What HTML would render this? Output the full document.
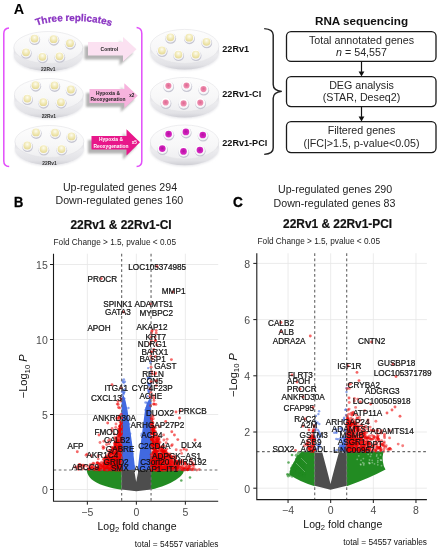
<!DOCTYPE html>
<html><head><meta charset="utf-8"><title>Figure</title>
<style>html,body{margin:0;padding:0;background:#fff;} body{width:440px;height:550px;overflow:hidden;} svg{display:block;}</style>
</head><body>
<svg width="440" height="550" viewBox="0 0 440 550">

<defs>
 <linearGradient id="ptop" x1="0" y1="0" x2="0" y2="1">
  <stop offset="0" stop-color="#fdfdfd"/><stop offset="0.6" stop-color="#f7f7f8"/><stop offset="1" stop-color="#efeff1"/>
 </linearGradient>
 <linearGradient id="pside" x1="0" y1="0" x2="0" y2="1">
  <stop offset="0" stop-color="#d9d9de"/><stop offset="0.35" stop-color="#ececef"/><stop offset="0.8" stop-color="#e2e2e6"/><stop offset="1" stop-color="#cfcfd5"/>
 </linearGradient>
 <radialGradient id="wring" cx="0.5" cy="0.42" r="0.6">
  <stop offset="0.6" stop-color="#ffffff"/><stop offset="0.9" stop-color="#f0f0f4"/><stop offset="1" stop-color="#dcdce4"/>
 </radialGradient>
 <radialGradient id="wy" cx="0.5" cy="0.35" r="0.65">
  <stop offset="0" stop-color="#fdfcf0"/><stop offset="0.55" stop-color="#f1e9b6"/><stop offset="1" stop-color="#e4d894"/>
 </radialGradient>
 <radialGradient id="wp" cx="0.5" cy="0.45" r="0.6">
  <stop offset="0" stop-color="#dc6890"/><stop offset="0.6" stop-color="#ec86aa"/><stop offset="1" stop-color="#f09ab8"/>
 </radialGradient>
 <radialGradient id="wm" cx="0.5" cy="0.45" r="0.6">
  <stop offset="0" stop-color="#b0149a"/><stop offset="0.6" stop-color="#d21ebe"/><stop offset="1" stop-color="#d43cc0"/>
 </radialGradient>
 <filter id="blur1" x="-20%" y="-20%" width="140%" height="140%"><feGaussianBlur stdDeviation="1.2"/></filter>
 <filter id="blur05" x="-20%" y="-20%" width="140%" height="140%"><feGaussianBlur stdDeviation="0.6"/></filter>
 <path id="arcT" d="M 34 27.5 C 45 18.6, 100 18.6, 113.5 28"/>
</defs>

<rect width="440" height="550" fill="#fff"/>
<text x="13.7" y="13.7" font-size="14.4" font-weight="bold" fill="#000" font-family='"Liberation Sans", Arial, sans-serif'>A</text>
<text font-size="9.9" font-weight="bold" fill="#8a34c2" stroke="#8a34c2" stroke-width="0.25" font-family='"Liberation Sans", Arial, sans-serif' letter-spacing="-0.05"><textPath href="#arcT" startOffset="50%" text-anchor="middle">Three replicates</textPath></text>
<path d="M 9 28 Q 3.8 28.5 3.8 33.5 L 3.8 161 Q 3.8 166.3 9.2 166.6" fill="none" stroke="#e24ffa" stroke-width="1.5"/>
<path d="M 136.6 27.6 Q 141.8 28.2 141.8 33.5 L 141.8 161 Q 141.8 166.3 136.6 166.6" fill="none" stroke="#e24ffa" stroke-width="1.5"/>
<ellipse cx="48.3" cy="56.0" rx="34.5" ry="16" fill="#e6e6ea" filter="url(#blur1)"/>
<path d="M 13.799999999999997 47.5 L 13.799999999999997 55.0 A 34.5 16 0 0 0 82.8 55.0 L 82.8 47.5 Z" fill="url(#pside)"/>
<ellipse cx="48.3" cy="47.5" rx="34.5" ry="16" fill="url(#ptop)" stroke="#e2e2e6" stroke-width="0.6"/>
<circle cx="34.8" cy="39.7" r="5.4" fill="#c6c6d2" filter="url(#blur05)"/>
<circle cx="34.5" cy="38.9" r="5.1" fill="url(#wring)"/>
<circle cx="34.5" cy="38.6" r="3.9" fill="url(#wy)"/>
<circle cx="53.9" cy="40.300000000000004" r="5.4" fill="#c6c6d2" filter="url(#blur05)"/>
<circle cx="53.6" cy="39.5" r="5.1" fill="url(#wring)"/>
<circle cx="53.6" cy="39.2" r="3.9" fill="url(#wy)"/>
<circle cx="70.3" cy="44.300000000000004" r="5.4" fill="#c6c6d2" filter="url(#blur05)"/>
<circle cx="70" cy="43.5" r="5.1" fill="url(#wring)"/>
<circle cx="70" cy="43.2" r="3.9" fill="url(#wy)"/>
<circle cx="26.3" cy="53.4" r="5.4" fill="#c6c6d2" filter="url(#blur05)"/>
<circle cx="26" cy="52.599999999999994" r="5.1" fill="url(#wring)"/>
<circle cx="26" cy="52.3" r="3.9" fill="url(#wy)"/>
<circle cx="42.699999999999996" cy="57.9" r="5.4" fill="#c6c6d2" filter="url(#blur05)"/>
<circle cx="42.4" cy="57.099999999999994" r="5.1" fill="url(#wring)"/>
<circle cx="42.4" cy="56.8" r="3.9" fill="url(#wy)"/>
<circle cx="59.8" cy="57.4" r="5.4" fill="#c6c6d2" filter="url(#blur05)"/>
<circle cx="59.5" cy="56.599999999999994" r="5.1" fill="url(#wring)"/>
<circle cx="59.5" cy="56.3" r="3.9" fill="url(#wy)"/>
<text x="48.3" y="70.5" font-size="4.9" font-weight="bold" text-anchor="middle" fill="#333" font-family='"Liberation Sans", Arial, sans-serif'>22Rv1</text>
<ellipse cx="48.849999999999994" cy="103.0" rx="34.5" ry="16" fill="#e6e6ea" filter="url(#blur1)"/>
<path d="M 14.349999999999994 94.5 L 14.349999999999994 102.0 A 34.5 16 0 0 0 83.35 102.0 L 83.35 94.5 Z" fill="url(#pside)"/>
<ellipse cx="48.849999999999994" cy="94.5" rx="34.5" ry="16" fill="url(#ptop)" stroke="#e2e2e6" stroke-width="0.6"/>
<circle cx="35.8" cy="86.3" r="5.4" fill="#c6c6d2" filter="url(#blur05)"/>
<circle cx="35.5" cy="85.5" r="5.1" fill="url(#wring)"/>
<circle cx="35.5" cy="85.2" r="3.9" fill="url(#wy)"/>
<circle cx="54.8" cy="86.5" r="5.4" fill="#c6c6d2" filter="url(#blur05)"/>
<circle cx="54.5" cy="85.7" r="5.1" fill="url(#wring)"/>
<circle cx="54.5" cy="85.4" r="3.9" fill="url(#wy)"/>
<circle cx="71.2" cy="90.6" r="5.4" fill="#c6c6d2" filter="url(#blur05)"/>
<circle cx="70.9" cy="89.8" r="5.1" fill="url(#wring)"/>
<circle cx="70.9" cy="89.5" r="3.9" fill="url(#wy)"/>
<circle cx="27.6" cy="99.69999999999999" r="5.4" fill="#c6c6d2" filter="url(#blur05)"/>
<circle cx="27.3" cy="98.89999999999999" r="5.1" fill="url(#wring)"/>
<circle cx="27.3" cy="98.6" r="3.9" fill="url(#wy)"/>
<circle cx="43.599999999999994" cy="103.3" r="5.4" fill="#c6c6d2" filter="url(#blur05)"/>
<circle cx="43.3" cy="102.5" r="5.1" fill="url(#wring)"/>
<circle cx="43.3" cy="102.2" r="3.9" fill="url(#wy)"/>
<circle cx="61.199999999999996" cy="103.3" r="5.4" fill="#c6c6d2" filter="url(#blur05)"/>
<circle cx="60.9" cy="102.5" r="5.1" fill="url(#wring)"/>
<circle cx="60.9" cy="102.2" r="3.9" fill="url(#wy)"/>
<text x="48.849999999999994" y="117.5" font-size="4.9" font-weight="bold" text-anchor="middle" fill="#333" font-family='"Liberation Sans", Arial, sans-serif'>22Rv1</text>
<ellipse cx="49.4" cy="150.0" rx="34.5" ry="16" fill="#e6e6ea" filter="url(#blur1)"/>
<path d="M 14.899999999999999 141.5 L 14.899999999999999 149.0 A 34.5 16 0 0 0 83.9 149.0 L 83.9 141.5 Z" fill="url(#pside)"/>
<ellipse cx="49.4" cy="141.5" rx="34.5" ry="16" fill="url(#ptop)" stroke="#e2e2e6" stroke-width="0.6"/>
<circle cx="36.3" cy="133.5" r="5.4" fill="#c6c6d2" filter="url(#blur05)"/>
<circle cx="36" cy="132.70000000000002" r="5.1" fill="url(#wring)"/>
<circle cx="36" cy="132.4" r="3.9" fill="url(#wy)"/>
<circle cx="55.3" cy="133.79999999999998" r="5.4" fill="#c6c6d2" filter="url(#blur05)"/>
<circle cx="55" cy="133.0" r="5.1" fill="url(#wring)"/>
<circle cx="55" cy="132.7" r="3.9" fill="url(#wy)"/>
<circle cx="71.8" cy="137.5" r="5.4" fill="#c6c6d2" filter="url(#blur05)"/>
<circle cx="71.5" cy="136.70000000000002" r="5.1" fill="url(#wring)"/>
<circle cx="71.5" cy="136.4" r="3.9" fill="url(#wy)"/>
<circle cx="27.6" cy="146.6" r="5.4" fill="#c6c6d2" filter="url(#blur05)"/>
<circle cx="27.3" cy="145.8" r="5.1" fill="url(#wring)"/>
<circle cx="27.3" cy="145.5" r="3.9" fill="url(#wy)"/>
<circle cx="43.9" cy="150.2" r="5.4" fill="#c6c6d2" filter="url(#blur05)"/>
<circle cx="43.6" cy="149.4" r="5.1" fill="url(#wring)"/>
<circle cx="43.6" cy="149.1" r="3.9" fill="url(#wy)"/>
<circle cx="61.8" cy="150.2" r="5.4" fill="#c6c6d2" filter="url(#blur05)"/>
<circle cx="61.5" cy="149.4" r="5.1" fill="url(#wring)"/>
<circle cx="61.5" cy="149.1" r="3.9" fill="url(#wy)"/>
<text x="49.4" y="164.5" font-size="4.9" font-weight="bold" text-anchor="middle" fill="#333" font-family='"Liberation Sans", Arial, sans-serif'>22Rv1</text>
<ellipse cx="184.6" cy="53.6" rx="34.3" ry="17" fill="#e6e6ea" filter="url(#blur1)"/>
<path d="M 150.3 46.4 L 150.3 52.6 A 34.3 17 0 0 0 218.89999999999998 52.6 L 218.89999999999998 46.4 Z" fill="url(#pside)"/>
<ellipse cx="184.6" cy="46.4" rx="34.3" ry="17" fill="url(#ptop)" stroke="#e2e2e6" stroke-width="0.6"/>
<circle cx="170.70000000000002" cy="38.4" r="5.4" fill="#c6c6d2" filter="url(#blur05)"/>
<circle cx="170.4" cy="37.599999999999994" r="5.1" fill="url(#wring)"/>
<circle cx="170.4" cy="37.3" r="3.9" fill="url(#wy)"/>
<circle cx="189.5" cy="38.800000000000004" r="5.4" fill="#c6c6d2" filter="url(#blur05)"/>
<circle cx="189.2" cy="38.0" r="5.1" fill="url(#wring)"/>
<circle cx="189.2" cy="37.7" r="3.9" fill="url(#wy)"/>
<circle cx="206.8" cy="42.9" r="5.4" fill="#c6c6d2" filter="url(#blur05)"/>
<circle cx="206.5" cy="42.099999999999994" r="5.1" fill="url(#wring)"/>
<circle cx="206.5" cy="41.8" r="3.9" fill="url(#wy)"/>
<circle cx="162.20000000000002" cy="51.6" r="5.4" fill="#c6c6d2" filter="url(#blur05)"/>
<circle cx="161.9" cy="50.8" r="5.1" fill="url(#wring)"/>
<circle cx="161.9" cy="50.5" r="3.9" fill="url(#wy)"/>
<circle cx="178.70000000000002" cy="55.7" r="5.4" fill="#c6c6d2" filter="url(#blur05)"/>
<circle cx="178.4" cy="54.9" r="5.1" fill="url(#wring)"/>
<circle cx="178.4" cy="54.6" r="3.9" fill="url(#wy)"/>
<circle cx="196.10000000000002" cy="55.7" r="5.4" fill="#c6c6d2" filter="url(#blur05)"/>
<circle cx="195.8" cy="54.9" r="5.1" fill="url(#wring)"/>
<circle cx="195.8" cy="54.6" r="3.9" fill="url(#wy)"/>
<ellipse cx="184.6" cy="101.60000000000001" rx="34.3" ry="17" fill="#e6e6ea" filter="url(#blur1)"/>
<path d="M 150.3 94.4 L 150.3 100.60000000000001 A 34.3 17 0 0 0 218.89999999999998 100.60000000000001 L 218.89999999999998 94.4 Z" fill="url(#pside)"/>
<ellipse cx="184.6" cy="94.4" rx="34.3" ry="17" fill="url(#ptop)" stroke="#e2e2e6" stroke-width="0.6"/>
<circle cx="168.70000000000002" cy="86.89999999999999" r="5.4" fill="#c6c6d2" filter="url(#blur05)"/>
<circle cx="168.4" cy="86.1" r="5.1" fill="url(#wring)"/>
<circle cx="168.4" cy="85.8" r="3.1" fill="url(#wp)"/>
<circle cx="186.8" cy="86.6" r="5.4" fill="#c6c6d2" filter="url(#blur05)"/>
<circle cx="186.5" cy="85.8" r="5.1" fill="url(#wring)"/>
<circle cx="186.5" cy="85.5" r="3.1" fill="url(#wp)"/>
<circle cx="203.8" cy="90.19999999999999" r="5.4" fill="#c6c6d2" filter="url(#blur05)"/>
<circle cx="203.5" cy="89.39999999999999" r="5.1" fill="url(#wring)"/>
<circle cx="203.5" cy="89.1" r="3.1" fill="url(#wp)"/>
<circle cx="166.0" cy="103.6" r="5.4" fill="#c6c6d2" filter="url(#blur05)"/>
<circle cx="165.7" cy="102.8" r="5.1" fill="url(#wring)"/>
<circle cx="165.7" cy="102.5" r="3.1" fill="url(#wp)"/>
<circle cx="183.9" cy="104.5" r="5.4" fill="#c6c6d2" filter="url(#blur05)"/>
<circle cx="183.6" cy="103.7" r="5.1" fill="url(#wring)"/>
<circle cx="183.6" cy="103.4" r="3.1" fill="url(#wp)"/>
<circle cx="200.60000000000002" cy="103.8" r="5.4" fill="#c6c6d2" filter="url(#blur05)"/>
<circle cx="200.3" cy="103.0" r="5.1" fill="url(#wring)"/>
<circle cx="200.3" cy="102.7" r="3.1" fill="url(#wp)"/>
<ellipse cx="184.6" cy="149.2" rx="34.3" ry="17" fill="#e6e6ea" filter="url(#blur1)"/>
<path d="M 150.3 142.0 L 150.3 148.2 A 34.3 17 0 0 0 218.89999999999998 148.2 L 218.89999999999998 142.0 Z" fill="url(#pside)"/>
<ellipse cx="184.6" cy="142.0" rx="34.3" ry="17" fill="url(#ptop)" stroke="#e2e2e6" stroke-width="0.6"/>
<circle cx="168.9" cy="135.2" r="5.4" fill="#c6c6d2" filter="url(#blur05)"/>
<circle cx="168.6" cy="134.4" r="5.1" fill="url(#wring)"/>
<circle cx="168.6" cy="134.1" r="3.35" fill="url(#wm)"/>
<circle cx="186.20000000000002" cy="133.0" r="5.4" fill="#c6c6d2" filter="url(#blur05)"/>
<circle cx="185.9" cy="132.20000000000002" r="5.1" fill="url(#wring)"/>
<circle cx="185.9" cy="131.9" r="3.35" fill="url(#wm)"/>
<circle cx="203.10000000000002" cy="136.1" r="5.4" fill="#c6c6d2" filter="url(#blur05)"/>
<circle cx="202.8" cy="135.3" r="5.1" fill="url(#wring)"/>
<circle cx="202.8" cy="135" r="3.35" fill="url(#wm)"/>
<circle cx="162.60000000000002" cy="149.7" r="5.4" fill="#c6c6d2" filter="url(#blur05)"/>
<circle cx="162.3" cy="148.9" r="5.1" fill="url(#wring)"/>
<circle cx="162.3" cy="148.6" r="3.35" fill="url(#wm)"/>
<circle cx="183.8" cy="152.5" r="5.4" fill="#c6c6d2" filter="url(#blur05)"/>
<circle cx="183.5" cy="151.70000000000002" r="5.1" fill="url(#wring)"/>
<circle cx="183.5" cy="151.4" r="3.35" fill="url(#wm)"/>
<circle cx="200.20000000000002" cy="151.2" r="5.4" fill="#c6c6d2" filter="url(#blur05)"/>
<circle cx="199.9" cy="150.4" r="5.1" fill="url(#wring)"/>
<circle cx="199.9" cy="150.1" r="3.35" fill="url(#wm)"/>
<path d="M 88 42 L 123 42 L 123 37 L 136.5 49.2 L 123 61.5 L 123 55.5 L 88 55.5 Z" fill="#9a9a9a" opacity="0.75" transform="translate(-3.5,4)" filter="url(#blur1)"/><path d="M 88 42 L 123 42 L 123 37 L 136.5 49.2 L 123 61.5 L 123 55.5 L 88 55.5 Z" fill="#fbe1f1"/>
<path d="M 89.5 89 L 124.3 89 L 124.3 83.2 L 137.8 95.7 L 124.3 108 L 124.3 103 L 89.5 103 Z" fill="#9a9a9a" opacity="0.75" transform="translate(-3.5,4)" filter="url(#blur1)"/><path d="M 89.5 89 L 124.3 89 L 124.3 83.2 L 137.8 95.7 L 124.3 108 L 124.3 103 L 89.5 103 Z" fill="#f7b3dd"/>
<path d="M 91.5 136 L 126.5 136 L 126.5 129.2 L 140 142.3 L 126.5 155.5 L 126.5 149.5 L 91.5 149.5 Z" fill="#9a9a9a" opacity="0.75" transform="translate(-3.5,4)" filter="url(#blur1)"/><path d="M 91.5 136 L 126.5 136 L 126.5 129.2 L 140 142.3 L 126.5 155.5 L 126.5 149.5 L 91.5 149.5 Z" fill="#e8178a"/>
<text x="109.4" y="50.8" font-size="4.95" font-weight="bold" text-anchor="middle" fill="#222" font-family='"Liberation Sans", Arial, sans-serif'>Control</text>
<text x="108" y="94.9" font-size="4.9" font-weight="bold" text-anchor="middle" fill="#222" font-family='"Liberation Sans", Arial, sans-serif'>Hypoxia &amp;</text>
<text x="108" y="100.8" font-size="4.9" font-weight="bold" text-anchor="middle" fill="#222" font-family='"Liberation Sans", Arial, sans-serif'>Reoxygenation</text>
<text x="131.8" y="97.3" font-size="4.6" font-weight="bold" text-anchor="middle" fill="#222" font-family='"Liberation Sans", Arial, sans-serif'>x2</text>
<text x="111" y="141.4" font-size="4.9" font-weight="bold" text-anchor="middle" fill="#fff" font-family='"Liberation Sans", Arial, sans-serif'>Hypoxia &amp;</text>
<text x="111" y="147.6" font-size="4.9" font-weight="bold" text-anchor="middle" fill="#fff" font-family='"Liberation Sans", Arial, sans-serif'>Reoxygenation</text>
<text x="134.3" y="144.1" font-size="4.6" font-weight="bold" text-anchor="middle" fill="#fff" font-family='"Liberation Sans", Arial, sans-serif'>x5</text>
<text x="222.3" y="52.4" font-size="9.1" font-weight="bold" fill="#111" font-family='"Liberation Sans", Arial, sans-serif'>22Rv1</text>
<text x="222.3" y="96.7" font-size="9.1" font-weight="bold" fill="#111" font-family='"Liberation Sans", Arial, sans-serif'>22Rv1-CI</text>
<text x="222.3" y="146.3" font-size="9.1" font-weight="bold" fill="#111" font-family='"Liberation Sans", Arial, sans-serif'>22Rv1-PCI</text>
<path d="M 264.2 28.6 Q 273.2 29.2 273.2 35 L 273.2 84.5 Q 273.2 90.6 281.8 91.4 Q 273.2 92.2 273.2 98.3 L 273.2 148 Q 273.2 153.8 264.2 154.4" fill="none" stroke="#222" stroke-width="1.45"/>
<text x="361.5" y="24.6" font-size="11.7" font-weight="bold" text-anchor="middle" fill="#111" font-family='"Liberation Sans", Arial, sans-serif'>RNA sequencing</text>
<rect x="286.5" y="31.6" width="149.5" height="29.799999999999997" rx="4.5" fill="#fff" stroke="#1a1a1a" stroke-width="1.3"/>
<rect x="286.5" y="76.6" width="149.5" height="30.0" rx="4.5" fill="#fff" stroke="#1a1a1a" stroke-width="1.3"/>
<rect x="286.5" y="121.6" width="149.5" height="31.0" rx="4.5" fill="#fff" stroke="#1a1a1a" stroke-width="1.3"/>
<text x="361.5" y="44.2" font-size="10.7" text-anchor="middle" fill="#262626" font-family='"Liberation Sans", Arial, sans-serif' >Total annotated genes</text>
<text x="361.5" y="56" font-size="10.7" text-anchor="middle" fill="#262626" font-family='"Liberation Sans", Arial, sans-serif' ><tspan font-style="italic">n</tspan> = 54,557</text>
<text x="361.5" y="89.3" font-size="10.7" text-anchor="middle" fill="#262626" font-family='"Liberation Sans", Arial, sans-serif' >DEG analysis</text>
<text x="361.5" y="101.4" font-size="10.7" text-anchor="middle" fill="#262626" font-family='"Liberation Sans", Arial, sans-serif' >(STAR, Deseq2)</text>
<text x="361.5" y="133.7" font-size="10.7" text-anchor="middle" fill="#262626" font-family='"Liberation Sans", Arial, sans-serif' >Filtered genes</text>
<text x="361.5" y="147" font-size="10.7" text-anchor="middle" fill="#262626" font-family='"Liberation Sans", Arial, sans-serif' >(|FC|&gt;1.5, p-value&lt;0.05)</text>
<line x1="361.5" y1="61.4" x2="361.5" y2="71.9" stroke="#111" stroke-width="1.2"/>
<path d="M 358.6 71.4 L 364.4 71.4 L 361.5 76.4 Z" fill="#111"/>
<line x1="361.5" y1="106.6" x2="361.5" y2="116.9" stroke="#111" stroke-width="1.2"/>
<path d="M 358.6 116.4 L 364.4 116.4 L 361.5 121.4 Z" fill="#111"/>
<clipPath id="clipB"><rect x="53.5" y="253.7" width="164.7" height="247.60000000000002"/></clipPath>
<line x1="87.35" y1="253.7" x2="87.35" y2="501.3" stroke="#e6e6e6" stroke-width="0.8"/>
<line x1="136.35" y1="253.7" x2="136.35" y2="501.3" stroke="#e6e6e6" stroke-width="0.8"/>
<line x1="185.35" y1="253.7" x2="185.35" y2="501.3" stroke="#e6e6e6" stroke-width="0.8"/>
<line x1="53.5" y1="489.50" x2="218.2" y2="489.50" stroke="#e6e6e6" stroke-width="0.8"/>
<line x1="53.5" y1="414.50" x2="218.2" y2="414.50" stroke="#e6e6e6" stroke-width="0.8"/>
<line x1="53.5" y1="339.50" x2="218.2" y2="339.50" stroke="#e6e6e6" stroke-width="0.8"/>
<line x1="53.5" y1="264.50" x2="218.2" y2="264.50" stroke="#e6e6e6" stroke-width="0.8"/>
<g clip-path="url(#clipB)">
<path d="M 121.6 470.0 L 134.2 470.0 L 136.2 482 L 138.5 470.0 L 151.0 470.0 L 151.0 489.6 L 136.3 491.3 L 121.6 489.6 Z" fill="#4d4d4d"/>
<path d="M 121.6 470 L 121.6 399 L 123.5 395 L 125.6 401 L 127.5 410 L 130.2 430 L 133 450 L 135.2 470 Z" fill="#4169e1"/>
<path d="M 151.0 470 L 151.0 398 L 148.6 400 L 146.6 404 L 145 410 L 142.5 430 L 140 450 L 137.6 470 Z" fill="#4169e1"/>
<path d="M 121.6 470 L 86.8 470 C 87.2 479, 97 486, 121.6 489.8 Z" fill="#228b22"/>
<path d="M 151.0 470 L 183.6 470.3 C 185 475, 172 485, 151.0 489.6 Z" fill="#228b22"/>
<g fill="#4169e1" fill-opacity="0.6">
<circle cx="142.8" cy="465.1" r="1.2"/>
<circle cx="123.7" cy="382.8" r="1.2"/>
<circle cx="150.2" cy="430.8" r="1.2"/>
<circle cx="123.9" cy="379.5" r="1.2"/>
<circle cx="124.4" cy="398.6" r="1.2"/>
<circle cx="132.5" cy="453.7" r="1.2"/>
<circle cx="125.9" cy="435.3" r="1.2"/>
<circle cx="127.5" cy="430.2" r="1.2"/>
<circle cx="122.2" cy="380.4" r="1.2"/>
<circle cx="147.4" cy="415.4" r="1.2"/>
<circle cx="148.0" cy="428.7" r="1.2"/>
<circle cx="125.2" cy="430.7" r="1.2"/>
<circle cx="149.7" cy="385.2" r="1.2"/>
<circle cx="126.8" cy="434.2" r="1.2"/>
<circle cx="144.7" cy="449.1" r="1.2"/>
<circle cx="145.5" cy="410.0" r="1.2"/>
<circle cx="130.0" cy="441.7" r="1.2"/>
<circle cx="149.9" cy="425.4" r="1.2"/>
<circle cx="150.9" cy="403.1" r="1.2"/>
<circle cx="129.2" cy="424.1" r="1.2"/>
<circle cx="148.4" cy="390.3" r="1.2"/>
<circle cx="134.4" cy="466.4" r="1.2"/>
<circle cx="146.4" cy="408.0" r="1.2"/>
<circle cx="145.8" cy="430.5" r="1.2"/>
<circle cx="128.8" cy="464.8" r="1.2"/>
<circle cx="122.9" cy="381.7" r="1.2"/>
<circle cx="147.0" cy="402.8" r="1.2"/>
<circle cx="149.0" cy="378.1" r="1.2"/>
<circle cx="126.7" cy="433.4" r="1.2"/>
<circle cx="131.9" cy="448.2" r="1.2"/>
<circle cx="122.3" cy="413.4" r="1.2"/>
<circle cx="148.6" cy="383.6" r="1.2"/>
<circle cx="148.7" cy="459.0" r="1.2"/>
<circle cx="150.9" cy="442.4" r="1.2"/>
<circle cx="139.4" cy="466.0" r="1.2"/>
<circle cx="123.4" cy="390.2" r="1.2"/>
<circle cx="125.2" cy="421.6" r="1.2"/>
<circle cx="145.5" cy="402.5" r="1.2"/>
<circle cx="144.2" cy="433.3" r="1.2"/>
<circle cx="126.9" cy="440.9" r="1.2"/>
<circle cx="122.7" cy="418.9" r="1.2"/>
<circle cx="146.3" cy="413.4" r="1.2"/>
<circle cx="141.4" cy="435.6" r="1.2"/>
<circle cx="129.5" cy="468.6" r="1.2"/>
<circle cx="128.4" cy="408.0" r="1.2"/>
<circle cx="126.1" cy="429.3" r="1.2"/>
<circle cx="141.7" cy="433.7" r="1.2"/>
<circle cx="130.2" cy="433.7" r="1.2"/>
<circle cx="145.6" cy="465.8" r="1.2"/>
<circle cx="150.3" cy="387.5" r="1.2"/>
<circle cx="145.1" cy="421.2" r="1.2"/>
<circle cx="124.7" cy="385.6" r="1.2"/>
<circle cx="148.4" cy="421.0" r="1.2"/>
<circle cx="121.9" cy="395.3" r="1.2"/>
<circle cx="148.7" cy="389.8" r="1.2"/>
<circle cx="129.8" cy="447.3" r="1.2"/>
<circle cx="129.8" cy="441.4" r="1.2"/>
<circle cx="142.5" cy="461.4" r="1.2"/>
<circle cx="123.7" cy="426.1" r="1.2"/>
<circle cx="147.1" cy="435.8" r="1.2"/>
<circle cx="150.3" cy="389.8" r="1.2"/>
<circle cx="148.2" cy="368.1" r="1.2"/>
<circle cx="148.9" cy="391.7" r="1.2"/>
<circle cx="148.2" cy="378.7" r="1.2"/>
<circle cx="150.1" cy="399.6" r="1.2"/>
<circle cx="150.3" cy="377.8" r="1.2"/>
<circle cx="148.2" cy="383.4" r="1.2"/>
<circle cx="148.7" cy="392.0" r="1.2"/>
<circle cx="150.0" cy="372.7" r="1.2"/>
<circle cx="150.9" cy="361.4" r="1.2"/>
<circle cx="147.9" cy="377.7" r="1.2"/>
<circle cx="148.7" cy="378.3" r="1.2"/>
<circle cx="150.9" cy="383.6" r="1.2"/>
<circle cx="147.5" cy="396.2" r="1.2"/>
<circle cx="148.7" cy="385.0" r="1.2"/>
<circle cx="150.4" cy="363.0" r="1.2"/>
<circle cx="123.4" cy="394.2" r="1.2"/>
<circle cx="122.6" cy="397.8" r="1.2"/>
<circle cx="123.6" cy="392.7" r="1.2"/>
<circle cx="122.2" cy="398.9" r="1.2"/>
<circle cx="124.8" cy="389.3" r="1.2"/>
<circle cx="124.9" cy="381.7" r="1.2"/>
<circle cx="122.5" cy="399.9" r="1.2"/>
<circle cx="121.9" cy="391.8" r="1.2"/>
<circle cx="123.8" cy="393.1" r="1.2"/>
<circle cx="124.4" cy="391.9" r="1.2"/>
<circle cx="123.8" cy="398.7" r="1.2"/>
<circle cx="122.5" cy="391.0" r="1.2"/>
</g>
<g fill="#ee0000" fill-opacity="0.55">
<circle cx="150.6" cy="397.5" r="1.45"/>
<circle cx="155.2" cy="336.9" r="1.45"/>
<circle cx="155.4" cy="340.1" r="1.45"/>
<circle cx="156.9" cy="344.9" r="1.45"/>
<circle cx="156.2" cy="330.4" r="1.45"/>
<circle cx="151.9" cy="371.6" r="1.45"/>
<circle cx="155.5" cy="356.4" r="1.45"/>
<circle cx="154.0" cy="400.6" r="1.45"/>
<circle cx="150.9" cy="392.4" r="1.45"/>
<circle cx="156.3" cy="385.6" r="1.45"/>
<circle cx="155.8" cy="373.0" r="1.45"/>
<circle cx="155.9" cy="404.4" r="1.45"/>
<circle cx="151.3" cy="341.2" r="1.45"/>
<circle cx="153.8" cy="403.9" r="1.45"/>
<circle cx="155.5" cy="380.9" r="1.45"/>
<circle cx="155.5" cy="341.0" r="1.45"/>
<circle cx="151.4" cy="381.9" r="1.45"/>
<circle cx="151.3" cy="333.4" r="1.45"/>
<circle cx="154.9" cy="374.2" r="1.45"/>
<circle cx="153.6" cy="395.6" r="1.45"/>
<circle cx="156.2" cy="332.9" r="1.45"/>
<circle cx="151.7" cy="331.7" r="1.45"/>
<circle cx="151.1" cy="367.3" r="1.45"/>
<circle cx="150.7" cy="405.8" r="1.45"/>
<circle cx="150.9" cy="356.3" r="1.45"/>
<circle cx="156.8" cy="380.7" r="1.45"/>
<circle cx="151.8" cy="352.1" r="1.45"/>
<circle cx="153.8" cy="398.2" r="1.45"/>
<circle cx="153.8" cy="349.5" r="1.45"/>
<circle cx="153.9" cy="404.2" r="1.45"/>
<circle cx="121.1" cy="422.7" r="1.45"/>
<circle cx="120.9" cy="401.1" r="1.45"/>
<circle cx="118.5" cy="407.5" r="1.45"/>
<circle cx="118.2" cy="404.5" r="1.45"/>
<circle cx="119.7" cy="407.9" r="1.45"/>
<circle cx="117.2" cy="404.1" r="1.45"/>
<circle cx="116.7" cy="418.3" r="1.45"/>
<circle cx="121.2" cy="414.3" r="1.45"/>
</g>
<g fill="#ee0000" fill-opacity="0.5">
<circle cx="117.4" cy="466.1" r="1.45"/>
<circle cx="120.3" cy="456.3" r="1.45"/>
<circle cx="108.9" cy="469.6" r="1.45"/>
<circle cx="101.5" cy="469.4" r="1.45"/>
<circle cx="111.4" cy="468.1" r="1.45"/>
<circle cx="110.2" cy="451.7" r="1.45"/>
<circle cx="116.8" cy="461.7" r="1.45"/>
<circle cx="117.5" cy="469.2" r="1.45"/>
<circle cx="117.4" cy="463.8" r="1.45"/>
<circle cx="115.9" cy="452.7" r="1.45"/>
<circle cx="117.1" cy="458.1" r="1.45"/>
<circle cx="118.4" cy="434.0" r="1.45"/>
<circle cx="120.5" cy="428.5" r="1.45"/>
<circle cx="119.2" cy="436.2" r="1.45"/>
<circle cx="120.8" cy="463.9" r="1.45"/>
<circle cx="99.6" cy="469.4" r="1.45"/>
<circle cx="108.5" cy="458.3" r="1.45"/>
<circle cx="104.0" cy="463.7" r="1.45"/>
<circle cx="94.5" cy="468.2" r="1.45"/>
<circle cx="114.5" cy="460.8" r="1.45"/>
<circle cx="115.3" cy="465.2" r="1.45"/>
<circle cx="118.6" cy="442.6" r="1.45"/>
<circle cx="119.8" cy="433.1" r="1.45"/>
<circle cx="118.7" cy="469.9" r="1.45"/>
<circle cx="120.8" cy="464.3" r="1.45"/>
<circle cx="112.9" cy="467.9" r="1.45"/>
<circle cx="118.8" cy="468.6" r="1.45"/>
<circle cx="121.5" cy="417.8" r="1.45"/>
<circle cx="116.6" cy="441.9" r="1.45"/>
<circle cx="112.6" cy="469.8" r="1.45"/>
<circle cx="110.1" cy="453.5" r="1.45"/>
<circle cx="89.2" cy="469.2" r="1.45"/>
<circle cx="119.8" cy="430.5" r="1.45"/>
<circle cx="112.4" cy="461.9" r="1.45"/>
<circle cx="119.5" cy="458.2" r="1.45"/>
<circle cx="111.3" cy="467.5" r="1.45"/>
<circle cx="106.5" cy="456.2" r="1.45"/>
<circle cx="121.3" cy="469.9" r="1.45"/>
<circle cx="115.1" cy="442.9" r="1.45"/>
<circle cx="114.9" cy="467.1" r="1.45"/>
<circle cx="116.1" cy="454.1" r="1.45"/>
<circle cx="111.9" cy="459.2" r="1.45"/>
<circle cx="114.3" cy="448.4" r="1.45"/>
<circle cx="88.9" cy="469.0" r="1.45"/>
<circle cx="119.4" cy="466.0" r="1.45"/>
<circle cx="119.6" cy="434.6" r="1.45"/>
<circle cx="109.5" cy="469.2" r="1.45"/>
<circle cx="79.3" cy="464.5" r="1.45"/>
<circle cx="104.8" cy="470.0" r="1.45"/>
<circle cx="112.5" cy="451.8" r="1.45"/>
<circle cx="116.4" cy="469.7" r="1.45"/>
<circle cx="111.5" cy="465.6" r="1.45"/>
<circle cx="115.1" cy="443.2" r="1.45"/>
<circle cx="113.1" cy="456.9" r="1.45"/>
<circle cx="121.2" cy="466.5" r="1.45"/>
<circle cx="118.7" cy="470.0" r="1.45"/>
<circle cx="117.4" cy="464.1" r="1.45"/>
<circle cx="82.6" cy="469.0" r="1.45"/>
<circle cx="121.3" cy="427.8" r="1.45"/>
<circle cx="119.4" cy="467.2" r="1.45"/>
<circle cx="117.8" cy="469.3" r="1.45"/>
<circle cx="118.6" cy="450.0" r="1.45"/>
<circle cx="119.0" cy="442.8" r="1.45"/>
<circle cx="120.8" cy="434.8" r="1.45"/>
<circle cx="120.2" cy="450.4" r="1.45"/>
<circle cx="117.0" cy="465.1" r="1.45"/>
<circle cx="112.4" cy="469.6" r="1.45"/>
<circle cx="92.2" cy="464.6" r="1.45"/>
<circle cx="120.1" cy="432.1" r="1.45"/>
<circle cx="107.4" cy="463.5" r="1.45"/>
<circle cx="108.2" cy="460.7" r="1.45"/>
<circle cx="115.3" cy="466.2" r="1.45"/>
<circle cx="112.7" cy="469.0" r="1.45"/>
<circle cx="105.4" cy="462.5" r="1.45"/>
<circle cx="115.0" cy="462.8" r="1.45"/>
<circle cx="110.4" cy="463.7" r="1.45"/>
<circle cx="99.2" cy="464.2" r="1.45"/>
<circle cx="113.8" cy="452.0" r="1.45"/>
<circle cx="121.5" cy="441.3" r="1.45"/>
<circle cx="106.8" cy="461.8" r="1.45"/>
<circle cx="92.6" cy="466.5" r="1.45"/>
<circle cx="120.8" cy="469.7" r="1.45"/>
<circle cx="112.2" cy="449.7" r="1.45"/>
<circle cx="117.3" cy="460.4" r="1.45"/>
<circle cx="121.2" cy="469.9" r="1.45"/>
<circle cx="114.6" cy="467.2" r="1.45"/>
<circle cx="118.8" cy="458.6" r="1.45"/>
<circle cx="121.0" cy="425.5" r="1.45"/>
<circle cx="100.4" cy="469.8" r="1.45"/>
<circle cx="114.7" cy="453.1" r="1.45"/>
<circle cx="115.7" cy="448.9" r="1.45"/>
<circle cx="104.2" cy="468.8" r="1.45"/>
<circle cx="108.5" cy="468.4" r="1.45"/>
<circle cx="111.9" cy="463.9" r="1.45"/>
<circle cx="104.3" cy="469.8" r="1.45"/>
<circle cx="99.2" cy="468.8" r="1.45"/>
<circle cx="121.2" cy="445.5" r="1.45"/>
<circle cx="119.6" cy="450.9" r="1.45"/>
<circle cx="117.9" cy="451.5" r="1.45"/>
<circle cx="110.7" cy="461.1" r="1.45"/>
<circle cx="120.3" cy="455.5" r="1.45"/>
<circle cx="115.5" cy="442.2" r="1.45"/>
<circle cx="120.7" cy="465.8" r="1.45"/>
<circle cx="115.4" cy="453.3" r="1.45"/>
<circle cx="118.5" cy="458.5" r="1.45"/>
<circle cx="108.1" cy="454.6" r="1.45"/>
<circle cx="114.2" cy="466.0" r="1.45"/>
<circle cx="120.8" cy="455.2" r="1.45"/>
<circle cx="118.5" cy="469.4" r="1.45"/>
<circle cx="115.1" cy="442.2" r="1.45"/>
<circle cx="117.1" cy="440.5" r="1.45"/>
<circle cx="96.8" cy="469.9" r="1.45"/>
<circle cx="120.8" cy="439.4" r="1.45"/>
<circle cx="118.8" cy="462.2" r="1.45"/>
<circle cx="113.0" cy="458.8" r="1.45"/>
<circle cx="118.6" cy="468.8" r="1.45"/>
<circle cx="117.4" cy="458.5" r="1.45"/>
<circle cx="102.2" cy="467.6" r="1.45"/>
<circle cx="120.0" cy="428.3" r="1.45"/>
<circle cx="111.0" cy="465.4" r="1.45"/>
<circle cx="109.6" cy="465.7" r="1.45"/>
<circle cx="117.3" cy="468.8" r="1.45"/>
<circle cx="117.9" cy="463.9" r="1.45"/>
<circle cx="117.8" cy="461.7" r="1.45"/>
<circle cx="95.5" cy="469.4" r="1.45"/>
<circle cx="121.5" cy="437.5" r="1.45"/>
<circle cx="118.9" cy="469.5" r="1.45"/>
<circle cx="117.0" cy="443.0" r="1.45"/>
<circle cx="120.9" cy="426.4" r="1.45"/>
<circle cx="108.5" cy="457.5" r="1.45"/>
<circle cx="118.6" cy="469.6" r="1.45"/>
<circle cx="111.6" cy="460.1" r="1.45"/>
<circle cx="120.1" cy="426.3" r="1.45"/>
<circle cx="116.3" cy="465.0" r="1.45"/>
<circle cx="107.8" cy="459.6" r="1.45"/>
<circle cx="116.5" cy="469.9" r="1.45"/>
<circle cx="108.3" cy="466.3" r="1.45"/>
<circle cx="102.2" cy="465.9" r="1.45"/>
<circle cx="119.5" cy="469.2" r="1.45"/>
<circle cx="96.4" cy="468.1" r="1.45"/>
<circle cx="112.8" cy="469.0" r="1.45"/>
<circle cx="102.7" cy="466.6" r="1.45"/>
<circle cx="99.0" cy="466.5" r="1.45"/>
<circle cx="119.9" cy="459.1" r="1.45"/>
<circle cx="118.6" cy="465.6" r="1.45"/>
<circle cx="109.2" cy="461.4" r="1.45"/>
<circle cx="116.8" cy="466.7" r="1.45"/>
<circle cx="115.5" cy="454.7" r="1.45"/>
<circle cx="120.5" cy="446.7" r="1.45"/>
<circle cx="120.9" cy="453.6" r="1.45"/>
<circle cx="106.1" cy="464.8" r="1.45"/>
<circle cx="116.0" cy="464.7" r="1.45"/>
<circle cx="108.4" cy="465.9" r="1.45"/>
<circle cx="114.3" cy="467.3" r="1.45"/>
<circle cx="119.9" cy="452.6" r="1.45"/>
<circle cx="118.1" cy="462.5" r="1.45"/>
<circle cx="106.2" cy="468.9" r="1.45"/>
<circle cx="121.5" cy="428.1" r="1.45"/>
<circle cx="117.2" cy="448.7" r="1.45"/>
<circle cx="119.5" cy="464.7" r="1.45"/>
<circle cx="108.7" cy="464.7" r="1.45"/>
<circle cx="113.7" cy="465.2" r="1.45"/>
<circle cx="110.8" cy="463.0" r="1.45"/>
<circle cx="107.1" cy="458.9" r="1.45"/>
<circle cx="120.7" cy="429.2" r="1.45"/>
<circle cx="117.1" cy="453.1" r="1.45"/>
<circle cx="116.4" cy="465.1" r="1.45"/>
<circle cx="106.0" cy="457.3" r="1.45"/>
<circle cx="120.4" cy="458.1" r="1.45"/>
<circle cx="108.2" cy="458.9" r="1.45"/>
<circle cx="89.5" cy="467.9" r="1.45"/>
<circle cx="120.9" cy="425.8" r="1.45"/>
<circle cx="97.1" cy="467.0" r="1.45"/>
<circle cx="115.8" cy="461.7" r="1.45"/>
<circle cx="107.4" cy="468.6" r="1.45"/>
<circle cx="120.1" cy="426.4" r="1.45"/>
<circle cx="120.6" cy="434.9" r="1.45"/>
<circle cx="110.4" cy="455.7" r="1.45"/>
<circle cx="100.7" cy="469.8" r="1.45"/>
<circle cx="107.7" cy="470.0" r="1.45"/>
<circle cx="120.4" cy="450.9" r="1.45"/>
<circle cx="121.3" cy="440.0" r="1.45"/>
<circle cx="91.1" cy="466.8" r="1.45"/>
<circle cx="114.7" cy="462.8" r="1.45"/>
<circle cx="108.2" cy="469.6" r="1.45"/>
<circle cx="118.3" cy="435.2" r="1.45"/>
<circle cx="119.7" cy="464.9" r="1.45"/>
<circle cx="107.1" cy="470.0" r="1.45"/>
<circle cx="114.5" cy="443.6" r="1.45"/>
<circle cx="118.6" cy="463.8" r="1.45"/>
<circle cx="104.6" cy="468.7" r="1.45"/>
<circle cx="114.7" cy="459.7" r="1.45"/>
<circle cx="121.4" cy="457.5" r="1.45"/>
<circle cx="111.9" cy="469.8" r="1.45"/>
<circle cx="119.6" cy="434.2" r="1.45"/>
<circle cx="112.0" cy="469.6" r="1.45"/>
<circle cx="119.2" cy="459.4" r="1.45"/>
<circle cx="117.3" cy="458.8" r="1.45"/>
<circle cx="110.6" cy="458.8" r="1.45"/>
<circle cx="117.5" cy="462.0" r="1.45"/>
<circle cx="121.6" cy="462.6" r="1.45"/>
<circle cx="104.3" cy="469.8" r="1.45"/>
<circle cx="115.3" cy="467.8" r="1.45"/>
<circle cx="108.1" cy="468.9" r="1.45"/>
<circle cx="115.8" cy="466.4" r="1.45"/>
<circle cx="101.2" cy="469.7" r="1.45"/>
<circle cx="112.6" cy="459.8" r="1.45"/>
<circle cx="100.5" cy="467.0" r="1.45"/>
<circle cx="99.2" cy="469.9" r="1.45"/>
<circle cx="113.2" cy="449.1" r="1.45"/>
<circle cx="121.1" cy="469.9" r="1.45"/>
<circle cx="113.2" cy="464.2" r="1.45"/>
<circle cx="110.1" cy="468.8" r="1.45"/>
<circle cx="116.1" cy="452.1" r="1.45"/>
<circle cx="118.1" cy="468.8" r="1.45"/>
<circle cx="120.9" cy="467.2" r="1.45"/>
<circle cx="119.7" cy="447.9" r="1.45"/>
<circle cx="114.7" cy="461.9" r="1.45"/>
<circle cx="118.2" cy="447.5" r="1.45"/>
<circle cx="104.6" cy="458.1" r="1.45"/>
<circle cx="116.2" cy="469.1" r="1.45"/>
<circle cx="120.9" cy="469.1" r="1.45"/>
<circle cx="116.6" cy="443.5" r="1.45"/>
<circle cx="114.0" cy="453.7" r="1.45"/>
<circle cx="117.2" cy="447.5" r="1.45"/>
<circle cx="118.2" cy="443.4" r="1.45"/>
<circle cx="120.8" cy="442.1" r="1.45"/>
<circle cx="119.6" cy="453.7" r="1.45"/>
<circle cx="116.1" cy="464.9" r="1.45"/>
<circle cx="109.2" cy="464.8" r="1.45"/>
<circle cx="112.4" cy="467.6" r="1.45"/>
<circle cx="112.5" cy="464.7" r="1.45"/>
<circle cx="117.3" cy="459.9" r="1.45"/>
<circle cx="106.5" cy="469.8" r="1.45"/>
<circle cx="119.6" cy="469.5" r="1.45"/>
<circle cx="113.0" cy="465.4" r="1.45"/>
<circle cx="117.9" cy="436.2" r="1.45"/>
<circle cx="121.2" cy="438.0" r="1.45"/>
<circle cx="110.8" cy="453.0" r="1.45"/>
<circle cx="118.4" cy="447.3" r="1.45"/>
<circle cx="113.2" cy="453.2" r="1.45"/>
<circle cx="94.4" cy="469.9" r="1.45"/>
<circle cx="105.4" cy="469.6" r="1.45"/>
<circle cx="109.9" cy="464.7" r="1.45"/>
<circle cx="107.7" cy="459.6" r="1.45"/>
<circle cx="98.9" cy="463.6" r="1.45"/>
<circle cx="120.3" cy="454.8" r="1.45"/>
<circle cx="121.6" cy="422.9" r="1.45"/>
<circle cx="118.3" cy="448.9" r="1.45"/>
<circle cx="120.1" cy="465.5" r="1.45"/>
<circle cx="103.3" cy="466.7" r="1.45"/>
<circle cx="107.4" cy="463.5" r="1.45"/>
<circle cx="115.0" cy="463.8" r="1.45"/>
<circle cx="120.0" cy="459.2" r="1.45"/>
<circle cx="111.9" cy="463.4" r="1.45"/>
<circle cx="114.3" cy="468.6" r="1.45"/>
<circle cx="116.5" cy="469.1" r="1.45"/>
<circle cx="121.0" cy="446.6" r="1.45"/>
<circle cx="119.5" cy="459.3" r="1.45"/>
<circle cx="80.1" cy="464.6" r="1.45"/>
<circle cx="119.9" cy="468.2" r="1.45"/>
<circle cx="115.9" cy="444.8" r="1.45"/>
<circle cx="119.2" cy="454.6" r="1.45"/>
<circle cx="107.8" cy="460.2" r="1.45"/>
<circle cx="107.6" cy="467.9" r="1.45"/>
<circle cx="118.6" cy="465.2" r="1.45"/>
<circle cx="118.9" cy="465.3" r="1.45"/>
<circle cx="116.3" cy="467.9" r="1.45"/>
<circle cx="119.1" cy="464.5" r="1.45"/>
<circle cx="99.5" cy="469.4" r="1.45"/>
<circle cx="121.0" cy="464.5" r="1.45"/>
<circle cx="119.0" cy="455.3" r="1.45"/>
<circle cx="111.9" cy="469.4" r="1.45"/>
<circle cx="115.8" cy="469.8" r="1.45"/>
<circle cx="121.6" cy="426.5" r="1.45"/>
<circle cx="119.2" cy="458.5" r="1.45"/>
<circle cx="117.3" cy="442.0" r="1.45"/>
<circle cx="119.2" cy="469.6" r="1.45"/>
<circle cx="113.1" cy="452.6" r="1.45"/>
<circle cx="119.6" cy="469.3" r="1.45"/>
<circle cx="115.0" cy="468.2" r="1.45"/>
<circle cx="113.0" cy="454.5" r="1.45"/>
<circle cx="111.5" cy="470.0" r="1.45"/>
<circle cx="112.2" cy="457.4" r="1.45"/>
<circle cx="117.6" cy="469.8" r="1.45"/>
<circle cx="117.8" cy="469.7" r="1.45"/>
<circle cx="121.3" cy="438.8" r="1.45"/>
<circle cx="98.8" cy="463.6" r="1.45"/>
<circle cx="105.7" cy="466.8" r="1.45"/>
<circle cx="117.3" cy="453.8" r="1.45"/>
<circle cx="120.9" cy="469.8" r="1.45"/>
<circle cx="115.3" cy="461.1" r="1.45"/>
<circle cx="116.8" cy="447.2" r="1.45"/>
<circle cx="111.5" cy="469.0" r="1.45"/>
<circle cx="114.5" cy="456.5" r="1.45"/>
<circle cx="116.9" cy="465.9" r="1.45"/>
<circle cx="80.3" cy="467.0" r="1.45"/>
<circle cx="116.6" cy="469.7" r="1.45"/>
<circle cx="108.9" cy="456.4" r="1.45"/>
<circle cx="116.7" cy="469.9" r="1.45"/>
<circle cx="108.1" cy="459.0" r="1.45"/>
<circle cx="112.0" cy="465.2" r="1.45"/>
<circle cx="116.8" cy="440.0" r="1.45"/>
<circle cx="116.3" cy="468.4" r="1.45"/>
<circle cx="120.5" cy="469.0" r="1.45"/>
<circle cx="113.6" cy="465.1" r="1.45"/>
<circle cx="107.8" cy="469.4" r="1.45"/>
<circle cx="121.2" cy="467.7" r="1.45"/>
<circle cx="106.4" cy="466.9" r="1.45"/>
<circle cx="113.7" cy="448.0" r="1.45"/>
<circle cx="109.2" cy="469.0" r="1.45"/>
<circle cx="117.7" cy="468.0" r="1.45"/>
<circle cx="119.9" cy="469.4" r="1.45"/>
<circle cx="117.1" cy="448.3" r="1.45"/>
<circle cx="107.0" cy="459.8" r="1.45"/>
<circle cx="118.3" cy="441.3" r="1.45"/>
<circle cx="121.2" cy="425.9" r="1.45"/>
<circle cx="118.1" cy="453.1" r="1.45"/>
<circle cx="112.2" cy="469.6" r="1.45"/>
<circle cx="110.1" cy="460.0" r="1.45"/>
<circle cx="101.0" cy="465.1" r="1.45"/>
<circle cx="103.6" cy="464.7" r="1.45"/>
<circle cx="112.8" cy="468.3" r="1.45"/>
<circle cx="115.7" cy="458.1" r="1.45"/>
<circle cx="121.3" cy="423.8" r="1.45"/>
<circle cx="120.1" cy="461.2" r="1.45"/>
<circle cx="120.1" cy="426.4" r="1.45"/>
<circle cx="105.9" cy="469.0" r="1.45"/>
<circle cx="101.6" cy="462.2" r="1.45"/>
<circle cx="111.3" cy="459.5" r="1.45"/>
<circle cx="118.0" cy="461.8" r="1.45"/>
<circle cx="116.0" cy="446.5" r="1.45"/>
<circle cx="107.6" cy="462.4" r="1.45"/>
<circle cx="118.2" cy="465.9" r="1.45"/>
<circle cx="117.1" cy="463.2" r="1.45"/>
<circle cx="115.1" cy="468.2" r="1.45"/>
<circle cx="121.6" cy="418.1" r="1.45"/>
<circle cx="115.8" cy="461.7" r="1.45"/>
<circle cx="112.7" cy="453.6" r="1.45"/>
<circle cx="104.8" cy="461.2" r="1.45"/>
<circle cx="116.9" cy="469.5" r="1.45"/>
<circle cx="117.5" cy="462.9" r="1.45"/>
<circle cx="106.6" cy="465.3" r="1.45"/>
<circle cx="111.7" cy="469.9" r="1.45"/>
<circle cx="120.4" cy="429.0" r="1.45"/>
<circle cx="118.1" cy="447.8" r="1.45"/>
<circle cx="120.9" cy="438.8" r="1.45"/>
<circle cx="100.7" cy="465.1" r="1.45"/>
<circle cx="107.4" cy="469.9" r="1.45"/>
<circle cx="121.0" cy="447.1" r="1.45"/>
<circle cx="110.7" cy="469.4" r="1.45"/>
<circle cx="120.3" cy="431.6" r="1.45"/>
<circle cx="118.5" cy="442.2" r="1.45"/>
<circle cx="106.9" cy="462.2" r="1.45"/>
<circle cx="109.8" cy="468.4" r="1.45"/>
<circle cx="105.0" cy="464.3" r="1.45"/>
<circle cx="118.9" cy="463.3" r="1.45"/>
<circle cx="112.8" cy="450.5" r="1.45"/>
<circle cx="116.0" cy="466.6" r="1.45"/>
<circle cx="90.6" cy="467.9" r="1.45"/>
<circle cx="113.3" cy="459.0" r="1.45"/>
<circle cx="119.1" cy="461.5" r="1.45"/>
<circle cx="119.6" cy="459.9" r="1.45"/>
<circle cx="112.2" cy="467.2" r="1.45"/>
<circle cx="118.0" cy="462.3" r="1.45"/>
<circle cx="107.0" cy="468.3" r="1.45"/>
<circle cx="108.0" cy="469.9" r="1.45"/>
<circle cx="103.5" cy="459.2" r="1.45"/>
<circle cx="116.0" cy="459.2" r="1.45"/>
<circle cx="110.8" cy="453.8" r="1.45"/>
<circle cx="118.9" cy="455.0" r="1.45"/>
<circle cx="103.6" cy="463.0" r="1.45"/>
<circle cx="117.3" cy="462.7" r="1.45"/>
<circle cx="117.4" cy="468.4" r="1.45"/>
<circle cx="117.9" cy="469.3" r="1.45"/>
<circle cx="119.2" cy="450.8" r="1.45"/>
<circle cx="92.1" cy="469.0" r="1.45"/>
<circle cx="114.9" cy="465.8" r="1.45"/>
<circle cx="90.2" cy="464.7" r="1.45"/>
<circle cx="97.1" cy="463.1" r="1.45"/>
<circle cx="109.4" cy="459.2" r="1.45"/>
<circle cx="119.3" cy="464.1" r="1.45"/>
<circle cx="112.5" cy="464.5" r="1.45"/>
<circle cx="117.4" cy="469.7" r="1.45"/>
<circle cx="115.4" cy="456.8" r="1.45"/>
<circle cx="121.2" cy="469.5" r="1.45"/>
<circle cx="113.9" cy="466.3" r="1.45"/>
<circle cx="114.8" cy="460.0" r="1.45"/>
<circle cx="116.7" cy="465.2" r="1.45"/>
<circle cx="120.3" cy="460.7" r="1.45"/>
<circle cx="105.2" cy="469.3" r="1.45"/>
<circle cx="121.5" cy="433.1" r="1.45"/>
<circle cx="110.2" cy="464.9" r="1.45"/>
<circle cx="121.0" cy="467.7" r="1.45"/>
<circle cx="111.5" cy="467.5" r="1.45"/>
<circle cx="106.1" cy="457.2" r="1.45"/>
<circle cx="121.1" cy="433.2" r="1.45"/>
<circle cx="100.9" cy="465.7" r="1.45"/>
<circle cx="113.6" cy="459.1" r="1.45"/>
<circle cx="114.9" cy="461.1" r="1.45"/>
<circle cx="120.0" cy="470.0" r="1.45"/>
<circle cx="121.1" cy="469.8" r="1.45"/>
<circle cx="119.7" cy="467.7" r="1.45"/>
<circle cx="99.1" cy="469.7" r="1.45"/>
<circle cx="112.8" cy="458.3" r="1.45"/>
<circle cx="119.6" cy="459.5" r="1.45"/>
<circle cx="114.9" cy="456.5" r="1.45"/>
<circle cx="111.9" cy="464.8" r="1.45"/>
<circle cx="112.8" cy="462.2" r="1.45"/>
<circle cx="121.0" cy="446.3" r="1.45"/>
<circle cx="109.7" cy="464.6" r="1.45"/>
<circle cx="114.5" cy="464.5" r="1.45"/>
<circle cx="116.3" cy="442.8" r="1.45"/>
<circle cx="120.9" cy="445.0" r="1.45"/>
<circle cx="119.9" cy="425.8" r="1.45"/>
<circle cx="118.8" cy="450.1" r="1.45"/>
<circle cx="120.4" cy="430.9" r="1.45"/>
<circle cx="97.5" cy="462.4" r="1.45"/>
<circle cx="118.8" cy="469.6" r="1.45"/>
<circle cx="112.2" cy="458.3" r="1.45"/>
<circle cx="110.9" cy="453.1" r="1.45"/>
<circle cx="88.4" cy="469.1" r="1.45"/>
<circle cx="97.1" cy="463.1" r="1.45"/>
<circle cx="120.8" cy="453.5" r="1.45"/>
<circle cx="119.9" cy="431.9" r="1.45"/>
<circle cx="104.5" cy="469.0" r="1.45"/>
<circle cx="120.0" cy="430.8" r="1.45"/>
<circle cx="119.7" cy="460.4" r="1.45"/>
<circle cx="113.1" cy="465.0" r="1.45"/>
<circle cx="103.9" cy="459.8" r="1.45"/>
<circle cx="84.4" cy="465.5" r="1.45"/>
<circle cx="114.5" cy="462.0" r="1.45"/>
<circle cx="114.6" cy="470.0" r="1.45"/>
<circle cx="121.4" cy="421.7" r="1.45"/>
<circle cx="119.2" cy="435.9" r="1.45"/>
<circle cx="107.2" cy="466.7" r="1.45"/>
<circle cx="113.5" cy="460.3" r="1.45"/>
<circle cx="119.9" cy="469.8" r="1.45"/>
<circle cx="120.5" cy="447.7" r="1.45"/>
<circle cx="120.0" cy="426.5" r="1.45"/>
<circle cx="110.4" cy="469.9" r="1.45"/>
<circle cx="120.3" cy="447.1" r="1.45"/>
<circle cx="121.2" cy="469.3" r="1.45"/>
<circle cx="121.2" cy="430.3" r="1.45"/>
<circle cx="108.3" cy="468.8" r="1.45"/>
<circle cx="92.9" cy="467.4" r="1.45"/>
<circle cx="111.5" cy="453.3" r="1.45"/>
<circle cx="108.5" cy="460.7" r="1.45"/>
<circle cx="117.1" cy="466.4" r="1.45"/>
<circle cx="119.5" cy="469.8" r="1.45"/>
<circle cx="93.9" cy="463.7" r="1.45"/>
<circle cx="108.6" cy="469.7" r="1.45"/>
<circle cx="108.7" cy="462.2" r="1.45"/>
<circle cx="115.6" cy="468.8" r="1.45"/>
<circle cx="107.0" cy="462.8" r="1.45"/>
<circle cx="118.4" cy="463.3" r="1.45"/>
<circle cx="118.8" cy="462.5" r="1.45"/>
<circle cx="96.9" cy="469.9" r="1.45"/>
<circle cx="108.4" cy="456.3" r="1.45"/>
<circle cx="108.0" cy="463.1" r="1.45"/>
<circle cx="115.6" cy="466.0" r="1.45"/>
<circle cx="108.9" cy="458.6" r="1.45"/>
<circle cx="121.4" cy="451.9" r="1.45"/>
<circle cx="120.7" cy="455.6" r="1.45"/>
<circle cx="121.2" cy="449.5" r="1.45"/>
<circle cx="110.0" cy="456.7" r="1.45"/>
<circle cx="113.7" cy="466.6" r="1.45"/>
<circle cx="116.3" cy="458.8" r="1.45"/>
<circle cx="118.5" cy="445.5" r="1.45"/>
<circle cx="121.1" cy="460.7" r="1.45"/>
<circle cx="120.7" cy="442.9" r="1.45"/>
<circle cx="105.4" cy="457.8" r="1.45"/>
<circle cx="113.3" cy="447.7" r="1.45"/>
<circle cx="114.9" cy="458.5" r="1.45"/>
<circle cx="120.0" cy="437.4" r="1.45"/>
<circle cx="95.7" cy="469.2" r="1.45"/>
<circle cx="120.0" cy="429.4" r="1.45"/>
<circle cx="108.1" cy="465.0" r="1.45"/>
<circle cx="77.7" cy="467.8" r="1.45"/>
<circle cx="120.6" cy="462.0" r="1.45"/>
<circle cx="120.7" cy="427.0" r="1.45"/>
<circle cx="100.9" cy="463.8" r="1.45"/>
<circle cx="116.5" cy="454.0" r="1.45"/>
<circle cx="117.3" cy="464.9" r="1.45"/>
<circle cx="116.4" cy="457.9" r="1.45"/>
<circle cx="119.9" cy="426.6" r="1.45"/>
<circle cx="112.4" cy="449.9" r="1.45"/>
<circle cx="120.4" cy="449.6" r="1.45"/>
<circle cx="110.8" cy="461.4" r="1.45"/>
<circle cx="121.3" cy="448.3" r="1.45"/>
<circle cx="114.8" cy="448.2" r="1.45"/>
<circle cx="116.1" cy="458.0" r="1.45"/>
<circle cx="118.0" cy="459.2" r="1.45"/>
<circle cx="110.8" cy="467.8" r="1.45"/>
<circle cx="119.2" cy="462.8" r="1.45"/>
<circle cx="112.1" cy="458.0" r="1.45"/>
<circle cx="115.1" cy="466.6" r="1.45"/>
<circle cx="108.6" cy="458.1" r="1.45"/>
<circle cx="112.7" cy="456.5" r="1.45"/>
<circle cx="87.4" cy="466.3" r="1.45"/>
<circle cx="113.1" cy="465.7" r="1.45"/>
<circle cx="119.1" cy="431.5" r="1.45"/>
<circle cx="118.9" cy="432.6" r="1.45"/>
<circle cx="120.0" cy="447.0" r="1.45"/>
<circle cx="119.6" cy="467.9" r="1.45"/>
<circle cx="120.2" cy="463.2" r="1.45"/>
<circle cx="118.4" cy="465.2" r="1.45"/>
<circle cx="120.6" cy="428.8" r="1.45"/>
<circle cx="118.6" cy="437.8" r="1.45"/>
<circle cx="115.8" cy="470.0" r="1.45"/>
<circle cx="103.7" cy="466.9" r="1.45"/>
<circle cx="119.3" cy="429.2" r="1.45"/>
<circle cx="118.4" cy="469.9" r="1.45"/>
<circle cx="118.9" cy="445.2" r="1.45"/>
<circle cx="121.6" cy="464.5" r="1.45"/>
<circle cx="103.8" cy="463.4" r="1.45"/>
<circle cx="113.4" cy="458.0" r="1.45"/>
<circle cx="104.2" cy="463.7" r="1.45"/>
<circle cx="111.8" cy="453.0" r="1.45"/>
<circle cx="112.1" cy="460.9" r="1.45"/>
<circle cx="119.2" cy="467.3" r="1.45"/>
<circle cx="120.4" cy="457.7" r="1.45"/>
<circle cx="118.8" cy="447.2" r="1.45"/>
<circle cx="100.7" cy="469.0" r="1.45"/>
<circle cx="116.9" cy="450.7" r="1.45"/>
<circle cx="120.1" cy="435.0" r="1.45"/>
<circle cx="115.5" cy="469.9" r="1.45"/>
<circle cx="103.4" cy="466.0" r="1.45"/>
<circle cx="111.6" cy="453.4" r="1.45"/>
<circle cx="100.7" cy="468.4" r="1.45"/>
<circle cx="121.6" cy="430.7" r="1.45"/>
<circle cx="99.4" cy="469.7" r="1.45"/>
<circle cx="119.0" cy="466.4" r="1.45"/>
<circle cx="109.9" cy="453.4" r="1.45"/>
<circle cx="119.6" cy="462.0" r="1.45"/>
<circle cx="104.2" cy="466.6" r="1.45"/>
<circle cx="119.5" cy="456.9" r="1.45"/>
<circle cx="121.5" cy="433.8" r="1.45"/>
<circle cx="117.3" cy="463.7" r="1.45"/>
<circle cx="109.0" cy="465.2" r="1.45"/>
<circle cx="78.5" cy="469.6" r="1.45"/>
<circle cx="114.9" cy="445.2" r="1.45"/>
<circle cx="109.5" cy="462.0" r="1.45"/>
<circle cx="112.2" cy="467.6" r="1.45"/>
<circle cx="117.2" cy="469.6" r="1.45"/>
<circle cx="120.9" cy="427.1" r="1.45"/>
<circle cx="112.4" cy="458.2" r="1.45"/>
<circle cx="113.6" cy="469.3" r="1.45"/>
<circle cx="118.3" cy="461.2" r="1.45"/>
<circle cx="93.1" cy="463.2" r="1.45"/>
<circle cx="91.5" cy="468.0" r="1.45"/>
<circle cx="120.0" cy="430.0" r="1.45"/>
<circle cx="121.0" cy="435.3" r="1.45"/>
<circle cx="119.7" cy="448.6" r="1.45"/>
<circle cx="109.8" cy="457.2" r="1.45"/>
<circle cx="120.2" cy="446.0" r="1.45"/>
<circle cx="105.1" cy="461.2" r="1.45"/>
<circle cx="116.7" cy="437.6" r="1.45"/>
<circle cx="108.4" cy="462.0" r="1.45"/>
<circle cx="107.6" cy="465.5" r="1.45"/>
<circle cx="107.4" cy="468.6" r="1.45"/>
<circle cx="110.3" cy="459.8" r="1.45"/>
<circle cx="83.8" cy="466.8" r="1.45"/>
<circle cx="115.5" cy="449.3" r="1.45"/>
<circle cx="106.7" cy="467.3" r="1.45"/>
<circle cx="111.8" cy="466.6" r="1.45"/>
<circle cx="115.5" cy="456.3" r="1.45"/>
<circle cx="120.8" cy="428.9" r="1.45"/>
<circle cx="120.1" cy="463.2" r="1.45"/>
<circle cx="117.1" cy="469.3" r="1.45"/>
<circle cx="113.9" cy="465.8" r="1.45"/>
<circle cx="95.0" cy="467.2" r="1.45"/>
<circle cx="117.7" cy="454.8" r="1.45"/>
<circle cx="111.7" cy="468.3" r="1.45"/>
<circle cx="121.0" cy="463.0" r="1.45"/>
<circle cx="112.9" cy="460.4" r="1.45"/>
<circle cx="103.7" cy="469.2" r="1.45"/>
<circle cx="116.1" cy="449.2" r="1.45"/>
<circle cx="119.5" cy="460.0" r="1.45"/>
<circle cx="114.5" cy="457.9" r="1.45"/>
<circle cx="110.8" cy="451.4" r="1.45"/>
<circle cx="120.8" cy="428.7" r="1.45"/>
<circle cx="114.2" cy="457.4" r="1.45"/>
<circle cx="118.4" cy="457.6" r="1.45"/>
<circle cx="119.4" cy="469.3" r="1.45"/>
<circle cx="104.6" cy="463.5" r="1.45"/>
<circle cx="120.5" cy="468.4" r="1.45"/>
<circle cx="116.6" cy="446.1" r="1.45"/>
<circle cx="115.7" cy="458.4" r="1.45"/>
<circle cx="115.5" cy="445.2" r="1.45"/>
<circle cx="110.4" cy="468.0" r="1.45"/>
<circle cx="120.0" cy="450.2" r="1.45"/>
<circle cx="109.3" cy="469.1" r="1.45"/>
<circle cx="118.1" cy="449.2" r="1.45"/>
<circle cx="115.2" cy="465.9" r="1.45"/>
<circle cx="115.8" cy="462.3" r="1.45"/>
<circle cx="111.2" cy="468.7" r="1.45"/>
<circle cx="117.5" cy="452.5" r="1.45"/>
<circle cx="121.5" cy="469.6" r="1.45"/>
<circle cx="109.2" cy="453.0" r="1.45"/>
<circle cx="106.3" cy="469.7" r="1.45"/>
<circle cx="115.5" cy="451.3" r="1.45"/>
<circle cx="120.2" cy="466.1" r="1.45"/>
<circle cx="116.6" cy="468.8" r="1.45"/>
<circle cx="120.7" cy="445.1" r="1.45"/>
<circle cx="117.8" cy="445.8" r="1.45"/>
<circle cx="114.1" cy="447.8" r="1.45"/>
<circle cx="118.5" cy="463.0" r="1.45"/>
<circle cx="119.0" cy="469.6" r="1.45"/>
<circle cx="118.5" cy="462.6" r="1.45"/>
<circle cx="115.3" cy="465.0" r="1.45"/>
<circle cx="83.0" cy="465.3" r="1.45"/>
<circle cx="117.7" cy="467.2" r="1.45"/>
<circle cx="115.3" cy="469.0" r="1.45"/>
<circle cx="119.7" cy="444.6" r="1.45"/>
<circle cx="120.4" cy="425.2" r="1.45"/>
<circle cx="120.8" cy="421.4" r="1.45"/>
<circle cx="116.9" cy="457.0" r="1.45"/>
<circle cx="116.8" cy="456.4" r="1.45"/>
<circle cx="116.9" cy="469.0" r="1.45"/>
<circle cx="121.2" cy="432.8" r="1.45"/>
<circle cx="115.7" cy="450.7" r="1.45"/>
<circle cx="121.1" cy="453.4" r="1.45"/>
<circle cx="114.3" cy="464.5" r="1.45"/>
<circle cx="120.2" cy="445.6" r="1.45"/>
<circle cx="110.8" cy="454.4" r="1.45"/>
<circle cx="120.8" cy="469.7" r="1.45"/>
<circle cx="112.3" cy="459.7" r="1.45"/>
<circle cx="119.9" cy="446.9" r="1.45"/>
<circle cx="102.7" cy="467.3" r="1.45"/>
<circle cx="120.7" cy="427.1" r="1.45"/>
<circle cx="121.5" cy="427.8" r="1.45"/>
<circle cx="120.3" cy="462.9" r="1.45"/>
<circle cx="110.1" cy="455.6" r="1.45"/>
<circle cx="119.7" cy="469.8" r="1.45"/>
<circle cx="121.5" cy="449.0" r="1.45"/>
<circle cx="113.6" cy="448.7" r="1.45"/>
<circle cx="115.2" cy="459.9" r="1.45"/>
<circle cx="105.4" cy="461.4" r="1.45"/>
<circle cx="116.6" cy="452.0" r="1.45"/>
<circle cx="116.8" cy="469.5" r="1.45"/>
<circle cx="111.0" cy="461.4" r="1.45"/>
<circle cx="75.3" cy="467.2" r="1.45"/>
<circle cx="120.1" cy="440.1" r="1.45"/>
<circle cx="114.2" cy="469.5" r="1.45"/>
<circle cx="115.7" cy="445.1" r="1.45"/>
<circle cx="112.5" cy="464.3" r="1.45"/>
<circle cx="121.6" cy="442.2" r="1.45"/>
<circle cx="81.5" cy="465.5" r="1.45"/>
<circle cx="119.4" cy="468.5" r="1.45"/>
<circle cx="157.9" cy="465.8" r="1.45"/>
<circle cx="160.1" cy="462.1" r="1.45"/>
<circle cx="165.7" cy="453.2" r="1.45"/>
<circle cx="156.0" cy="446.0" r="1.45"/>
<circle cx="163.8" cy="469.0" r="1.45"/>
<circle cx="166.4" cy="467.4" r="1.45"/>
<circle cx="159.8" cy="460.6" r="1.45"/>
<circle cx="163.0" cy="451.0" r="1.45"/>
<circle cx="177.4" cy="469.9" r="1.45"/>
<circle cx="151.4" cy="469.4" r="1.45"/>
<circle cx="174.2" cy="463.5" r="1.45"/>
<circle cx="161.4" cy="464.3" r="1.45"/>
<circle cx="155.1" cy="451.9" r="1.45"/>
<circle cx="185.1" cy="464.2" r="1.45"/>
<circle cx="161.2" cy="465.9" r="1.45"/>
<circle cx="183.1" cy="465.0" r="1.45"/>
<circle cx="157.9" cy="468.1" r="1.45"/>
<circle cx="187.6" cy="469.8" r="1.45"/>
<circle cx="184.2" cy="469.5" r="1.45"/>
<circle cx="168.5" cy="465.1" r="1.45"/>
<circle cx="167.3" cy="465.1" r="1.45"/>
<circle cx="154.5" cy="442.6" r="1.45"/>
<circle cx="155.4" cy="464.8" r="1.45"/>
<circle cx="161.5" cy="457.2" r="1.45"/>
<circle cx="168.5" cy="462.9" r="1.45"/>
<circle cx="173.0" cy="462.5" r="1.45"/>
<circle cx="151.2" cy="467.3" r="1.45"/>
<circle cx="170.3" cy="463.9" r="1.45"/>
<circle cx="191.4" cy="469.3" r="1.45"/>
<circle cx="156.3" cy="462.2" r="1.45"/>
<circle cx="167.0" cy="468.2" r="1.45"/>
<circle cx="157.5" cy="451.3" r="1.45"/>
<circle cx="155.2" cy="465.1" r="1.45"/>
<circle cx="152.9" cy="427.5" r="1.45"/>
<circle cx="166.6" cy="457.7" r="1.45"/>
<circle cx="154.7" cy="468.2" r="1.45"/>
<circle cx="174.9" cy="458.7" r="1.45"/>
<circle cx="152.8" cy="422.8" r="1.45"/>
<circle cx="168.3" cy="463.7" r="1.45"/>
<circle cx="167.2" cy="464.2" r="1.45"/>
<circle cx="159.3" cy="458.9" r="1.45"/>
<circle cx="158.2" cy="463.1" r="1.45"/>
<circle cx="167.8" cy="460.0" r="1.45"/>
<circle cx="194.5" cy="469.0" r="1.45"/>
<circle cx="151.7" cy="457.9" r="1.45"/>
<circle cx="164.3" cy="451.5" r="1.45"/>
<circle cx="160.6" cy="470.0" r="1.45"/>
<circle cx="156.3" cy="456.0" r="1.45"/>
<circle cx="159.3" cy="464.3" r="1.45"/>
<circle cx="151.7" cy="457.8" r="1.45"/>
<circle cx="159.0" cy="466.5" r="1.45"/>
<circle cx="170.4" cy="467.6" r="1.45"/>
<circle cx="158.7" cy="467.6" r="1.45"/>
<circle cx="153.6" cy="469.0" r="1.45"/>
<circle cx="168.7" cy="467.8" r="1.45"/>
<circle cx="160.3" cy="464.6" r="1.45"/>
<circle cx="167.4" cy="456.5" r="1.45"/>
<circle cx="154.1" cy="431.2" r="1.45"/>
<circle cx="158.4" cy="444.7" r="1.45"/>
<circle cx="156.1" cy="458.9" r="1.45"/>
<circle cx="152.0" cy="461.7" r="1.45"/>
<circle cx="151.4" cy="462.8" r="1.45"/>
<circle cx="161.1" cy="469.4" r="1.45"/>
<circle cx="153.5" cy="432.9" r="1.45"/>
<circle cx="160.0" cy="458.0" r="1.45"/>
<circle cx="153.6" cy="429.5" r="1.45"/>
<circle cx="154.6" cy="469.0" r="1.45"/>
<circle cx="157.4" cy="455.2" r="1.45"/>
<circle cx="161.2" cy="469.0" r="1.45"/>
<circle cx="171.1" cy="467.5" r="1.45"/>
<circle cx="156.2" cy="469.9" r="1.45"/>
<circle cx="151.4" cy="458.9" r="1.45"/>
<circle cx="164.2" cy="463.3" r="1.45"/>
<circle cx="171.2" cy="458.4" r="1.45"/>
<circle cx="172.5" cy="463.7" r="1.45"/>
<circle cx="178.6" cy="464.4" r="1.45"/>
<circle cx="152.1" cy="461.7" r="1.45"/>
<circle cx="153.9" cy="469.0" r="1.45"/>
<circle cx="178.4" cy="466.7" r="1.45"/>
<circle cx="153.2" cy="433.5" r="1.45"/>
<circle cx="156.0" cy="466.2" r="1.45"/>
<circle cx="164.8" cy="468.8" r="1.45"/>
<circle cx="181.7" cy="462.2" r="1.45"/>
<circle cx="151.7" cy="449.3" r="1.45"/>
<circle cx="151.4" cy="422.0" r="1.45"/>
<circle cx="154.3" cy="455.0" r="1.45"/>
<circle cx="165.6" cy="457.5" r="1.45"/>
<circle cx="158.2" cy="469.2" r="1.45"/>
<circle cx="155.2" cy="470.0" r="1.45"/>
<circle cx="153.4" cy="440.7" r="1.45"/>
<circle cx="160.7" cy="462.7" r="1.45"/>
<circle cx="162.4" cy="462.9" r="1.45"/>
<circle cx="156.1" cy="461.6" r="1.45"/>
<circle cx="156.1" cy="462.0" r="1.45"/>
<circle cx="157.3" cy="445.5" r="1.45"/>
<circle cx="177.5" cy="461.6" r="1.45"/>
<circle cx="157.9" cy="441.4" r="1.45"/>
<circle cx="168.3" cy="469.1" r="1.45"/>
<circle cx="170.3" cy="469.7" r="1.45"/>
<circle cx="161.4" cy="464.7" r="1.45"/>
<circle cx="166.0" cy="457.4" r="1.45"/>
<circle cx="185.2" cy="463.2" r="1.45"/>
<circle cx="156.3" cy="469.9" r="1.45"/>
<circle cx="151.9" cy="419.7" r="1.45"/>
<circle cx="155.2" cy="466.0" r="1.45"/>
<circle cx="152.4" cy="459.9" r="1.45"/>
<circle cx="155.4" cy="445.5" r="1.45"/>
<circle cx="153.2" cy="456.7" r="1.45"/>
<circle cx="174.8" cy="466.9" r="1.45"/>
<circle cx="152.8" cy="457.9" r="1.45"/>
<circle cx="154.1" cy="469.9" r="1.45"/>
<circle cx="160.2" cy="466.0" r="1.45"/>
<circle cx="168.6" cy="468.1" r="1.45"/>
<circle cx="152.3" cy="455.5" r="1.45"/>
<circle cx="158.1" cy="468.4" r="1.45"/>
<circle cx="158.8" cy="455.2" r="1.45"/>
<circle cx="167.8" cy="455.1" r="1.45"/>
<circle cx="159.9" cy="448.6" r="1.45"/>
<circle cx="152.4" cy="437.8" r="1.45"/>
<circle cx="189.1" cy="468.2" r="1.45"/>
<circle cx="154.3" cy="465.6" r="1.45"/>
<circle cx="154.0" cy="460.1" r="1.45"/>
<circle cx="156.8" cy="468.0" r="1.45"/>
<circle cx="170.3" cy="456.0" r="1.45"/>
<circle cx="152.7" cy="445.9" r="1.45"/>
<circle cx="157.3" cy="458.3" r="1.45"/>
<circle cx="158.8" cy="461.6" r="1.45"/>
<circle cx="167.9" cy="454.7" r="1.45"/>
<circle cx="154.7" cy="461.8" r="1.45"/>
<circle cx="151.5" cy="457.0" r="1.45"/>
<circle cx="154.5" cy="467.2" r="1.45"/>
<circle cx="171.0" cy="465.1" r="1.45"/>
<circle cx="153.9" cy="467.2" r="1.45"/>
<circle cx="160.9" cy="450.4" r="1.45"/>
<circle cx="174.8" cy="463.0" r="1.45"/>
<circle cx="166.5" cy="468.9" r="1.45"/>
<circle cx="152.6" cy="443.9" r="1.45"/>
<circle cx="161.7" cy="468.2" r="1.45"/>
<circle cx="155.0" cy="470.0" r="1.45"/>
<circle cx="163.8" cy="462.3" r="1.45"/>
<circle cx="170.9" cy="457.8" r="1.45"/>
<circle cx="158.9" cy="464.3" r="1.45"/>
<circle cx="154.6" cy="449.3" r="1.45"/>
<circle cx="182.4" cy="469.8" r="1.45"/>
<circle cx="156.7" cy="446.6" r="1.45"/>
<circle cx="152.6" cy="444.1" r="1.45"/>
<circle cx="154.1" cy="452.4" r="1.45"/>
<circle cx="196.8" cy="470.0" r="1.45"/>
<circle cx="164.1" cy="461.2" r="1.45"/>
<circle cx="172.1" cy="467.5" r="1.45"/>
<circle cx="180.0" cy="461.3" r="1.45"/>
<circle cx="151.8" cy="459.8" r="1.45"/>
<circle cx="154.1" cy="437.1" r="1.45"/>
<circle cx="177.3" cy="463.1" r="1.45"/>
<circle cx="172.9" cy="464.8" r="1.45"/>
<circle cx="175.7" cy="468.5" r="1.45"/>
<circle cx="152.3" cy="439.1" r="1.45"/>
<circle cx="157.4" cy="469.9" r="1.45"/>
<circle cx="168.6" cy="469.3" r="1.45"/>
<circle cx="154.1" cy="469.1" r="1.45"/>
<circle cx="161.5" cy="468.5" r="1.45"/>
<circle cx="155.1" cy="454.0" r="1.45"/>
<circle cx="184.6" cy="470.0" r="1.45"/>
<circle cx="179.2" cy="464.2" r="1.45"/>
<circle cx="154.3" cy="437.3" r="1.45"/>
<circle cx="162.0" cy="462.8" r="1.45"/>
<circle cx="154.0" cy="457.8" r="1.45"/>
<circle cx="155.7" cy="469.1" r="1.45"/>
<circle cx="153.2" cy="464.0" r="1.45"/>
<circle cx="157.8" cy="455.8" r="1.45"/>
<circle cx="166.5" cy="469.5" r="1.45"/>
<circle cx="152.4" cy="428.7" r="1.45"/>
<circle cx="159.5" cy="467.2" r="1.45"/>
<circle cx="153.8" cy="446.3" r="1.45"/>
<circle cx="157.7" cy="462.4" r="1.45"/>
<circle cx="183.0" cy="470.0" r="1.45"/>
<circle cx="161.9" cy="456.2" r="1.45"/>
<circle cx="160.8" cy="458.1" r="1.45"/>
<circle cx="151.4" cy="418.1" r="1.45"/>
<circle cx="151.6" cy="459.4" r="1.45"/>
<circle cx="156.6" cy="442.4" r="1.45"/>
<circle cx="164.6" cy="454.3" r="1.45"/>
<circle cx="160.0" cy="442.3" r="1.45"/>
<circle cx="155.2" cy="460.6" r="1.45"/>
<circle cx="159.9" cy="465.3" r="1.45"/>
<circle cx="152.8" cy="443.5" r="1.45"/>
<circle cx="155.8" cy="438.9" r="1.45"/>
<circle cx="162.8" cy="470.0" r="1.45"/>
<circle cx="152.3" cy="466.5" r="1.45"/>
<circle cx="155.3" cy="466.9" r="1.45"/>
<circle cx="163.0" cy="467.9" r="1.45"/>
<circle cx="156.9" cy="461.9" r="1.45"/>
<circle cx="157.6" cy="469.7" r="1.45"/>
<circle cx="193.3" cy="463.8" r="1.45"/>
<circle cx="151.5" cy="426.9" r="1.45"/>
<circle cx="161.5" cy="447.8" r="1.45"/>
<circle cx="161.6" cy="458.0" r="1.45"/>
<circle cx="168.7" cy="469.9" r="1.45"/>
<circle cx="152.2" cy="468.2" r="1.45"/>
<circle cx="151.2" cy="464.4" r="1.45"/>
<circle cx="151.5" cy="468.3" r="1.45"/>
<circle cx="155.7" cy="467.8" r="1.45"/>
<circle cx="151.7" cy="420.1" r="1.45"/>
<circle cx="178.4" cy="461.7" r="1.45"/>
<circle cx="152.0" cy="447.6" r="1.45"/>
<circle cx="180.0" cy="467.5" r="1.45"/>
<circle cx="158.8" cy="444.5" r="1.45"/>
<circle cx="177.7" cy="465.8" r="1.45"/>
<circle cx="154.5" cy="443.8" r="1.45"/>
<circle cx="165.6" cy="467.4" r="1.45"/>
<circle cx="157.6" cy="451.1" r="1.45"/>
<circle cx="153.8" cy="460.1" r="1.45"/>
<circle cx="159.6" cy="464.1" r="1.45"/>
<circle cx="175.0" cy="468.3" r="1.45"/>
<circle cx="158.1" cy="446.3" r="1.45"/>
<circle cx="151.4" cy="460.5" r="1.45"/>
<circle cx="153.3" cy="452.1" r="1.45"/>
<circle cx="188.7" cy="468.4" r="1.45"/>
<circle cx="178.9" cy="469.5" r="1.45"/>
<circle cx="183.8" cy="468.7" r="1.45"/>
<circle cx="155.3" cy="465.0" r="1.45"/>
<circle cx="173.8" cy="468.9" r="1.45"/>
<circle cx="151.7" cy="469.9" r="1.45"/>
<circle cx="159.7" cy="457.0" r="1.45"/>
<circle cx="155.7" cy="450.0" r="1.45"/>
<circle cx="158.9" cy="447.0" r="1.45"/>
<circle cx="155.8" cy="444.8" r="1.45"/>
<circle cx="159.0" cy="440.0" r="1.45"/>
<circle cx="163.3" cy="449.8" r="1.45"/>
<circle cx="156.9" cy="451.3" r="1.45"/>
<circle cx="152.7" cy="466.1" r="1.45"/>
<circle cx="161.2" cy="466.7" r="1.45"/>
<circle cx="170.7" cy="469.7" r="1.45"/>
<circle cx="172.0" cy="458.4" r="1.45"/>
<circle cx="154.4" cy="449.4" r="1.45"/>
<circle cx="161.8" cy="455.8" r="1.45"/>
<circle cx="156.8" cy="469.0" r="1.45"/>
<circle cx="156.7" cy="456.1" r="1.45"/>
<circle cx="152.4" cy="458.4" r="1.45"/>
<circle cx="152.8" cy="432.3" r="1.45"/>
<circle cx="154.6" cy="450.1" r="1.45"/>
<circle cx="152.3" cy="430.7" r="1.45"/>
<circle cx="163.8" cy="467.0" r="1.45"/>
<circle cx="155.7" cy="462.6" r="1.45"/>
<circle cx="159.1" cy="456.8" r="1.45"/>
<circle cx="162.3" cy="470.0" r="1.45"/>
<circle cx="165.8" cy="451.3" r="1.45"/>
<circle cx="156.2" cy="464.5" r="1.45"/>
<circle cx="159.3" cy="449.1" r="1.45"/>
<circle cx="157.2" cy="462.7" r="1.45"/>
<circle cx="153.9" cy="437.2" r="1.45"/>
<circle cx="155.4" cy="431.9" r="1.45"/>
<circle cx="161.1" cy="467.3" r="1.45"/>
<circle cx="155.3" cy="431.5" r="1.45"/>
<circle cx="175.0" cy="459.4" r="1.45"/>
<circle cx="151.3" cy="463.7" r="1.45"/>
<circle cx="175.4" cy="468.4" r="1.45"/>
<circle cx="159.3" cy="465.4" r="1.45"/>
<circle cx="161.5" cy="463.2" r="1.45"/>
<circle cx="169.9" cy="461.1" r="1.45"/>
<circle cx="157.1" cy="459.7" r="1.45"/>
<circle cx="151.5" cy="441.0" r="1.45"/>
<circle cx="157.6" cy="470.0" r="1.45"/>
<circle cx="151.8" cy="465.0" r="1.45"/>
<circle cx="156.7" cy="458.1" r="1.45"/>
<circle cx="162.3" cy="448.7" r="1.45"/>
<circle cx="152.9" cy="466.6" r="1.45"/>
<circle cx="156.9" cy="461.7" r="1.45"/>
<circle cx="166.8" cy="454.9" r="1.45"/>
<circle cx="160.6" cy="455.0" r="1.45"/>
<circle cx="165.8" cy="469.6" r="1.45"/>
<circle cx="155.9" cy="462.3" r="1.45"/>
<circle cx="151.9" cy="461.9" r="1.45"/>
<circle cx="153.1" cy="445.7" r="1.45"/>
<circle cx="154.8" cy="462.4" r="1.45"/>
<circle cx="180.6" cy="466.9" r="1.45"/>
<circle cx="189.3" cy="466.7" r="1.45"/>
<circle cx="159.1" cy="448.1" r="1.45"/>
<circle cx="153.6" cy="431.5" r="1.45"/>
<circle cx="156.8" cy="469.6" r="1.45"/>
<circle cx="160.0" cy="469.2" r="1.45"/>
<circle cx="160.1" cy="456.6" r="1.45"/>
<circle cx="164.9" cy="458.8" r="1.45"/>
<circle cx="151.2" cy="470.0" r="1.45"/>
<circle cx="164.4" cy="461.9" r="1.45"/>
<circle cx="177.9" cy="467.7" r="1.45"/>
<circle cx="152.2" cy="469.9" r="1.45"/>
<circle cx="151.4" cy="466.6" r="1.45"/>
<circle cx="166.8" cy="462.8" r="1.45"/>
<circle cx="173.1" cy="459.6" r="1.45"/>
<circle cx="158.8" cy="468.6" r="1.45"/>
<circle cx="153.4" cy="449.3" r="1.45"/>
<circle cx="152.7" cy="452.8" r="1.45"/>
<circle cx="158.7" cy="469.9" r="1.45"/>
<circle cx="151.9" cy="421.8" r="1.45"/>
<circle cx="158.3" cy="460.5" r="1.45"/>
<circle cx="157.1" cy="445.5" r="1.45"/>
<circle cx="162.4" cy="456.9" r="1.45"/>
<circle cx="160.4" cy="468.7" r="1.45"/>
<circle cx="154.0" cy="464.3" r="1.45"/>
<circle cx="151.4" cy="444.0" r="1.45"/>
<circle cx="172.2" cy="458.0" r="1.45"/>
<circle cx="151.8" cy="466.2" r="1.45"/>
<circle cx="161.6" cy="469.9" r="1.45"/>
<circle cx="153.7" cy="459.7" r="1.45"/>
<circle cx="166.6" cy="469.9" r="1.45"/>
<circle cx="151.7" cy="464.6" r="1.45"/>
<circle cx="153.8" cy="467.6" r="1.45"/>
<circle cx="160.6" cy="468.3" r="1.45"/>
<circle cx="151.1" cy="425.5" r="1.45"/>
<circle cx="157.6" cy="461.6" r="1.45"/>
<circle cx="154.2" cy="433.8" r="1.45"/>
<circle cx="193.0" cy="469.9" r="1.45"/>
<circle cx="163.2" cy="458.0" r="1.45"/>
<circle cx="160.5" cy="463.4" r="1.45"/>
<circle cx="156.5" cy="448.7" r="1.45"/>
<circle cx="151.3" cy="426.0" r="1.45"/>
<circle cx="152.0" cy="466.9" r="1.45"/>
<circle cx="156.2" cy="470.0" r="1.45"/>
<circle cx="174.1" cy="467.3" r="1.45"/>
<circle cx="155.9" cy="463.3" r="1.45"/>
<circle cx="173.2" cy="467.8" r="1.45"/>
<circle cx="162.4" cy="447.6" r="1.45"/>
<circle cx="157.0" cy="439.4" r="1.45"/>
<circle cx="159.8" cy="463.7" r="1.45"/>
<circle cx="157.8" cy="464.0" r="1.45"/>
<circle cx="157.2" cy="465.5" r="1.45"/>
<circle cx="151.3" cy="431.1" r="1.45"/>
<circle cx="154.0" cy="468.3" r="1.45"/>
<circle cx="153.4" cy="452.3" r="1.45"/>
<circle cx="167.7" cy="463.4" r="1.45"/>
<circle cx="157.8" cy="447.0" r="1.45"/>
<circle cx="154.0" cy="461.0" r="1.45"/>
<circle cx="153.7" cy="459.2" r="1.45"/>
<circle cx="161.7" cy="459.5" r="1.45"/>
<circle cx="154.9" cy="457.3" r="1.45"/>
<circle cx="153.5" cy="433.8" r="1.45"/>
<circle cx="163.2" cy="449.4" r="1.45"/>
<circle cx="160.8" cy="462.8" r="1.45"/>
<circle cx="159.3" cy="463.0" r="1.45"/>
<circle cx="158.7" cy="468.9" r="1.45"/>
<circle cx="166.0" cy="459.9" r="1.45"/>
<circle cx="152.1" cy="429.9" r="1.45"/>
<circle cx="165.4" cy="457.3" r="1.45"/>
<circle cx="151.4" cy="437.7" r="1.45"/>
<circle cx="152.7" cy="469.9" r="1.45"/>
<circle cx="164.4" cy="458.4" r="1.45"/>
<circle cx="167.2" cy="468.3" r="1.45"/>
<circle cx="153.3" cy="430.9" r="1.45"/>
<circle cx="151.8" cy="424.2" r="1.45"/>
<circle cx="168.7" cy="459.8" r="1.45"/>
<circle cx="153.4" cy="442.4" r="1.45"/>
<circle cx="152.0" cy="462.9" r="1.45"/>
<circle cx="169.3" cy="466.5" r="1.45"/>
<circle cx="155.8" cy="440.4" r="1.45"/>
<circle cx="157.8" cy="454.2" r="1.45"/>
<circle cx="161.7" cy="450.2" r="1.45"/>
<circle cx="180.8" cy="469.4" r="1.45"/>
<circle cx="156.0" cy="443.3" r="1.45"/>
<circle cx="163.7" cy="451.6" r="1.45"/>
<circle cx="151.3" cy="438.6" r="1.45"/>
<circle cx="157.7" cy="436.6" r="1.45"/>
<circle cx="156.6" cy="438.8" r="1.45"/>
<circle cx="152.2" cy="462.8" r="1.45"/>
<circle cx="154.5" cy="450.6" r="1.45"/>
<circle cx="153.7" cy="445.6" r="1.45"/>
<circle cx="156.6" cy="453.6" r="1.45"/>
<circle cx="157.1" cy="447.6" r="1.45"/>
<circle cx="152.9" cy="440.1" r="1.45"/>
<circle cx="159.7" cy="456.2" r="1.45"/>
<circle cx="181.7" cy="466.5" r="1.45"/>
<circle cx="153.8" cy="455.2" r="1.45"/>
<circle cx="159.0" cy="443.0" r="1.45"/>
<circle cx="163.0" cy="460.5" r="1.45"/>
<circle cx="180.6" cy="469.7" r="1.45"/>
<circle cx="166.6" cy="460.8" r="1.45"/>
<circle cx="176.0" cy="461.2" r="1.45"/>
<circle cx="160.5" cy="454.7" r="1.45"/>
<circle cx="190.4" cy="466.3" r="1.45"/>
<circle cx="151.5" cy="461.3" r="1.45"/>
<circle cx="167.2" cy="466.8" r="1.45"/>
<circle cx="177.5" cy="467.5" r="1.45"/>
<circle cx="165.7" cy="450.9" r="1.45"/>
<circle cx="161.3" cy="467.7" r="1.45"/>
<circle cx="159.1" cy="464.4" r="1.45"/>
<circle cx="183.3" cy="467.8" r="1.45"/>
<circle cx="155.5" cy="456.8" r="1.45"/>
<circle cx="163.6" cy="453.4" r="1.45"/>
<circle cx="161.7" cy="461.5" r="1.45"/>
<circle cx="163.2" cy="468.2" r="1.45"/>
<circle cx="163.1" cy="452.6" r="1.45"/>
<circle cx="167.3" cy="464.5" r="1.45"/>
<circle cx="153.3" cy="426.5" r="1.45"/>
<circle cx="169.9" cy="464.1" r="1.45"/>
<circle cx="153.1" cy="467.3" r="1.45"/>
<circle cx="167.4" cy="468.3" r="1.45"/>
<circle cx="154.3" cy="429.0" r="1.45"/>
<circle cx="153.0" cy="461.1" r="1.45"/>
<circle cx="152.1" cy="444.9" r="1.45"/>
<circle cx="152.6" cy="442.9" r="1.45"/>
<circle cx="158.2" cy="459.9" r="1.45"/>
<circle cx="164.2" cy="470.0" r="1.45"/>
<circle cx="163.7" cy="469.1" r="1.45"/>
<circle cx="162.1" cy="456.3" r="1.45"/>
<circle cx="152.6" cy="441.4" r="1.45"/>
<circle cx="160.6" cy="467.2" r="1.45"/>
<circle cx="161.8" cy="469.2" r="1.45"/>
<circle cx="157.0" cy="437.9" r="1.45"/>
<circle cx="163.2" cy="468.8" r="1.45"/>
<circle cx="192.9" cy="465.1" r="1.45"/>
<circle cx="156.7" cy="467.1" r="1.45"/>
<circle cx="163.7" cy="470.0" r="1.45"/>
<circle cx="158.2" cy="469.8" r="1.45"/>
<circle cx="175.4" cy="468.3" r="1.45"/>
<circle cx="152.3" cy="462.2" r="1.45"/>
<circle cx="186.6" cy="469.6" r="1.45"/>
<circle cx="157.4" cy="456.1" r="1.45"/>
<circle cx="154.7" cy="453.5" r="1.45"/>
<circle cx="151.6" cy="453.9" r="1.45"/>
<circle cx="193.1" cy="467.9" r="1.45"/>
<circle cx="165.9" cy="466.7" r="1.45"/>
<circle cx="165.5" cy="467.7" r="1.45"/>
<circle cx="162.2" cy="447.5" r="1.45"/>
<circle cx="158.3" cy="448.2" r="1.45"/>
<circle cx="155.2" cy="462.1" r="1.45"/>
<circle cx="152.1" cy="463.0" r="1.45"/>
<circle cx="161.3" cy="454.4" r="1.45"/>
<circle cx="164.0" cy="459.2" r="1.45"/>
<circle cx="151.9" cy="437.1" r="1.45"/>
<circle cx="151.3" cy="457.5" r="1.45"/>
<circle cx="152.7" cy="460.1" r="1.45"/>
<circle cx="186.3" cy="467.3" r="1.45"/>
<circle cx="175.4" cy="464.0" r="1.45"/>
<circle cx="152.2" cy="439.8" r="1.45"/>
<circle cx="155.1" cy="451.1" r="1.45"/>
<circle cx="156.2" cy="451.3" r="1.45"/>
<circle cx="155.8" cy="466.3" r="1.45"/>
<circle cx="152.6" cy="426.6" r="1.45"/>
<circle cx="170.7" cy="468.4" r="1.45"/>
<circle cx="151.7" cy="468.5" r="1.45"/>
<circle cx="168.6" cy="455.9" r="1.45"/>
<circle cx="156.6" cy="469.7" r="1.45"/>
<circle cx="153.7" cy="458.5" r="1.45"/>
<circle cx="165.2" cy="450.3" r="1.45"/>
<circle cx="161.0" cy="457.5" r="1.45"/>
<circle cx="152.7" cy="465.4" r="1.45"/>
<circle cx="152.7" cy="446.0" r="1.45"/>
<circle cx="156.6" cy="434.7" r="1.45"/>
<circle cx="171.5" cy="465.8" r="1.45"/>
<circle cx="153.7" cy="460.6" r="1.45"/>
<circle cx="151.4" cy="445.1" r="1.45"/>
<circle cx="170.4" cy="465.1" r="1.45"/>
<circle cx="152.7" cy="469.3" r="1.45"/>
<circle cx="151.7" cy="439.0" r="1.45"/>
<circle cx="174.9" cy="469.8" r="1.45"/>
<circle cx="151.1" cy="418.0" r="1.45"/>
<circle cx="153.1" cy="441.5" r="1.45"/>
<circle cx="156.2" cy="470.0" r="1.45"/>
<circle cx="168.6" cy="461.5" r="1.45"/>
<circle cx="160.1" cy="461.6" r="1.45"/>
<circle cx="159.5" cy="459.8" r="1.45"/>
<circle cx="157.1" cy="457.1" r="1.45"/>
<circle cx="161.6" cy="468.7" r="1.45"/>
<circle cx="156.6" cy="453.5" r="1.45"/>
<circle cx="152.0" cy="432.7" r="1.45"/>
<circle cx="164.9" cy="466.5" r="1.45"/>
<circle cx="162.6" cy="460.6" r="1.45"/>
<circle cx="156.9" cy="462.8" r="1.45"/>
<circle cx="162.6" cy="469.0" r="1.45"/>
<circle cx="172.7" cy="465.4" r="1.45"/>
<circle cx="161.9" cy="451.0" r="1.45"/>
<circle cx="153.8" cy="442.0" r="1.45"/>
<circle cx="163.7" cy="469.0" r="1.45"/>
<circle cx="160.4" cy="459.3" r="1.45"/>
<circle cx="182.0" cy="468.3" r="1.45"/>
<circle cx="154.0" cy="458.0" r="1.45"/>
<circle cx="154.3" cy="465.9" r="1.45"/>
<circle cx="188.3" cy="469.4" r="1.45"/>
<circle cx="166.0" cy="468.3" r="1.45"/>
<circle cx="170.6" cy="462.8" r="1.45"/>
<circle cx="153.3" cy="445.2" r="1.45"/>
<circle cx="164.4" cy="468.0" r="1.45"/>
<circle cx="157.7" cy="457.4" r="1.45"/>
<circle cx="163.9" cy="456.8" r="1.45"/>
<circle cx="176.9" cy="465.8" r="1.45"/>
<circle cx="171.6" cy="462.7" r="1.45"/>
<circle cx="168.4" cy="469.3" r="1.45"/>
<circle cx="158.6" cy="459.4" r="1.45"/>
<circle cx="170.7" cy="457.0" r="1.45"/>
<circle cx="161.7" cy="446.4" r="1.45"/>
<circle cx="158.9" cy="461.1" r="1.45"/>
<circle cx="163.5" cy="461.6" r="1.45"/>
<circle cx="188.1" cy="469.5" r="1.45"/>
<circle cx="158.0" cy="469.2" r="1.45"/>
<circle cx="156.1" cy="452.4" r="1.45"/>
<circle cx="156.6" cy="469.7" r="1.45"/>
<circle cx="151.5" cy="439.2" r="1.45"/>
<circle cx="184.6" cy="467.7" r="1.45"/>
<circle cx="152.4" cy="467.9" r="1.45"/>
<circle cx="176.8" cy="469.8" r="1.45"/>
<circle cx="199.3" cy="469.5" r="1.45"/>
<circle cx="152.4" cy="439.5" r="1.45"/>
<circle cx="155.8" cy="462.2" r="1.45"/>
<circle cx="170.9" cy="460.1" r="1.45"/>
<circle cx="165.4" cy="470.0" r="1.45"/>
<circle cx="154.2" cy="465.6" r="1.45"/>
<circle cx="158.8" cy="459.0" r="1.45"/>
<circle cx="155.8" cy="457.7" r="1.45"/>
<circle cx="169.3" cy="467.1" r="1.45"/>
<circle cx="155.8" cy="463.5" r="1.45"/>
<circle cx="161.0" cy="469.9" r="1.45"/>
<circle cx="177.0" cy="468.9" r="1.45"/>
<circle cx="155.8" cy="448.4" r="1.45"/>
<circle cx="151.3" cy="415.8" r="1.45"/>
<circle cx="157.3" cy="446.2" r="1.45"/>
<circle cx="158.3" cy="469.5" r="1.45"/>
<circle cx="154.3" cy="467.9" r="1.45"/>
<circle cx="179.9" cy="462.6" r="1.45"/>
<circle cx="163.0" cy="452.8" r="1.45"/>
<circle cx="160.6" cy="467.0" r="1.45"/>
<circle cx="166.5" cy="467.8" r="1.45"/>
<circle cx="157.4" cy="469.9" r="1.45"/>
<circle cx="158.2" cy="459.9" r="1.45"/>
<circle cx="151.4" cy="428.8" r="1.45"/>
<circle cx="151.9" cy="445.5" r="1.45"/>
<circle cx="162.2" cy="459.3" r="1.45"/>
<circle cx="171.0" cy="456.8" r="1.45"/>
<circle cx="163.8" cy="464.0" r="1.45"/>
<circle cx="153.9" cy="428.0" r="1.45"/>
<circle cx="158.9" cy="464.0" r="1.45"/>
<circle cx="159.1" cy="465.3" r="1.45"/>
<circle cx="152.6" cy="446.5" r="1.45"/>
<circle cx="153.6" cy="436.6" r="1.45"/>
<circle cx="165.1" cy="466.6" r="1.45"/>
<circle cx="157.9" cy="440.1" r="1.45"/>
<circle cx="155.1" cy="462.9" r="1.45"/>
<circle cx="158.2" cy="467.0" r="1.45"/>
<circle cx="154.1" cy="434.3" r="1.45"/>
<circle cx="161.2" cy="457.5" r="1.45"/>
<circle cx="165.0" cy="469.1" r="1.45"/>
<circle cx="156.3" cy="469.5" r="1.45"/>
<circle cx="155.8" cy="454.1" r="1.45"/>
<circle cx="160.5" cy="468.8" r="1.45"/>
<circle cx="164.0" cy="451.4" r="1.45"/>
<circle cx="176.2" cy="469.7" r="1.45"/>
<circle cx="153.4" cy="458.1" r="1.45"/>
<circle cx="160.2" cy="469.3" r="1.45"/>
<circle cx="168.0" cy="458.5" r="1.45"/>
<circle cx="154.0" cy="439.0" r="1.45"/>
<circle cx="152.7" cy="469.3" r="1.45"/>
<circle cx="186.6" cy="468.7" r="1.45"/>
<circle cx="155.9" cy="440.2" r="1.45"/>
<circle cx="154.1" cy="434.4" r="1.45"/>
<circle cx="164.6" cy="466.4" r="1.45"/>
<circle cx="164.2" cy="458.8" r="1.45"/>
<circle cx="174.2" cy="462.0" r="1.45"/>
<circle cx="158.6" cy="443.8" r="1.45"/>
<circle cx="168.9" cy="454.4" r="1.45"/>
<circle cx="152.8" cy="466.1" r="1.45"/>
<circle cx="174.7" cy="463.9" r="1.45"/>
<circle cx="156.6" cy="461.7" r="1.45"/>
<circle cx="167.0" cy="454.3" r="1.45"/>
<circle cx="160.6" cy="468.8" r="1.45"/>
<circle cx="164.8" cy="467.7" r="1.45"/>
<circle cx="160.2" cy="455.7" r="1.45"/>
<circle cx="187.4" cy="469.9" r="1.45"/>
<circle cx="153.3" cy="428.6" r="1.45"/>
<circle cx="160.5" cy="465.9" r="1.45"/>
<circle cx="155.8" cy="458.5" r="1.45"/>
<circle cx="189.1" cy="466.1" r="1.45"/>
<circle cx="164.8" cy="452.2" r="1.45"/>
<circle cx="170.7" cy="467.7" r="1.45"/>
<circle cx="153.1" cy="429.9" r="1.45"/>
<circle cx="159.6" cy="451.2" r="1.45"/>
<circle cx="161.7" cy="467.5" r="1.45"/>
<circle cx="151.3" cy="469.6" r="1.45"/>
<circle cx="157.5" cy="441.5" r="1.45"/>
<circle cx="154.6" cy="455.9" r="1.45"/>
<circle cx="152.2" cy="464.7" r="1.45"/>
<circle cx="151.7" cy="468.0" r="1.45"/>
<circle cx="151.6" cy="469.2" r="1.45"/>
<circle cx="169.3" cy="463.7" r="1.45"/>
<circle cx="164.7" cy="470.0" r="1.45"/>
<circle cx="154.5" cy="448.8" r="1.45"/>
<circle cx="151.2" cy="460.9" r="1.45"/>
<circle cx="151.4" cy="461.0" r="1.45"/>
<circle cx="172.9" cy="469.9" r="1.45"/>
<circle cx="158.2" cy="455.4" r="1.45"/>
<circle cx="168.4" cy="469.0" r="1.45"/>
<circle cx="172.5" cy="461.1" r="1.45"/>
<circle cx="152.0" cy="446.2" r="1.45"/>
<circle cx="167.2" cy="452.9" r="1.45"/>
<circle cx="156.5" cy="436.9" r="1.45"/>
<circle cx="173.3" cy="469.9" r="1.45"/>
<circle cx="155.2" cy="449.4" r="1.45"/>
<circle cx="155.1" cy="460.0" r="1.45"/>
<circle cx="164.4" cy="454.4" r="1.45"/>
<circle cx="152.9" cy="469.9" r="1.45"/>
<circle cx="153.6" cy="453.4" r="1.45"/>
<circle cx="170.8" cy="467.3" r="1.45"/>
<circle cx="155.9" cy="463.0" r="1.45"/>
<circle cx="163.3" cy="452.2" r="1.45"/>
<circle cx="152.8" cy="422.7" r="1.45"/>
<circle cx="160.3" cy="467.3" r="1.45"/>
<circle cx="161.4" cy="451.6" r="1.45"/>
<circle cx="158.0" cy="469.9" r="1.45"/>
<circle cx="162.3" cy="457.9" r="1.45"/>
<circle cx="159.6" cy="453.3" r="1.45"/>
<circle cx="159.9" cy="464.4" r="1.45"/>
<circle cx="159.2" cy="466.2" r="1.45"/>
<circle cx="154.2" cy="452.7" r="1.45"/>
<circle cx="152.2" cy="433.4" r="1.45"/>
<circle cx="191.6" cy="469.7" r="1.45"/>
<circle cx="161.7" cy="464.2" r="1.45"/>
<circle cx="192.7" cy="464.1" r="1.45"/>
<circle cx="161.6" cy="469.1" r="1.45"/>
<circle cx="159.5" cy="467.7" r="1.45"/>
<circle cx="167.2" cy="468.0" r="1.45"/>
<circle cx="161.1" cy="453.9" r="1.45"/>
<circle cx="176.2" cy="461.4" r="1.45"/>
<circle cx="171.9" cy="461.1" r="1.45"/>
<circle cx="159.2" cy="464.4" r="1.45"/>
<circle cx="164.4" cy="464.3" r="1.45"/>
<circle cx="172.2" cy="468.9" r="1.45"/>
<circle cx="177.3" cy="461.3" r="1.45"/>
<circle cx="156.4" cy="466.9" r="1.45"/>
<circle cx="167.9" cy="469.9" r="1.45"/>
<circle cx="162.7" cy="470.0" r="1.45"/>
<circle cx="168.8" cy="456.3" r="1.45"/>
<circle cx="163.1" cy="465.7" r="1.45"/>
<circle cx="153.8" cy="460.6" r="1.45"/>
<circle cx="176.7" cy="467.8" r="1.45"/>
<circle cx="162.6" cy="451.5" r="1.45"/>
<circle cx="151.4" cy="469.9" r="1.45"/>
<circle cx="164.4" cy="467.8" r="1.45"/>
<circle cx="155.8" cy="463.5" r="1.45"/>
<circle cx="157.0" cy="465.4" r="1.45"/>
<circle cx="173.9" cy="466.0" r="1.45"/>
<circle cx="194.0" cy="465.6" r="1.45"/>
<circle cx="158.0" cy="440.7" r="1.45"/>
<circle cx="166.9" cy="453.5" r="1.45"/>
<circle cx="152.6" cy="462.8" r="1.45"/>
<circle cx="152.0" cy="470.0" r="1.45"/>
<circle cx="173.2" cy="468.6" r="1.45"/>
<circle cx="155.2" cy="451.6" r="1.45"/>
<circle cx="184.9" cy="469.3" r="1.45"/>
<circle cx="151.6" cy="433.7" r="1.45"/>
<circle cx="171.6" cy="461.7" r="1.45"/>
<circle cx="151.6" cy="434.2" r="1.45"/>
<circle cx="157.3" cy="460.9" r="1.45"/>
<circle cx="152.7" cy="425.5" r="1.45"/>
<circle cx="163.5" cy="454.3" r="1.45"/>
<circle cx="152.8" cy="427.8" r="1.45"/>
<circle cx="152.6" cy="462.6" r="1.45"/>
<circle cx="158.6" cy="464.1" r="1.45"/>
<circle cx="166.1" cy="464.5" r="1.45"/>
<circle cx="156.5" cy="461.0" r="1.45"/>
<circle cx="162.1" cy="457.3" r="1.45"/>
<circle cx="156.5" cy="463.6" r="1.45"/>
<circle cx="175.3" cy="465.2" r="1.45"/>
<circle cx="153.5" cy="448.0" r="1.45"/>
<circle cx="151.2" cy="467.7" r="1.45"/>
<circle cx="160.8" cy="459.0" r="1.45"/>
<circle cx="164.0" cy="457.1" r="1.45"/>
<circle cx="151.6" cy="424.9" r="1.45"/>
<circle cx="151.8" cy="468.4" r="1.45"/>
<circle cx="185.0" cy="462.6" r="1.45"/>
<circle cx="159.1" cy="470.0" r="1.45"/>
<circle cx="153.8" cy="453.1" r="1.45"/>
<circle cx="161.9" cy="460.6" r="1.45"/>
<circle cx="159.2" cy="447.3" r="1.45"/>
<circle cx="185.0" cy="469.9" r="1.45"/>
<circle cx="189.0" cy="464.6" r="1.45"/>
<circle cx="189.6" cy="469.4" r="1.45"/>
<circle cx="151.9" cy="439.9" r="1.45"/>
<circle cx="151.2" cy="463.2" r="1.45"/>
<circle cx="187.6" cy="469.4" r="1.45"/>
<circle cx="151.6" cy="433.0" r="1.45"/>
<circle cx="183.8" cy="469.0" r="1.45"/>
<circle cx="155.3" cy="469.7" r="1.45"/>
<circle cx="157.6" cy="465.5" r="1.45"/>
<circle cx="155.4" cy="460.4" r="1.45"/>
<circle cx="165.8" cy="467.7" r="1.45"/>
<circle cx="157.0" cy="456.8" r="1.45"/>
<circle cx="156.3" cy="468.2" r="1.45"/>
<circle cx="166.5" cy="455.1" r="1.45"/>
<circle cx="168.6" cy="456.5" r="1.45"/>
<circle cx="161.9" cy="467.5" r="1.45"/>
<circle cx="158.5" cy="439.1" r="1.45"/>
<circle cx="163.8" cy="456.9" r="1.45"/>
<circle cx="169.9" cy="462.3" r="1.45"/>
<circle cx="152.0" cy="445.7" r="1.45"/>
<circle cx="151.4" cy="438.0" r="1.45"/>
<circle cx="156.7" cy="455.7" r="1.45"/>
<circle cx="163.5" cy="464.0" r="1.45"/>
<circle cx="162.9" cy="463.4" r="1.45"/>
<circle cx="160.3" cy="461.6" r="1.45"/>
<circle cx="162.3" cy="462.8" r="1.45"/>
<circle cx="155.6" cy="455.0" r="1.45"/>
<circle cx="156.2" cy="442.4" r="1.45"/>
<circle cx="181.0" cy="462.5" r="1.45"/>
<circle cx="77.8" cy="466.2" r="1.45"/>
<circle cx="176.8" cy="468.3" r="1.45"/>
<circle cx="167.1" cy="439.2" r="1.45"/>
<circle cx="155.5" cy="427.4" r="1.45"/>
<circle cx="157.3" cy="442.1" r="1.45"/>
<circle cx="105.0" cy="458.1" r="1.45"/>
<circle cx="119.5" cy="449.8" r="1.45"/>
<circle cx="153.5" cy="433.8" r="1.45"/>
<circle cx="87.0" cy="454.2" r="1.45"/>
<circle cx="186.5" cy="464.2" r="1.45"/>
<circle cx="98.2" cy="458.9" r="1.45"/>
<circle cx="168.9" cy="458.2" r="1.45"/>
<circle cx="108.9" cy="450.5" r="1.45"/>
<circle cx="108.9" cy="459.7" r="1.45"/>
<circle cx="114.7" cy="464.8" r="1.45"/>
<circle cx="170.3" cy="464.8" r="1.45"/>
<circle cx="151.1" cy="462.2" r="1.45"/>
<circle cx="166.9" cy="449.1" r="1.45"/>
<circle cx="174.8" cy="463.5" r="1.45"/>
<circle cx="151.1" cy="454.4" r="1.45"/>
<circle cx="156.4" cy="443.3" r="1.45"/>
<circle cx="155.4" cy="456.5" r="1.45"/>
<circle cx="162.0" cy="450.3" r="1.45"/>
<circle cx="120.0" cy="415.9" r="1.45"/>
<circle cx="103.8" cy="441.2" r="1.45"/>
<circle cx="158.0" cy="468.1" r="1.45"/>
<circle cx="164.8" cy="460.7" r="1.45"/>
<circle cx="99.4" cy="466.5" r="1.45"/>
<circle cx="163.8" cy="467.6" r="1.45"/>
<circle cx="98.5" cy="467.9" r="1.45"/>
<circle cx="158.4" cy="451.1" r="1.45"/>
<circle cx="166.2" cy="442.8" r="1.45"/>
<circle cx="111.9" cy="431.0" r="1.45"/>
<circle cx="159.5" cy="426.5" r="1.45"/>
<circle cx="120.9" cy="446.8" r="1.45"/>
<circle cx="105.2" cy="469.7" r="1.45"/>
<circle cx="119.0" cy="440.6" r="1.45"/>
<circle cx="156.2" cy="453.7" r="1.45"/>
<circle cx="114.4" cy="465.9" r="1.45"/>
<circle cx="163.5" cy="469.4" r="1.45"/>
<circle cx="178.8" cy="465.1" r="1.45"/>
<circle cx="176.6" cy="465.1" r="1.45"/>
<circle cx="98.3" cy="455.7" r="1.45"/>
<circle cx="178.3" cy="466.8" r="1.45"/>
<circle cx="151.8" cy="433.5" r="1.45"/>
<circle cx="119.2" cy="416.4" r="1.45"/>
<circle cx="112.5" cy="447.8" r="1.45"/>
<circle cx="116.0" cy="437.9" r="1.45"/>
<circle cx="115.7" cy="427.5" r="1.45"/>
<circle cx="156.4" cy="457.8" r="1.45"/>
<circle cx="114.9" cy="444.9" r="1.45"/>
<circle cx="120.0" cy="458.3" r="1.45"/>
<circle cx="190.7" cy="459.5" r="1.45"/>
<circle cx="153.3" cy="418.7" r="1.45"/>
<circle cx="114.5" cy="437.6" r="1.45"/>
<circle cx="170.3" cy="469.7" r="1.45"/>
<circle cx="86.1" cy="455.2" r="1.45"/>
<circle cx="118.7" cy="446.4" r="1.45"/>
<circle cx="118.9" cy="417.4" r="1.45"/>
<circle cx="158.7" cy="437.2" r="1.45"/>
<circle cx="119.0" cy="460.2" r="1.45"/>
<circle cx="153.0" cy="462.4" r="1.45"/>
<circle cx="175.8" cy="457.6" r="1.45"/>
<circle cx="106.6" cy="444.5" r="1.45"/>
<circle cx="118.7" cy="431.3" r="1.45"/>
<circle cx="174.9" cy="456.3" r="1.45"/>
<circle cx="104.0" cy="447.5" r="1.45"/>
<circle cx="160.3" cy="461.4" r="1.45"/>
<circle cx="121.0" cy="456.9" r="1.45"/>
<circle cx="169.1" cy="456.2" r="1.45"/>
<circle cx="180.8" cy="450.4" r="1.45"/>
<circle cx="119.6" cy="445.2" r="1.45"/>
<circle cx="181.6" cy="453.4" r="1.45"/>
<circle cx="169.7" cy="460.6" r="1.45"/>
<circle cx="112.3" cy="460.9" r="1.45"/>
<circle cx="167.1" cy="462.3" r="1.45"/>
<circle cx="156.9" cy="462.5" r="1.45"/>
<circle cx="109.1" cy="443.8" r="1.45"/>
<circle cx="119.8" cy="459.7" r="1.45"/>
<circle cx="115.6" cy="468.1" r="1.45"/>
<circle cx="109.0" cy="462.1" r="1.45"/>
<circle cx="162.0" cy="467.1" r="1.45"/>
<circle cx="151.3" cy="423.6" r="1.45"/>
<circle cx="186.9" cy="466.4" r="1.45"/>
<circle cx="117.4" cy="440.2" r="1.45"/>
<circle cx="154.4" cy="445.1" r="1.45"/>
<circle cx="172.3" cy="444.8" r="1.45"/>
<circle cx="156.3" cy="441.4" r="1.45"/>
<circle cx="121.6" cy="458.3" r="1.45"/>
<circle cx="117.5" cy="461.2" r="1.45"/>
<circle cx="113.9" cy="455.2" r="1.45"/>
<circle cx="120.3" cy="422.6" r="1.45"/>
<circle cx="170.0" cy="456.3" r="1.45"/>
<circle cx="152.8" cy="460.9" r="1.45"/>
<circle cx="121.2" cy="467.6" r="1.45"/>
<circle cx="158.9" cy="438.8" r="1.45"/>
<circle cx="177.7" cy="468.2" r="1.45"/>
<circle cx="170.5" cy="459.3" r="1.45"/>
<circle cx="152.4" cy="469.7" r="1.45"/>
<circle cx="177.7" cy="462.9" r="1.45"/>
<circle cx="120.3" cy="456.4" r="1.45"/>
<circle cx="117.9" cy="441.8" r="1.45"/>
<circle cx="118.3" cy="439.9" r="1.45"/>
<circle cx="118.2" cy="420.1" r="1.45"/>
<circle cx="112.1" cy="428.5" r="1.45"/>
<circle cx="170.1" cy="453.9" r="1.45"/>
<circle cx="120.5" cy="463.9" r="1.45"/>
<circle cx="103.2" cy="448.5" r="1.45"/>
<circle cx="105.6" cy="467.1" r="1.45"/>
<circle cx="100.0" cy="442.5" r="1.45"/>
<circle cx="165.4" cy="466.1" r="1.45"/>
<circle cx="152.9" cy="432.9" r="1.45"/>
<circle cx="118.4" cy="428.9" r="1.45"/>
<circle cx="176.2" cy="449.8" r="1.45"/>
<circle cx="116.8" cy="465.1" r="1.45"/>
<circle cx="104.2" cy="464.4" r="1.45"/>
<circle cx="120.6" cy="426.2" r="1.45"/>
<circle cx="154.0" cy="453.0" r="1.45"/>
<circle cx="173.8" cy="469.1" r="1.45"/>
<circle cx="153.4" cy="441.9" r="1.45"/>
<circle cx="102.9" cy="446.7" r="1.45"/>
<circle cx="91.2" cy="455.7" r="1.45"/>
<circle cx="152.1" cy="469.8" r="1.45"/>
<circle cx="151.6" cy="439.1" r="1.45"/>
<circle cx="120.8" cy="434.9" r="1.45"/>
<circle cx="98.0" cy="468.7" r="1.45"/>
<circle cx="115.4" cy="439.1" r="1.45"/>
<circle cx="163.9" cy="440.0" r="1.45"/>
<circle cx="172.8" cy="456.4" r="1.45"/>
<circle cx="107.7" cy="459.1" r="1.45"/>
<circle cx="114.3" cy="434.1" r="1.45"/>
<circle cx="153.7" cy="449.1" r="1.45"/>
<circle cx="191.8" cy="462.0" r="1.45"/>
<circle cx="164.3" cy="445.9" r="1.45"/>
<circle cx="152.1" cy="424.8" r="1.45"/>
<circle cx="171.5" cy="445.7" r="1.45"/>
<circle cx="111.2" cy="447.1" r="1.45"/>
<circle cx="163.6" cy="434.9" r="1.45"/>
<circle cx="151.8" cy="431.3" r="1.45"/>
<circle cx="110.1" cy="439.8" r="1.45"/>
<circle cx="116.0" cy="424.0" r="1.45"/>
<circle cx="108.5" cy="440.7" r="1.45"/>
<circle cx="185.5" cy="462.1" r="1.45"/>
<circle cx="117.4" cy="439.1" r="1.45"/>
<circle cx="182.0" cy="460.2" r="1.45"/>
<circle cx="156.3" cy="462.8" r="1.45"/>
</g>
<g fill="#ee0000" fill-opacity="0.6">
<circle cx="101.3" cy="278.6" r="1.45"/>
<circle cx="157.0" cy="266.5" r="1.45"/>
<circle cx="173.0" cy="292.0" r="1.45"/>
<circle cx="150.5" cy="304.0" r="1.45"/>
<circle cx="123.5" cy="312.0" r="1.45"/>
<circle cx="152.2" cy="330.5" r="1.45"/>
<circle cx="151.0" cy="337.0" r="1.45"/>
<circle cx="150.0" cy="344.0" r="1.45"/>
<circle cx="151.0" cy="352.0" r="1.45"/>
<circle cx="152.0" cy="359.0" r="1.45"/>
<circle cx="171.4" cy="359.6" r="1.45"/>
<circle cx="152.0" cy="374.0" r="1.45"/>
<circle cx="151.0" cy="381.0" r="1.45"/>
<circle cx="121.0" cy="388.0" r="1.45"/>
<circle cx="150.0" cy="389.0" r="1.45"/>
<circle cx="150.0" cy="396.0" r="1.45"/>
<circle cx="121.0" cy="399.0" r="1.45"/>
<circle cx="180.0" cy="411.0" r="1.45"/>
<circle cx="176.0" cy="412.0" r="1.45"/>
<circle cx="153.0" cy="416.0" r="1.45"/>
<circle cx="119.0" cy="418.0" r="1.45"/>
<circle cx="99.0" cy="435.0" r="1.45"/>
<circle cx="107.7" cy="423.0" r="1.45"/>
<circle cx="77.3" cy="451.8" r="1.45"/>
<circle cx="195.0" cy="440.0" r="1.45"/>
<circle cx="179.5" cy="418.0" r="1.45"/>
<circle cx="165.7" cy="421.5" r="1.45"/>
<circle cx="171.8" cy="431.8" r="1.45"/>
<circle cx="174.4" cy="435.0" r="1.45"/>
<circle cx="177.8" cy="439.6" r="1.45"/>
<circle cx="183.9" cy="449.0" r="1.45"/>
<circle cx="186.5" cy="450.0" r="1.45"/>
<circle cx="118.0" cy="401.6" r="1.45"/>
<circle cx="112.0" cy="384.8" r="1.45"/>
</g>
<g fill="#228b22" fill-opacity="0.7">
<circle cx="181.3" cy="480.5" r="1.3"/>
<circle cx="190.0" cy="477.5" r="1.3"/>
</g>
</g>
<line x1="121.65" y1="253.7" x2="121.65" y2="501.3" stroke="#6a6a6a" stroke-width="1.15" stroke-dasharray="2.7 2.5"/>
<line x1="151.05" y1="253.7" x2="151.05" y2="501.3" stroke="#6a6a6a" stroke-width="1.15" stroke-dasharray="2.7 2.5"/>
<line x1="53.5" y1="469.98" x2="218.2" y2="469.98" stroke="#6a6a6a" stroke-width="1.15" stroke-dasharray="2.7 2.5"/>
<text x="128.3" y="269.8" font-size="8.2" fill="#111" stroke="#111" stroke-width="0.22" font-family='"Liberation Sans", Arial, sans-serif'>LOC105374985</text>
<text x="87.6" y="281.5" font-size="8.2" fill="#111" stroke="#111" stroke-width="0.22" font-family='"Liberation Sans", Arial, sans-serif'>PROCR</text>
<text x="161.8" y="294.4" font-size="8.2" fill="#111" stroke="#111" stroke-width="0.22" font-family='"Liberation Sans", Arial, sans-serif'>MMP1</text>
<text x="103.2" y="306.6" font-size="8.2" fill="#111" stroke="#111" stroke-width="0.22" font-family='"Liberation Sans", Arial, sans-serif'>SPINK1</text>
<text x="134.5" y="306.6" font-size="8.2" fill="#111" stroke="#111" stroke-width="0.22" font-family='"Liberation Sans", Arial, sans-serif'>ADAMTS1</text>
<text x="105.1" y="314.8" font-size="8.2" fill="#111" stroke="#111" stroke-width="0.22" font-family='"Liberation Sans", Arial, sans-serif'>GATA3</text>
<text x="139.4" y="315.9" font-size="8.2" fill="#111" stroke="#111" stroke-width="0.22" font-family='"Liberation Sans", Arial, sans-serif'>MYBPC2</text>
<text x="87.4" y="330.6" font-size="8.2" fill="#111" stroke="#111" stroke-width="0.22" font-family='"Liberation Sans", Arial, sans-serif'>APOH</text>
<text x="136.5" y="329.8" font-size="8.2" fill="#111" stroke="#111" stroke-width="0.22" font-family='"Liberation Sans", Arial, sans-serif'>AKAP12</text>
<text x="145.4" y="340.2" font-size="8.2" fill="#111" stroke="#111" stroke-width="0.22" font-family='"Liberation Sans", Arial, sans-serif'>KRT7</text>
<text x="137.8" y="347.3" font-size="8.2" fill="#111" stroke="#111" stroke-width="0.22" font-family='"Liberation Sans", Arial, sans-serif'>NDRG1</text>
<text x="141.4" y="354.9" font-size="8.2" fill="#111" stroke="#111" stroke-width="0.22" font-family='"Liberation Sans", Arial, sans-serif'>BARX1</text>
<text x="139.4" y="362.0" font-size="8.2" fill="#111" stroke="#111" stroke-width="0.22" font-family='"Liberation Sans", Arial, sans-serif'>BASP1</text>
<text x="154.2" y="369.4" font-size="8.2" fill="#111" stroke="#111" stroke-width="0.22" font-family='"Liberation Sans", Arial, sans-serif'>GAST</text>
<text x="142.2" y="377.0" font-size="8.2" fill="#111" stroke="#111" stroke-width="0.22" font-family='"Liberation Sans", Arial, sans-serif'>RELN</text>
<text x="140.5" y="384.4" font-size="8.2" fill="#111" stroke="#111" stroke-width="0.22" font-family='"Liberation Sans", Arial, sans-serif'>CCN5</text>
<text x="104.5" y="391.4" font-size="8.2" fill="#111" stroke="#111" stroke-width="0.22" font-family='"Liberation Sans", Arial, sans-serif'>ITGA1</text>
<text x="131.8" y="391.4" font-size="8.2" fill="#111" stroke="#111" stroke-width="0.22" font-family='"Liberation Sans", Arial, sans-serif'>CYP4F23P</text>
<text x="139.4" y="398.9" font-size="8.2" fill="#111" stroke="#111" stroke-width="0.22" font-family='"Liberation Sans", Arial, sans-serif'>ACHE</text>
<text x="90.9" y="401.2" font-size="8.2" fill="#111" stroke="#111" stroke-width="0.22" font-family='"Liberation Sans", Arial, sans-serif'>CXCL13</text>
<text x="145.9" y="415.6" font-size="8.2" fill="#111" stroke="#111" stroke-width="0.22" font-family='"Liberation Sans", Arial, sans-serif'>DUOX2</text>
<text x="178.4" y="413.9" font-size="8.2" fill="#111" stroke="#111" stroke-width="0.22" font-family='"Liberation Sans", Arial, sans-serif'>PRKCB</text>
<text x="92.8" y="420.7" font-size="8.2" fill="#111" stroke="#111" stroke-width="0.22" font-family='"Liberation Sans", Arial, sans-serif'>ANKRD30A</text>
<text x="130.6" y="428.3" font-size="8.2" fill="#111" stroke="#111" stroke-width="0.22" font-family='"Liberation Sans", Arial, sans-serif'>ARHGAP27P2</text>
<text x="94.5" y="435.1" font-size="8.2" fill="#111" stroke="#111" stroke-width="0.22" font-family='"Liberation Sans", Arial, sans-serif'>FMOD</text>
<text x="141.2" y="437.7" font-size="8.2" fill="#111" stroke="#111" stroke-width="0.22" font-family='"Liberation Sans", Arial, sans-serif'>ACP4</text>
<text x="104" y="442.9" font-size="8.2" fill="#111" stroke="#111" stroke-width="0.22" font-family='"Liberation Sans", Arial, sans-serif'>CALB2</text>
<text x="181.1" y="447.7" font-size="8.2" fill="#111" stroke="#111" stroke-width="0.22" font-family='"Liberation Sans", Arial, sans-serif'>DLX4</text>
<text x="67.6" y="449.2" font-size="8.2" fill="#111" stroke="#111" stroke-width="0.22" font-family='"Liberation Sans", Arial, sans-serif'>AFP</text>
<text x="138.2" y="448.9" font-size="8.2" fill="#111" stroke="#111" stroke-width="0.22" font-family='"Liberation Sans", Arial, sans-serif'>C2CD4A</text>
<text x="105.8" y="451.6" font-size="8.2" fill="#111" stroke="#111" stroke-width="0.22" font-family='"Liberation Sans", Arial, sans-serif'>GABRE</text>
<text x="86.4" y="458.4" font-size="8.2" fill="#111" stroke="#111" stroke-width="0.22" font-family='"Liberation Sans", Arial, sans-serif'>AKR1C4</text>
<text x="152.1" y="459.1" font-size="8.2" fill="#111" stroke="#111" stroke-width="0.22" font-family='"Liberation Sans", Arial, sans-serif'>ADPGK−AS1</text>
<text x="103.6" y="464.7" font-size="8.2" fill="#111" stroke="#111" stroke-width="0.22" font-family='"Liberation Sans", Arial, sans-serif'>GRID2</text>
<text x="140.2" y="465.2" font-size="8.2" fill="#111" stroke="#111" stroke-width="0.22" font-family='"Liberation Sans", Arial, sans-serif'>C3orf20</text>
<text x="173.4" y="465.2" font-size="8.2" fill="#111" stroke="#111" stroke-width="0.22" font-family='"Liberation Sans", Arial, sans-serif'>MIR5192</text>
<text x="71.8" y="470.2" font-size="8.2" fill="#111" stroke="#111" stroke-width="0.22" font-family='"Liberation Sans", Arial, sans-serif'>ABCC9</text>
<text x="110.9" y="471.1" font-size="8.2" fill="#111" stroke="#111" stroke-width="0.22" font-family='"Liberation Sans", Arial, sans-serif'>SMX</text>
<text x="134.1" y="471.9" font-size="8.2" fill="#111" stroke="#111" stroke-width="0.22" font-family='"Liberation Sans", Arial, sans-serif'>AGAP1−IT1</text>
<path d="M 53.5 253.7 L 53.5 501.3 L 218.2 501.3" fill="none" stroke="#1a1a1a" stroke-width="1.1"/>
<line x1="87.35" y1="501.3" x2="87.35" y2="504.7" stroke="#1a1a1a" stroke-width="1"/>
<text x="87.35" y="515.7" font-size="10.5" text-anchor="middle" fill="#4d4d4d" font-family='"Liberation Sans", Arial, sans-serif'>−5</text>
<line x1="136.35" y1="501.3" x2="136.35" y2="504.7" stroke="#1a1a1a" stroke-width="1"/>
<text x="136.35" y="515.7" font-size="10.5" text-anchor="middle" fill="#4d4d4d" font-family='"Liberation Sans", Arial, sans-serif'>0</text>
<line x1="185.35" y1="501.3" x2="185.35" y2="504.7" stroke="#1a1a1a" stroke-width="1"/>
<text x="185.35" y="515.7" font-size="10.5" text-anchor="middle" fill="#4d4d4d" font-family='"Liberation Sans", Arial, sans-serif'>5</text>
<line x1="50.0" y1="489.50" x2="53.5" y2="489.50" stroke="#1a1a1a" stroke-width="1"/>
<text x="47.8" y="493.80" font-size="10.5" text-anchor="end" fill="#4d4d4d" font-family='"Liberation Sans", Arial, sans-serif'>0</text>
<line x1="50.0" y1="414.50" x2="53.5" y2="414.50" stroke="#1a1a1a" stroke-width="1"/>
<text x="47.8" y="418.80" font-size="10.5" text-anchor="end" fill="#4d4d4d" font-family='"Liberation Sans", Arial, sans-serif'>5</text>
<line x1="50.0" y1="339.50" x2="53.5" y2="339.50" stroke="#1a1a1a" stroke-width="1"/>
<text x="47.8" y="343.80" font-size="10.5" text-anchor="end" fill="#4d4d4d" font-family='"Liberation Sans", Arial, sans-serif'>10</text>
<line x1="50.0" y1="264.50" x2="53.5" y2="264.50" stroke="#1a1a1a" stroke-width="1"/>
<text x="47.8" y="268.80" font-size="10.5" text-anchor="end" fill="#4d4d4d" font-family='"Liberation Sans", Arial, sans-serif'>15</text>
<clipPath id="clipC"><rect x="256.8" y="253.3" width="170.09999999999997" height="246.3"/></clipPath>
<line x1="288.06" y1="253.3" x2="288.06" y2="499.6" stroke="#e6e6e6" stroke-width="0.8"/>
<line x1="330.70" y1="253.3" x2="330.70" y2="499.6" stroke="#e6e6e6" stroke-width="0.8"/>
<line x1="373.34" y1="253.3" x2="373.34" y2="499.6" stroke="#e6e6e6" stroke-width="0.8"/>
<line x1="415.98" y1="253.3" x2="415.98" y2="499.6" stroke="#e6e6e6" stroke-width="0.8"/>
<line x1="256.8" y1="488.20" x2="426.9" y2="488.20" stroke="#e6e6e6" stroke-width="0.8"/>
<line x1="256.8" y1="432.00" x2="426.9" y2="432.00" stroke="#e6e6e6" stroke-width="0.8"/>
<line x1="256.8" y1="375.80" x2="426.9" y2="375.80" stroke="#e6e6e6" stroke-width="0.8"/>
<line x1="256.8" y1="319.60" x2="426.9" y2="319.60" stroke="#e6e6e6" stroke-width="0.8"/>
<line x1="256.8" y1="263.40" x2="426.9" y2="263.40" stroke="#e6e6e6" stroke-width="0.8"/>
<g clip-path="url(#clipC)">
<path d="M 314.7 452.6 L 322.3 452.6 Q 327 470 330.5 484 Q 334 470 338.9 452.6 L 346.7 452.6 L 346.7 485.8 L 330.5 489.8 L 314.7 485.8 Z" fill="#4d4d4d"/>
<path d="M 314.7 451.6 L 302 451.6 L 297.5 456 L 293.5 462.5 L 290.5 469 L 289.5 474.5 Q 299 481.5 314.7 486.2 Z" fill="#228b22"/>
<g fill="#228b22" fill-opacity="0.6">
<circle cx="294.4" cy="465.4" r="1.7"/>
<circle cx="302.7" cy="463.2" r="1.7"/>
<circle cx="295.4" cy="466.1" r="1.7"/>
<circle cx="297.5" cy="471.0" r="1.7"/>
<circle cx="298.6" cy="453.0" r="1.7"/>
<circle cx="303.7" cy="475.2" r="1.7"/>
<circle cx="297.9" cy="466.8" r="1.7"/>
<circle cx="294.2" cy="472.2" r="1.7"/>
<circle cx="295.6" cy="467.4" r="1.7"/>
<circle cx="295.2" cy="467.9" r="1.7"/>
<circle cx="304.0" cy="475.9" r="1.7"/>
<circle cx="301.2" cy="469.0" r="1.7"/>
<circle cx="299.9" cy="461.6" r="1.7"/>
<circle cx="301.3" cy="461.3" r="1.7"/>
<circle cx="303.3" cy="472.3" r="1.7"/>
<circle cx="302.4" cy="463.3" r="1.7"/>
<circle cx="303.7" cy="461.5" r="1.7"/>
<circle cx="300.1" cy="458.5" r="1.7"/>
<circle cx="303.4" cy="470.2" r="1.7"/>
<circle cx="300.4" cy="456.3" r="1.7"/>
<circle cx="296.3" cy="462.7" r="1.7"/>
<circle cx="303.5" cy="471.3" r="1.7"/>
<circle cx="291.8" cy="473.2" r="1.7"/>
<circle cx="301.5" cy="467.4" r="1.7"/>
<circle cx="288.3" cy="475.7" r="1.7"/>
<circle cx="300.0" cy="459.9" r="1.7"/>
<circle cx="303.3" cy="463.6" r="1.7"/>
<circle cx="296.6" cy="472.8" r="1.7"/>
<circle cx="302.4" cy="471.6" r="1.7"/>
<circle cx="299.4" cy="474.6" r="1.7"/>
<circle cx="289.9" cy="474.8" r="1.7"/>
<circle cx="301.9" cy="466.5" r="1.7"/>
<circle cx="291.0" cy="471.8" r="1.7"/>
<circle cx="296.9" cy="459.0" r="1.7"/>
<circle cx="296.3" cy="472.5" r="1.7"/>
<circle cx="297.3" cy="458.7" r="1.7"/>
<circle cx="302.6" cy="456.9" r="1.7"/>
<circle cx="296.5" cy="455.2" r="1.7"/>
<circle cx="292.8" cy="473.4" r="1.7"/>
<circle cx="303.7" cy="467.8" r="1.7"/>
<circle cx="298.6" cy="466.0" r="1.7"/>
<circle cx="298.8" cy="475.1" r="1.7"/>
<circle cx="294.9" cy="469.5" r="1.7"/>
<circle cx="292.1" cy="476.0" r="1.7"/>
<circle cx="299.4" cy="473.6" r="1.7"/>
<circle cx="299.4" cy="468.9" r="1.7"/>
<circle cx="300.4" cy="474.0" r="1.7"/>
<circle cx="292.7" cy="468.4" r="1.7"/>
<circle cx="302.3" cy="472.9" r="1.7"/>
<circle cx="293.8" cy="471.0" r="1.7"/>
<circle cx="301.6" cy="465.7" r="1.7"/>
<circle cx="297.4" cy="461.2" r="1.7"/>
<circle cx="296.7" cy="466.6" r="1.7"/>
<circle cx="303.9" cy="473.1" r="1.7"/>
<circle cx="299.2" cy="461.3" r="1.7"/>
<circle cx="299.4" cy="465.9" r="1.7"/>
<circle cx="294.2" cy="472.1" r="1.7"/>
<circle cx="298.7" cy="463.9" r="1.7"/>
<circle cx="297.3" cy="474.1" r="1.7"/>
<circle cx="291.8" cy="468.3" r="1.7"/>
<circle cx="302.4" cy="467.8" r="1.7"/>
<circle cx="294.2" cy="473.4" r="1.7"/>
<circle cx="292.2" cy="468.0" r="1.7"/>
<circle cx="300.6" cy="473.9" r="1.7"/>
<circle cx="301.9" cy="461.2" r="1.7"/>
<circle cx="296.7" cy="459.6" r="1.7"/>
<circle cx="301.1" cy="472.4" r="1.7"/>
<circle cx="298.9" cy="474.8" r="1.7"/>
<circle cx="297.5" cy="463.9" r="1.7"/>
<circle cx="292.0" cy="472.1" r="1.7"/>
<circle cx="303.7" cy="462.9" r="1.7"/>
<circle cx="301.8" cy="453.0" r="1.7"/>
<circle cx="298.9" cy="465.7" r="1.7"/>
<circle cx="291.9" cy="471.0" r="1.7"/>
<circle cx="301.0" cy="457.7" r="1.7"/>
<circle cx="297.5" cy="462.7" r="1.7"/>
<circle cx="297.5" cy="467.7" r="1.7"/>
<circle cx="300.6" cy="475.0" r="1.7"/>
<circle cx="298.5" cy="456.8" r="1.7"/>
<circle cx="299.0" cy="456.3" r="1.7"/>
<circle cx="298.7" cy="464.5" r="1.7"/>
<circle cx="297.3" cy="470.1" r="1.7"/>
<circle cx="293.4" cy="471.0" r="1.7"/>
<circle cx="302.4" cy="454.1" r="1.7"/>
<circle cx="302.8" cy="469.3" r="1.7"/>
<circle cx="297.4" cy="473.8" r="1.7"/>
<circle cx="293.1" cy="465.7" r="1.7"/>
<circle cx="301.9" cy="471.1" r="1.7"/>
<circle cx="303.0" cy="463.1" r="1.7"/>
<circle cx="297.9" cy="456.9" r="1.7"/>
</g>
<path d="M 296 463 L 305 472 M 301 458 L 307 464" stroke="#ffffff" stroke-opacity="0.35" stroke-width="0.8" fill="none"/>
<path d="M 346.7 451.6 L 383.5 451.6 Q 381 462 385.5 469.6 Q 368 479 346.7 486.2 Z" fill="#228b22"/>
<g fill="#ffffff" fill-opacity="0.35">
<circle cx="374.5" cy="463.8" r="0.9"/>
<circle cx="372.3" cy="462.6" r="0.9"/>
<circle cx="360.8" cy="464.8" r="0.9"/>
<circle cx="381.5" cy="465.7" r="0.9"/>
<circle cx="369.5" cy="463.5" r="0.9"/>
<circle cx="363.7" cy="464.9" r="0.9"/>
<circle cx="378.1" cy="458.2" r="0.9"/>
<circle cx="357.2" cy="459.3" r="0.9"/>
<circle cx="369.9" cy="463.2" r="0.9"/>
<circle cx="368.2" cy="454.3" r="0.9"/>
<circle cx="376.8" cy="454.8" r="0.9"/>
<circle cx="376.6" cy="456.1" r="0.9"/>
<circle cx="364.0" cy="463.5" r="0.9"/>
<circle cx="358.8" cy="455.8" r="0.9"/>
<circle cx="368.9" cy="462.7" r="0.9"/>
<circle cx="377.7" cy="462.3" r="0.9"/>
<circle cx="380.5" cy="459.9" r="0.9"/>
<circle cx="380.6" cy="455.0" r="0.9"/>
<circle cx="361.0" cy="460.3" r="0.9"/>
<circle cx="362.8" cy="462.7" r="0.9"/>
<circle cx="372.2" cy="460.3" r="0.9"/>
<circle cx="377.8" cy="460.7" r="0.9"/>
<circle cx="363.4" cy="458.6" r="0.9"/>
<circle cx="377.8" cy="464.8" r="0.9"/>
<circle cx="360.6" cy="464.2" r="0.9"/>
<circle cx="381.1" cy="460.3" r="0.9"/>
<circle cx="370.5" cy="456.4" r="0.9"/>
<circle cx="369.5" cy="460.0" r="0.9"/>
<circle cx="371.3" cy="454.3" r="0.9"/>
<circle cx="381.2" cy="460.2" r="0.9"/>
</g>
<g fill="#228b22" fill-opacity="0.7">
<circle cx="287.5" cy="474.2" r="1.3"/>
<circle cx="288.5" cy="462.5" r="1.3"/>
<circle cx="292.0" cy="455.0" r="1.3"/>
</g>
<path d="M 346.7 451.6 L 346.7 432 L 343.5 438 L 339 451.6 Z" fill="#4169e1" fill-opacity="0.9"/>
<g fill="#4169e1" fill-opacity="0.6">
<circle cx="346.6" cy="430.4" r="1.2"/>
<circle cx="316.2" cy="427.9" r="1.2"/>
<circle cx="317.3" cy="448.4" r="1.2"/>
<circle cx="344.2" cy="417.6" r="1.2"/>
<circle cx="315.2" cy="420.8" r="1.2"/>
<circle cx="342.4" cy="429.5" r="1.2"/>
<circle cx="346.3" cy="433.8" r="1.2"/>
<circle cx="314.8" cy="437.7" r="1.2"/>
<circle cx="318.4" cy="414.1" r="1.2"/>
<circle cx="343.6" cy="420.0" r="1.2"/>
<circle cx="345.4" cy="409.9" r="1.2"/>
<circle cx="316.5" cy="444.7" r="1.2"/>
<circle cx="315.3" cy="437.7" r="1.2"/>
<circle cx="317.5" cy="422.5" r="1.2"/>
<circle cx="315.4" cy="430.1" r="1.2"/>
<circle cx="315.4" cy="429.7" r="1.2"/>
<circle cx="316.0" cy="415.9" r="1.2"/>
<circle cx="343.4" cy="447.1" r="1.2"/>
<circle cx="342.8" cy="446.5" r="1.2"/>
<circle cx="318.9" cy="446.4" r="1.2"/>
<circle cx="319.1" cy="411.2" r="1.2"/>
<circle cx="345.9" cy="409.5" r="1.2"/>
<circle cx="345.3" cy="430.3" r="1.2"/>
<circle cx="316.2" cy="423.8" r="1.2"/>
<circle cx="334.2" cy="432.8" r="1.2"/>
<circle cx="342.5" cy="449.9" r="1.2"/>
<circle cx="346.1" cy="430.8" r="1.2"/>
<circle cx="340.3" cy="446.2" r="1.2"/>
<circle cx="340.3" cy="444.5" r="1.2"/>
<circle cx="336.4" cy="429.7" r="1.2"/>
<circle cx="335.3" cy="428.9" r="1.2"/>
<circle cx="340.9" cy="440.4" r="1.2"/>
<circle cx="341.1" cy="431.5" r="1.2"/>
<circle cx="336.3" cy="432.9" r="1.2"/>
<circle cx="344.5" cy="451.8" r="1.2"/>
<circle cx="345.6" cy="430.3" r="1.2"/>
<circle cx="334.8" cy="450.8" r="1.2"/>
<circle cx="339.8" cy="446.4" r="1.2"/>
<circle cx="338.1" cy="439.2" r="1.2"/>
<circle cx="340.4" cy="438.3" r="1.2"/>
<circle cx="341.5" cy="428.3" r="1.2"/>
<circle cx="342.8" cy="448.3" r="1.2"/>
<circle cx="336.3" cy="438.9" r="1.2"/>
<circle cx="343.2" cy="437.7" r="1.2"/>
<circle cx="336.4" cy="432.0" r="1.2"/>
<circle cx="340.4" cy="428.4" r="1.2"/>
<circle cx="345.2" cy="447.2" r="1.2"/>
<circle cx="342.8" cy="448.7" r="1.2"/>
<circle cx="341.9" cy="437.7" r="1.2"/>
<circle cx="341.5" cy="440.1" r="1.2"/>
<circle cx="346.3" cy="447.3" r="1.2"/>
<circle cx="337.2" cy="449.9" r="1.2"/>
<circle cx="319.5" cy="444.6" r="1.2"/>
<circle cx="319.9" cy="433.8" r="1.2"/>
<circle cx="320.4" cy="447.5" r="1.2"/>
<circle cx="319.2" cy="444.3" r="1.2"/>
<circle cx="319.6" cy="433.8" r="1.2"/>
<circle cx="319.3" cy="424.0" r="1.2"/>
<circle cx="317.1" cy="435.6" r="1.2"/>
<circle cx="315.1" cy="432.3" r="1.2"/>
<circle cx="318.8" cy="440.1" r="1.2"/>
<circle cx="316.4" cy="449.4" r="1.2"/>
<circle cx="319.0" cy="431.8" r="1.2"/>
<circle cx="319.0" cy="438.5" r="1.2"/>
<circle cx="316.0" cy="423.0" r="1.2"/>
<circle cx="318.0" cy="430.0" r="1.2"/>
<circle cx="321.0" cy="436.0" r="1.2"/>
<circle cx="344.0" cy="419.0" r="1.2"/>
<circle cx="346.0" cy="415.0" r="1.2"/>
<circle cx="345.0" cy="440.0" r="1.2"/>
<circle cx="343.0" cy="447.0" r="1.2"/>
<circle cx="318.0" cy="446.0" r="1.2"/>
<circle cx="346.5" cy="388.0" r="1.2"/>
<circle cx="346.5" cy="392.0" r="1.2"/>
</g>
<g fill="#ee0000" fill-opacity="0.5">
<circle cx="356.4" cy="445.5" r="1.45"/>
<circle cx="359.8" cy="438.4" r="1.45"/>
<circle cx="365.0" cy="433.0" r="1.45"/>
<circle cx="347.0" cy="434.2" r="1.45"/>
<circle cx="363.9" cy="449.1" r="1.45"/>
<circle cx="353.3" cy="451.3" r="1.45"/>
<circle cx="349.5" cy="444.1" r="1.45"/>
<circle cx="348.0" cy="447.3" r="1.45"/>
<circle cx="376.9" cy="445.8" r="1.45"/>
<circle cx="355.8" cy="427.0" r="1.45"/>
<circle cx="357.4" cy="427.3" r="1.45"/>
<circle cx="359.7" cy="435.1" r="1.45"/>
<circle cx="347.7" cy="435.4" r="1.45"/>
<circle cx="364.9" cy="451.5" r="1.45"/>
<circle cx="380.7" cy="450.8" r="1.45"/>
<circle cx="354.9" cy="449.8" r="1.45"/>
<circle cx="355.4" cy="439.1" r="1.45"/>
<circle cx="347.5" cy="419.1" r="1.45"/>
<circle cx="353.7" cy="441.0" r="1.45"/>
<circle cx="358.3" cy="446.4" r="1.45"/>
<circle cx="351.0" cy="435.3" r="1.45"/>
<circle cx="357.2" cy="447.9" r="1.45"/>
<circle cx="362.8" cy="448.3" r="1.45"/>
<circle cx="346.9" cy="447.2" r="1.45"/>
<circle cx="347.2" cy="449.4" r="1.45"/>
<circle cx="364.7" cy="446.9" r="1.45"/>
<circle cx="375.8" cy="442.2" r="1.45"/>
<circle cx="347.3" cy="416.7" r="1.45"/>
<circle cx="383.7" cy="451.4" r="1.45"/>
<circle cx="376.9" cy="447.6" r="1.45"/>
<circle cx="355.0" cy="426.1" r="1.45"/>
<circle cx="350.3" cy="439.6" r="1.45"/>
<circle cx="382.1" cy="443.7" r="1.45"/>
<circle cx="354.8" cy="425.6" r="1.45"/>
<circle cx="368.4" cy="443.4" r="1.45"/>
<circle cx="348.3" cy="434.7" r="1.45"/>
<circle cx="354.5" cy="449.1" r="1.45"/>
<circle cx="347.4" cy="438.0" r="1.45"/>
<circle cx="348.4" cy="441.6" r="1.45"/>
<circle cx="360.8" cy="444.9" r="1.45"/>
<circle cx="350.6" cy="437.7" r="1.45"/>
<circle cx="353.6" cy="432.4" r="1.45"/>
<circle cx="356.4" cy="426.3" r="1.45"/>
<circle cx="363.6" cy="449.3" r="1.45"/>
<circle cx="348.2" cy="422.7" r="1.45"/>
<circle cx="366.3" cy="442.5" r="1.45"/>
<circle cx="352.4" cy="447.5" r="1.45"/>
<circle cx="361.5" cy="442.5" r="1.45"/>
<circle cx="358.1" cy="439.6" r="1.45"/>
<circle cx="364.6" cy="450.0" r="1.45"/>
<circle cx="350.4" cy="421.0" r="1.45"/>
<circle cx="378.3" cy="440.2" r="1.45"/>
<circle cx="347.2" cy="451.1" r="1.45"/>
<circle cx="350.7" cy="443.0" r="1.45"/>
<circle cx="359.2" cy="450.9" r="1.45"/>
<circle cx="356.7" cy="451.2" r="1.45"/>
<circle cx="347.8" cy="432.2" r="1.45"/>
<circle cx="356.9" cy="439.1" r="1.45"/>
<circle cx="352.7" cy="442.0" r="1.45"/>
<circle cx="349.7" cy="445.1" r="1.45"/>
<circle cx="364.2" cy="436.5" r="1.45"/>
<circle cx="347.7" cy="450.2" r="1.45"/>
<circle cx="367.9" cy="442.9" r="1.45"/>
<circle cx="365.4" cy="449.8" r="1.45"/>
<circle cx="353.8" cy="448.0" r="1.45"/>
<circle cx="367.9" cy="447.7" r="1.45"/>
<circle cx="360.3" cy="429.7" r="1.45"/>
<circle cx="351.7" cy="439.4" r="1.45"/>
<circle cx="364.2" cy="434.2" r="1.45"/>
<circle cx="353.8" cy="445.4" r="1.45"/>
<circle cx="348.0" cy="423.2" r="1.45"/>
<circle cx="347.7" cy="450.8" r="1.45"/>
<circle cx="357.3" cy="443.3" r="1.45"/>
<circle cx="361.5" cy="448.1" r="1.45"/>
<circle cx="365.8" cy="451.2" r="1.45"/>
<circle cx="349.8" cy="434.2" r="1.45"/>
<circle cx="347.8" cy="445.8" r="1.45"/>
<circle cx="363.2" cy="439.9" r="1.45"/>
<circle cx="350.9" cy="450.0" r="1.45"/>
<circle cx="352.4" cy="433.5" r="1.45"/>
<circle cx="352.5" cy="450.5" r="1.45"/>
<circle cx="362.5" cy="442.7" r="1.45"/>
<circle cx="378.8" cy="439.1" r="1.45"/>
<circle cx="378.0" cy="447.6" r="1.45"/>
<circle cx="367.5" cy="448.6" r="1.45"/>
<circle cx="351.6" cy="444.0" r="1.45"/>
<circle cx="381.6" cy="440.6" r="1.45"/>
<circle cx="350.3" cy="444.8" r="1.45"/>
<circle cx="352.5" cy="445.3" r="1.45"/>
<circle cx="353.1" cy="444.8" r="1.45"/>
<circle cx="349.5" cy="437.8" r="1.45"/>
<circle cx="367.1" cy="444.4" r="1.45"/>
<circle cx="369.8" cy="444.5" r="1.45"/>
<circle cx="349.2" cy="429.7" r="1.45"/>
<circle cx="373.9" cy="449.4" r="1.45"/>
<circle cx="347.0" cy="438.3" r="1.45"/>
<circle cx="356.7" cy="440.9" r="1.45"/>
<circle cx="360.2" cy="435.5" r="1.45"/>
<circle cx="347.5" cy="437.4" r="1.45"/>
<circle cx="366.5" cy="451.2" r="1.45"/>
<circle cx="347.8" cy="429.5" r="1.45"/>
<circle cx="376.0" cy="451.3" r="1.45"/>
<circle cx="359.6" cy="450.4" r="1.45"/>
<circle cx="364.2" cy="441.3" r="1.45"/>
<circle cx="350.3" cy="448.4" r="1.45"/>
<circle cx="365.2" cy="444.4" r="1.45"/>
<circle cx="365.2" cy="446.9" r="1.45"/>
<circle cx="352.0" cy="423.3" r="1.45"/>
<circle cx="361.0" cy="444.1" r="1.45"/>
<circle cx="356.5" cy="436.2" r="1.45"/>
<circle cx="362.4" cy="433.4" r="1.45"/>
<circle cx="353.5" cy="430.5" r="1.45"/>
<circle cx="360.7" cy="434.3" r="1.45"/>
<circle cx="367.7" cy="438.1" r="1.45"/>
<circle cx="374.8" cy="437.6" r="1.45"/>
<circle cx="359.8" cy="443.1" r="1.45"/>
<circle cx="362.5" cy="436.7" r="1.45"/>
<circle cx="353.7" cy="444.0" r="1.45"/>
<circle cx="348.7" cy="430.1" r="1.45"/>
<circle cx="352.7" cy="449.7" r="1.45"/>
<circle cx="349.6" cy="442.6" r="1.45"/>
<circle cx="351.1" cy="422.3" r="1.45"/>
<circle cx="347.5" cy="445.6" r="1.45"/>
<circle cx="348.3" cy="433.7" r="1.45"/>
<circle cx="365.8" cy="450.2" r="1.45"/>
<circle cx="347.5" cy="440.7" r="1.45"/>
<circle cx="357.9" cy="430.8" r="1.45"/>
<circle cx="347.2" cy="450.4" r="1.45"/>
<circle cx="349.3" cy="448.3" r="1.45"/>
<circle cx="350.1" cy="432.2" r="1.45"/>
<circle cx="358.2" cy="449.1" r="1.45"/>
<circle cx="349.3" cy="446.7" r="1.45"/>
<circle cx="349.1" cy="429.8" r="1.45"/>
<circle cx="351.5" cy="439.3" r="1.45"/>
<circle cx="368.4" cy="445.8" r="1.45"/>
<circle cx="350.5" cy="425.4" r="1.45"/>
<circle cx="378.1" cy="448.9" r="1.45"/>
<circle cx="356.8" cy="428.2" r="1.45"/>
<circle cx="355.1" cy="448.9" r="1.45"/>
<circle cx="347.3" cy="418.8" r="1.45"/>
<circle cx="367.4" cy="447.3" r="1.45"/>
<circle cx="356.3" cy="442.2" r="1.45"/>
<circle cx="350.8" cy="421.0" r="1.45"/>
<circle cx="360.4" cy="449.1" r="1.45"/>
<circle cx="346.8" cy="439.8" r="1.45"/>
<circle cx="352.6" cy="431.0" r="1.45"/>
<circle cx="362.7" cy="441.9" r="1.45"/>
<circle cx="348.9" cy="449.6" r="1.45"/>
<circle cx="351.7" cy="447.7" r="1.45"/>
<circle cx="372.7" cy="445.8" r="1.45"/>
<circle cx="359.7" cy="429.1" r="1.45"/>
<circle cx="350.7" cy="439.4" r="1.45"/>
<circle cx="348.8" cy="428.9" r="1.45"/>
<circle cx="346.7" cy="424.5" r="1.45"/>
<circle cx="370.6" cy="439.3" r="1.45"/>
<circle cx="347.8" cy="446.7" r="1.45"/>
<circle cx="362.8" cy="451.0" r="1.45"/>
<circle cx="355.1" cy="443.1" r="1.45"/>
<circle cx="358.0" cy="432.6" r="1.45"/>
<circle cx="351.3" cy="430.2" r="1.45"/>
<circle cx="353.6" cy="427.0" r="1.45"/>
<circle cx="347.9" cy="425.5" r="1.45"/>
<circle cx="349.7" cy="438.6" r="1.45"/>
<circle cx="356.2" cy="450.0" r="1.45"/>
<circle cx="369.5" cy="448.7" r="1.45"/>
<circle cx="351.5" cy="451.0" r="1.45"/>
<circle cx="351.4" cy="441.9" r="1.45"/>
<circle cx="362.8" cy="447.2" r="1.45"/>
<circle cx="361.6" cy="450.9" r="1.45"/>
<circle cx="353.1" cy="442.7" r="1.45"/>
<circle cx="369.3" cy="442.6" r="1.45"/>
<circle cx="346.8" cy="443.2" r="1.45"/>
<circle cx="362.5" cy="449.2" r="1.45"/>
<circle cx="357.3" cy="444.0" r="1.45"/>
<circle cx="346.8" cy="415.8" r="1.45"/>
<circle cx="367.2" cy="449.9" r="1.45"/>
<circle cx="358.9" cy="448.0" r="1.45"/>
<circle cx="352.7" cy="440.2" r="1.45"/>
<circle cx="351.2" cy="445.6" r="1.45"/>
<circle cx="353.1" cy="436.1" r="1.45"/>
<circle cx="350.5" cy="448.8" r="1.45"/>
<circle cx="363.5" cy="447.8" r="1.45"/>
<circle cx="383.8" cy="446.4" r="1.45"/>
<circle cx="363.1" cy="447.8" r="1.45"/>
<circle cx="369.1" cy="451.2" r="1.45"/>
<circle cx="348.6" cy="450.7" r="1.45"/>
<circle cx="361.2" cy="438.7" r="1.45"/>
<circle cx="349.2" cy="443.2" r="1.45"/>
<circle cx="369.9" cy="444.0" r="1.45"/>
<circle cx="347.9" cy="447.9" r="1.45"/>
<circle cx="348.9" cy="450.2" r="1.45"/>
<circle cx="353.4" cy="451.1" r="1.45"/>
<circle cx="379.1" cy="447.8" r="1.45"/>
<circle cx="355.9" cy="438.2" r="1.45"/>
<circle cx="365.3" cy="437.4" r="1.45"/>
<circle cx="352.9" cy="446.2" r="1.45"/>
<circle cx="353.5" cy="451.6" r="1.45"/>
<circle cx="353.2" cy="435.0" r="1.45"/>
<circle cx="366.6" cy="441.8" r="1.45"/>
<circle cx="358.7" cy="451.6" r="1.45"/>
<circle cx="351.8" cy="445.6" r="1.45"/>
<circle cx="360.1" cy="450.9" r="1.45"/>
<circle cx="352.8" cy="441.1" r="1.45"/>
<circle cx="366.6" cy="437.8" r="1.45"/>
<circle cx="358.8" cy="450.2" r="1.45"/>
<circle cx="365.3" cy="435.3" r="1.45"/>
<circle cx="356.9" cy="446.4" r="1.45"/>
<circle cx="355.6" cy="450.2" r="1.45"/>
<circle cx="362.7" cy="431.4" r="1.45"/>
<circle cx="356.0" cy="436.1" r="1.45"/>
<circle cx="369.8" cy="450.2" r="1.45"/>
<circle cx="383.8" cy="445.4" r="1.45"/>
<circle cx="349.5" cy="450.9" r="1.45"/>
<circle cx="350.3" cy="437.7" r="1.45"/>
<circle cx="362.0" cy="447.7" r="1.45"/>
<circle cx="380.5" cy="448.8" r="1.45"/>
<circle cx="354.6" cy="450.5" r="1.45"/>
<circle cx="348.6" cy="422.5" r="1.45"/>
<circle cx="356.7" cy="441.1" r="1.45"/>
<circle cx="357.2" cy="448.3" r="1.45"/>
<circle cx="377.4" cy="437.7" r="1.45"/>
<circle cx="368.5" cy="443.5" r="1.45"/>
<circle cx="348.4" cy="426.0" r="1.45"/>
<circle cx="351.0" cy="425.5" r="1.45"/>
<circle cx="350.2" cy="437.8" r="1.45"/>
<circle cx="369.4" cy="450.3" r="1.45"/>
<circle cx="356.8" cy="451.1" r="1.45"/>
<circle cx="347.1" cy="448.9" r="1.45"/>
<circle cx="382.6" cy="444.8" r="1.45"/>
<circle cx="351.4" cy="434.9" r="1.45"/>
<circle cx="363.8" cy="446.9" r="1.45"/>
<circle cx="358.2" cy="434.4" r="1.45"/>
<circle cx="346.9" cy="448.4" r="1.45"/>
<circle cx="354.8" cy="450.2" r="1.45"/>
<circle cx="352.9" cy="439.3" r="1.45"/>
<circle cx="349.1" cy="439.2" r="1.45"/>
<circle cx="350.6" cy="438.2" r="1.45"/>
<circle cx="351.9" cy="436.3" r="1.45"/>
<circle cx="347.2" cy="432.0" r="1.45"/>
<circle cx="348.7" cy="419.9" r="1.45"/>
<circle cx="358.4" cy="444.0" r="1.45"/>
<circle cx="353.5" cy="437.8" r="1.45"/>
<circle cx="361.6" cy="437.6" r="1.45"/>
<circle cx="364.5" cy="445.0" r="1.45"/>
<circle cx="370.0" cy="438.4" r="1.45"/>
<circle cx="353.4" cy="443.6" r="1.45"/>
<circle cx="357.4" cy="430.5" r="1.45"/>
<circle cx="356.2" cy="441.9" r="1.45"/>
<circle cx="353.9" cy="427.8" r="1.45"/>
<circle cx="351.6" cy="451.3" r="1.45"/>
<circle cx="363.2" cy="434.3" r="1.45"/>
<circle cx="363.5" cy="442.4" r="1.45"/>
<circle cx="364.5" cy="448.4" r="1.45"/>
<circle cx="358.2" cy="451.2" r="1.45"/>
<circle cx="348.4" cy="441.4" r="1.45"/>
<circle cx="355.6" cy="445.1" r="1.45"/>
<circle cx="347.4" cy="431.0" r="1.45"/>
<circle cx="356.2" cy="448.7" r="1.45"/>
<circle cx="351.4" cy="444.1" r="1.45"/>
<circle cx="350.1" cy="451.1" r="1.45"/>
<circle cx="377.7" cy="438.3" r="1.45"/>
<circle cx="360.7" cy="433.9" r="1.45"/>
<circle cx="353.7" cy="431.5" r="1.45"/>
<circle cx="349.9" cy="430.9" r="1.45"/>
<circle cx="357.4" cy="430.6" r="1.45"/>
<circle cx="348.0" cy="427.2" r="1.45"/>
<circle cx="348.4" cy="438.2" r="1.45"/>
<circle cx="346.7" cy="447.2" r="1.45"/>
<circle cx="351.2" cy="446.0" r="1.45"/>
<circle cx="347.5" cy="421.7" r="1.45"/>
<circle cx="368.3" cy="447.2" r="1.45"/>
<circle cx="352.3" cy="438.5" r="1.45"/>
<circle cx="347.3" cy="451.4" r="1.45"/>
<circle cx="376.0" cy="449.2" r="1.45"/>
<circle cx="355.5" cy="428.0" r="1.45"/>
<circle cx="354.9" cy="449.1" r="1.45"/>
<circle cx="351.2" cy="424.4" r="1.45"/>
<circle cx="375.7" cy="450.4" r="1.45"/>
<circle cx="370.0" cy="448.1" r="1.45"/>
<circle cx="354.9" cy="449.7" r="1.45"/>
<circle cx="373.8" cy="436.5" r="1.45"/>
<circle cx="349.6" cy="435.2" r="1.45"/>
<circle cx="349.4" cy="424.5" r="1.45"/>
<circle cx="347.3" cy="450.4" r="1.45"/>
<circle cx="363.2" cy="448.1" r="1.45"/>
<circle cx="376.2" cy="439.9" r="1.45"/>
<circle cx="362.7" cy="450.6" r="1.45"/>
<circle cx="361.9" cy="432.4" r="1.45"/>
<circle cx="354.2" cy="451.0" r="1.45"/>
<circle cx="349.9" cy="446.2" r="1.45"/>
<circle cx="362.5" cy="449.8" r="1.45"/>
<circle cx="349.2" cy="447.9" r="1.45"/>
<circle cx="360.7" cy="436.2" r="1.45"/>
<circle cx="352.7" cy="436.0" r="1.45"/>
<circle cx="374.3" cy="444.8" r="1.45"/>
<circle cx="350.0" cy="446.3" r="1.45"/>
<circle cx="380.1" cy="444.4" r="1.45"/>
<circle cx="350.8" cy="435.7" r="1.45"/>
<circle cx="347.9" cy="417.7" r="1.45"/>
<circle cx="354.1" cy="441.1" r="1.45"/>
<circle cx="362.8" cy="450.6" r="1.45"/>
<circle cx="366.2" cy="444.5" r="1.45"/>
<circle cx="352.8" cy="419.2" r="1.45"/>
<circle cx="348.6" cy="439.9" r="1.45"/>
<circle cx="376.7" cy="447.0" r="1.45"/>
<circle cx="353.7" cy="430.8" r="1.45"/>
<circle cx="351.1" cy="413.1" r="1.45"/>
<circle cx="347.4" cy="431.1" r="1.45"/>
<circle cx="376.3" cy="443.9" r="1.45"/>
<circle cx="361.5" cy="446.7" r="1.45"/>
<circle cx="364.0" cy="432.9" r="1.45"/>
<circle cx="356.2" cy="427.9" r="1.45"/>
<circle cx="379.3" cy="441.7" r="1.45"/>
<circle cx="361.7" cy="424.8" r="1.45"/>
<circle cx="371.3" cy="439.4" r="1.45"/>
<circle cx="350.8" cy="418.3" r="1.45"/>
<circle cx="350.5" cy="426.1" r="1.45"/>
<circle cx="352.4" cy="434.7" r="1.45"/>
<circle cx="378.3" cy="435.6" r="1.45"/>
<circle cx="380.1" cy="447.5" r="1.45"/>
<circle cx="361.0" cy="445.4" r="1.45"/>
<circle cx="365.2" cy="437.9" r="1.45"/>
<circle cx="347.5" cy="424.4" r="1.45"/>
<circle cx="373.4" cy="438.8" r="1.45"/>
<circle cx="390.7" cy="449.3" r="1.45"/>
<circle cx="350.2" cy="451.1" r="1.45"/>
<circle cx="361.3" cy="438.6" r="1.45"/>
<circle cx="359.1" cy="443.7" r="1.45"/>
<circle cx="380.8" cy="450.5" r="1.45"/>
<circle cx="364.6" cy="436.4" r="1.45"/>
<circle cx="380.1" cy="447.5" r="1.45"/>
<circle cx="350.1" cy="439.3" r="1.45"/>
<circle cx="347.6" cy="438.2" r="1.45"/>
<circle cx="367.4" cy="438.0" r="1.45"/>
<circle cx="353.2" cy="428.8" r="1.45"/>
<circle cx="348.7" cy="414.2" r="1.45"/>
<circle cx="350.7" cy="441.9" r="1.45"/>
<circle cx="350.4" cy="422.2" r="1.45"/>
<circle cx="384.6" cy="437.8" r="1.45"/>
<circle cx="348.0" cy="433.9" r="1.45"/>
<circle cx="356.4" cy="444.7" r="1.45"/>
<circle cx="347.6" cy="429.8" r="1.45"/>
<circle cx="377.2" cy="430.5" r="1.45"/>
<circle cx="350.0" cy="432.8" r="1.45"/>
<circle cx="375.8" cy="451.0" r="1.45"/>
<circle cx="352.6" cy="415.0" r="1.45"/>
<circle cx="349.9" cy="435.6" r="1.45"/>
<circle cx="354.2" cy="436.2" r="1.45"/>
<circle cx="348.4" cy="450.5" r="1.45"/>
<circle cx="377.4" cy="436.4" r="1.45"/>
<circle cx="352.3" cy="442.4" r="1.45"/>
<circle cx="363.8" cy="445.2" r="1.45"/>
<circle cx="359.9" cy="420.2" r="1.45"/>
<circle cx="356.3" cy="440.3" r="1.45"/>
<circle cx="366.8" cy="450.8" r="1.45"/>
<circle cx="357.7" cy="429.2" r="1.45"/>
<circle cx="348.0" cy="437.0" r="1.45"/>
<circle cx="372.0" cy="430.7" r="1.45"/>
<circle cx="365.7" cy="426.2" r="1.45"/>
<circle cx="359.9" cy="439.5" r="1.45"/>
<circle cx="386.2" cy="445.7" r="1.45"/>
<circle cx="379.1" cy="447.8" r="1.45"/>
<circle cx="355.8" cy="445.7" r="1.45"/>
<circle cx="363.7" cy="447.5" r="1.45"/>
<circle cx="351.5" cy="443.8" r="1.45"/>
<circle cx="360.1" cy="442.4" r="1.45"/>
<circle cx="359.3" cy="417.4" r="1.45"/>
<circle cx="370.9" cy="430.1" r="1.45"/>
<circle cx="351.6" cy="436.7" r="1.45"/>
<circle cx="348.3" cy="420.3" r="1.45"/>
<circle cx="356.3" cy="442.6" r="1.45"/>
<circle cx="347.1" cy="444.2" r="1.45"/>
<circle cx="353.2" cy="437.0" r="1.45"/>
<circle cx="373.5" cy="446.1" r="1.45"/>
<circle cx="356.2" cy="446.9" r="1.45"/>
<circle cx="356.2" cy="423.6" r="1.45"/>
<circle cx="374.1" cy="430.7" r="1.45"/>
<circle cx="347.1" cy="437.7" r="1.45"/>
<circle cx="357.0" cy="449.3" r="1.45"/>
<circle cx="355.1" cy="422.5" r="1.45"/>
<circle cx="362.3" cy="450.3" r="1.45"/>
<circle cx="357.4" cy="444.1" r="1.45"/>
<circle cx="347.6" cy="445.7" r="1.45"/>
<circle cx="366.0" cy="451.0" r="1.45"/>
<circle cx="354.7" cy="436.4" r="1.45"/>
<circle cx="363.4" cy="448.2" r="1.45"/>
<circle cx="372.8" cy="446.2" r="1.45"/>
<circle cx="374.3" cy="436.8" r="1.45"/>
<circle cx="350.1" cy="443.8" r="1.45"/>
<circle cx="353.7" cy="423.9" r="1.45"/>
<circle cx="357.8" cy="439.0" r="1.45"/>
<circle cx="389.5" cy="448.5" r="1.45"/>
<circle cx="354.1" cy="439.3" r="1.45"/>
<circle cx="351.9" cy="450.4" r="1.45"/>
<circle cx="347.2" cy="422.5" r="1.45"/>
<circle cx="364.5" cy="427.9" r="1.45"/>
<circle cx="354.2" cy="426.0" r="1.45"/>
<circle cx="351.9" cy="423.5" r="1.45"/>
<circle cx="370.1" cy="427.1" r="1.45"/>
<circle cx="389.9" cy="448.4" r="1.45"/>
<circle cx="368.0" cy="449.7" r="1.45"/>
<circle cx="358.6" cy="439.1" r="1.45"/>
<circle cx="348.0" cy="435.1" r="1.45"/>
<circle cx="355.2" cy="433.7" r="1.45"/>
<circle cx="353.7" cy="446.3" r="1.45"/>
<circle cx="357.7" cy="435.7" r="1.45"/>
<circle cx="350.6" cy="423.5" r="1.45"/>
<circle cx="352.5" cy="448.6" r="1.45"/>
<circle cx="355.6" cy="436.8" r="1.45"/>
<circle cx="350.2" cy="427.1" r="1.45"/>
<circle cx="372.5" cy="439.0" r="1.45"/>
<circle cx="372.4" cy="451.3" r="1.45"/>
<circle cx="357.3" cy="439.6" r="1.45"/>
<circle cx="348.1" cy="434.2" r="1.45"/>
<circle cx="347.9" cy="429.7" r="1.45"/>
<circle cx="365.5" cy="438.9" r="1.45"/>
<circle cx="355.1" cy="443.1" r="1.45"/>
<circle cx="347.2" cy="436.5" r="1.45"/>
<circle cx="364.5" cy="444.8" r="1.45"/>
<circle cx="370.2" cy="447.6" r="1.45"/>
<circle cx="360.2" cy="431.9" r="1.45"/>
<circle cx="356.3" cy="431.2" r="1.45"/>
<circle cx="378.2" cy="439.1" r="1.45"/>
<circle cx="367.4" cy="441.2" r="1.45"/>
<circle cx="358.1" cy="443.0" r="1.45"/>
<circle cx="384.4" cy="436.0" r="1.45"/>
<circle cx="356.9" cy="418.4" r="1.45"/>
<circle cx="347.5" cy="446.3" r="1.45"/>
<circle cx="361.8" cy="442.8" r="1.45"/>
<circle cx="356.2" cy="415.0" r="1.45"/>
<circle cx="350.2" cy="444.4" r="1.45"/>
<circle cx="352.2" cy="424.1" r="1.45"/>
<circle cx="352.4" cy="451.6" r="1.45"/>
<circle cx="363.4" cy="440.6" r="1.45"/>
<circle cx="352.5" cy="432.5" r="1.45"/>
<circle cx="369.1" cy="437.9" r="1.45"/>
<circle cx="367.6" cy="437.0" r="1.45"/>
<circle cx="384.6" cy="434.3" r="1.45"/>
<circle cx="355.3" cy="439.6" r="1.45"/>
<circle cx="354.7" cy="424.5" r="1.45"/>
<circle cx="372.0" cy="435.4" r="1.45"/>
<circle cx="383.8" cy="449.2" r="1.45"/>
<circle cx="367.4" cy="439.0" r="1.45"/>
<circle cx="364.4" cy="441.6" r="1.45"/>
<circle cx="353.9" cy="422.4" r="1.45"/>
<circle cx="363.0" cy="445.2" r="1.45"/>
<circle cx="352.8" cy="439.6" r="1.45"/>
<circle cx="350.9" cy="430.6" r="1.45"/>
<circle cx="349.6" cy="449.5" r="1.45"/>
<circle cx="348.2" cy="447.8" r="1.45"/>
<circle cx="372.7" cy="449.5" r="1.45"/>
<circle cx="359.5" cy="425.8" r="1.45"/>
<circle cx="360.7" cy="447.1" r="1.45"/>
<circle cx="389.6" cy="437.9" r="1.45"/>
<circle cx="347.9" cy="441.1" r="1.45"/>
<circle cx="361.8" cy="426.5" r="1.45"/>
<circle cx="357.3" cy="426.4" r="1.45"/>
<circle cx="352.9" cy="423.1" r="1.45"/>
<circle cx="355.1" cy="440.0" r="1.45"/>
<circle cx="377.1" cy="433.7" r="1.45"/>
<circle cx="384.3" cy="441.9" r="1.45"/>
<circle cx="358.3" cy="427.4" r="1.45"/>
<circle cx="367.5" cy="429.1" r="1.45"/>
<circle cx="381.1" cy="449.7" r="1.45"/>
<circle cx="356.8" cy="427.8" r="1.45"/>
<circle cx="352.3" cy="445.1" r="1.45"/>
<circle cx="347.0" cy="424.6" r="1.45"/>
<circle cx="349.8" cy="421.8" r="1.45"/>
<circle cx="358.3" cy="430.2" r="1.45"/>
<circle cx="357.5" cy="418.0" r="1.45"/>
<circle cx="347.8" cy="418.7" r="1.45"/>
<circle cx="349.4" cy="450.2" r="1.45"/>
<circle cx="353.9" cy="423.2" r="1.45"/>
<circle cx="349.4" cy="438.2" r="1.45"/>
<circle cx="347.3" cy="427.0" r="1.45"/>
<circle cx="360.8" cy="440.4" r="1.45"/>
<circle cx="354.6" cy="420.8" r="1.45"/>
<circle cx="385.6" cy="447.3" r="1.45"/>
<circle cx="357.3" cy="430.2" r="1.45"/>
<circle cx="377.6" cy="430.8" r="1.45"/>
<circle cx="357.2" cy="427.2" r="1.45"/>
<circle cx="363.5" cy="427.6" r="1.45"/>
<circle cx="350.1" cy="445.1" r="1.45"/>
<circle cx="349.1" cy="409.1" r="1.45"/>
<circle cx="352.9" cy="432.9" r="1.45"/>
<circle cx="349.4" cy="438.5" r="1.45"/>
<circle cx="347.1" cy="425.7" r="1.45"/>
<circle cx="350.0" cy="424.9" r="1.45"/>
<circle cx="353.5" cy="443.7" r="1.45"/>
<circle cx="360.7" cy="440.7" r="1.45"/>
<circle cx="353.1" cy="450.1" r="1.45"/>
<circle cx="348.1" cy="410.0" r="1.45"/>
<circle cx="354.6" cy="449.2" r="1.45"/>
<circle cx="351.0" cy="432.1" r="1.45"/>
<circle cx="351.5" cy="415.0" r="1.45"/>
<circle cx="360.8" cy="439.1" r="1.45"/>
<circle cx="381.8" cy="444.7" r="1.45"/>
<circle cx="348.0" cy="427.0" r="1.45"/>
<circle cx="369.5" cy="436.0" r="1.45"/>
<circle cx="353.6" cy="413.9" r="1.45"/>
<circle cx="307.2" cy="441.1" r="1.45"/>
<circle cx="312.5" cy="436.1" r="1.45"/>
<circle cx="309.9" cy="450.7" r="1.45"/>
<circle cx="314.6" cy="450.0" r="1.45"/>
<circle cx="314.2" cy="451.2" r="1.45"/>
<circle cx="313.1" cy="437.4" r="1.45"/>
<circle cx="313.3" cy="443.6" r="1.45"/>
<circle cx="314.7" cy="449.3" r="1.45"/>
<circle cx="314.7" cy="441.6" r="1.45"/>
<circle cx="308.5" cy="443.1" r="1.45"/>
<circle cx="309.7" cy="448.3" r="1.45"/>
<circle cx="308.6" cy="442.3" r="1.45"/>
<circle cx="309.3" cy="438.3" r="1.45"/>
<circle cx="314.3" cy="427.1" r="1.45"/>
<circle cx="312.8" cy="439.3" r="1.45"/>
<circle cx="313.6" cy="430.9" r="1.45"/>
<circle cx="314.6" cy="440.1" r="1.45"/>
<circle cx="313.7" cy="446.2" r="1.45"/>
<circle cx="313.0" cy="440.3" r="1.45"/>
<circle cx="308.5" cy="449.2" r="1.45"/>
<circle cx="310.9" cy="448.5" r="1.45"/>
<circle cx="313.5" cy="431.4" r="1.45"/>
<circle cx="313.3" cy="451.1" r="1.45"/>
<circle cx="313.2" cy="437.5" r="1.45"/>
<circle cx="313.8" cy="436.2" r="1.45"/>
<circle cx="311.8" cy="441.5" r="1.45"/>
<circle cx="314.0" cy="450.9" r="1.45"/>
<circle cx="314.1" cy="446.8" r="1.45"/>
<circle cx="312.6" cy="451.6" r="1.45"/>
<circle cx="312.1" cy="447.0" r="1.45"/>
<circle cx="313.3" cy="443.1" r="1.45"/>
<circle cx="313.9" cy="431.3" r="1.45"/>
<circle cx="313.3" cy="437.0" r="1.45"/>
<circle cx="314.3" cy="425.7" r="1.45"/>
<circle cx="312.6" cy="431.9" r="1.45"/>
<circle cx="313.8" cy="445.8" r="1.45"/>
<circle cx="310.1" cy="450.7" r="1.45"/>
<circle cx="313.5" cy="438.9" r="1.45"/>
<circle cx="313.3" cy="450.1" r="1.45"/>
<circle cx="313.1" cy="429.7" r="1.45"/>
<circle cx="314.1" cy="439.2" r="1.45"/>
<circle cx="312.9" cy="440.8" r="1.45"/>
<circle cx="313.8" cy="440.2" r="1.45"/>
<circle cx="306.6" cy="443.9" r="1.45"/>
<circle cx="311.0" cy="445.9" r="1.45"/>
<circle cx="311.6" cy="451.1" r="1.45"/>
<circle cx="307.9" cy="445.3" r="1.45"/>
<circle cx="312.5" cy="440.9" r="1.45"/>
<circle cx="312.7" cy="447.0" r="1.45"/>
<circle cx="313.7" cy="440.8" r="1.45"/>
<circle cx="311.5" cy="445.3" r="1.45"/>
<circle cx="314.6" cy="438.5" r="1.45"/>
<circle cx="312.5" cy="442.7" r="1.45"/>
<circle cx="311.3" cy="435.8" r="1.45"/>
<circle cx="314.1" cy="444.0" r="1.45"/>
<circle cx="309.7" cy="449.4" r="1.45"/>
<circle cx="309.7" cy="437.5" r="1.45"/>
<circle cx="312.8" cy="434.5" r="1.45"/>
<circle cx="314.2" cy="425.9" r="1.45"/>
<circle cx="312.2" cy="449.7" r="1.45"/>
<circle cx="307.9" cy="445.9" r="1.45"/>
<circle cx="304.4" cy="445.8" r="1.45"/>
<circle cx="308.7" cy="447.3" r="1.45"/>
<circle cx="314.5" cy="429.9" r="1.45"/>
<circle cx="310.1" cy="450.0" r="1.45"/>
<circle cx="308.6" cy="448.1" r="1.45"/>
<circle cx="311.8" cy="436.6" r="1.45"/>
<circle cx="313.9" cy="448.4" r="1.45"/>
<circle cx="310.9" cy="451.4" r="1.45"/>
<circle cx="311.7" cy="439.0" r="1.45"/>
<circle cx="358.9" cy="438.5" r="1.45"/>
<circle cx="375.9" cy="421.3" r="1.45"/>
<circle cx="373.4" cy="430.9" r="1.45"/>
<circle cx="389.5" cy="430.8" r="1.45"/>
<circle cx="349.7" cy="426.1" r="1.45"/>
<circle cx="348.6" cy="449.0" r="1.45"/>
<circle cx="354.4" cy="398.5" r="1.45"/>
<circle cx="379.2" cy="447.8" r="1.45"/>
<circle cx="350.3" cy="425.0" r="1.45"/>
<circle cx="381.0" cy="432.2" r="1.45"/>
<circle cx="388.7" cy="449.7" r="1.45"/>
<circle cx="364.7" cy="410.6" r="1.45"/>
<circle cx="370.3" cy="443.6" r="1.45"/>
<circle cx="366.7" cy="432.5" r="1.45"/>
<circle cx="347.0" cy="426.1" r="1.45"/>
<circle cx="353.6" cy="412.1" r="1.45"/>
<circle cx="352.6" cy="412.8" r="1.45"/>
<circle cx="368.2" cy="443.9" r="1.45"/>
<circle cx="349.2" cy="402.5" r="1.45"/>
<circle cx="358.1" cy="444.5" r="1.45"/>
<circle cx="348.9" cy="384.5" r="1.45"/>
<circle cx="363.8" cy="434.5" r="1.45"/>
<circle cx="350.6" cy="384.0" r="1.45"/>
<circle cx="368.0" cy="419.9" r="1.45"/>
<circle cx="354.8" cy="432.8" r="1.45"/>
<circle cx="356.2" cy="443.1" r="1.45"/>
<circle cx="364.8" cy="431.8" r="1.45"/>
<circle cx="377.8" cy="437.8" r="1.45"/>
<circle cx="357.7" cy="423.2" r="1.45"/>
<circle cx="398.2" cy="444.1" r="1.45"/>
<circle cx="368.7" cy="441.7" r="1.45"/>
<circle cx="362.4" cy="437.5" r="1.45"/>
<circle cx="384.0" cy="443.2" r="1.45"/>
<circle cx="381.6" cy="430.6" r="1.45"/>
<circle cx="357.7" cy="399.1" r="1.45"/>
<circle cx="355.6" cy="407.4" r="1.45"/>
<circle cx="363.4" cy="429.9" r="1.45"/>
<circle cx="347.9" cy="420.9" r="1.45"/>
<circle cx="352.7" cy="423.3" r="1.45"/>
<circle cx="402.7" cy="445.7" r="1.45"/>
<circle cx="368.2" cy="422.8" r="1.45"/>
<circle cx="351.8" cy="424.5" r="1.45"/>
<circle cx="349.3" cy="388.4" r="1.45"/>
<circle cx="351.9" cy="424.0" r="1.45"/>
<circle cx="354.3" cy="401.1" r="1.45"/>
<circle cx="381.1" cy="433.1" r="1.45"/>
<circle cx="361.0" cy="446.5" r="1.45"/>
<circle cx="387.8" cy="449.2" r="1.45"/>
<circle cx="354.9" cy="428.9" r="1.45"/>
</g>
<g fill="#ee0000" fill-opacity="0.6">
<circle cx="310.3" cy="336.0" r="1.45"/>
<circle cx="295.5" cy="450.5" r="1.45"/>
<circle cx="281.0" cy="322.5" r="1.45"/>
<circle cx="281.0" cy="331.5" r="1.45"/>
<circle cx="371.5" cy="342.0" r="1.45"/>
<circle cx="348.0" cy="366.0" r="1.45"/>
<circle cx="393.0" cy="364.0" r="1.45"/>
<circle cx="396.0" cy="376.5" r="1.45"/>
<circle cx="357.0" cy="372.4" r="1.45"/>
<circle cx="359.0" cy="380.6" r="1.45"/>
<circle cx="292.0" cy="375.0" r="1.45"/>
<circle cx="297.0" cy="382.0" r="1.45"/>
<circle cx="300.0" cy="389.0" r="1.45"/>
<circle cx="303.0" cy="397.0" r="1.45"/>
<circle cx="313.0" cy="407.5" r="1.45"/>
<circle cx="305.0" cy="419.0" r="1.45"/>
<circle cx="303.0" cy="426.0" r="1.45"/>
<circle cx="347.0" cy="388.7" r="1.45"/>
<circle cx="349.0" cy="398.0" r="1.45"/>
<circle cx="360.4" cy="402.0" r="1.45"/>
<circle cx="370.7" cy="404.0" r="1.45"/>
<circle cx="392.0" cy="410.0" r="1.45"/>
<circle cx="395.0" cy="407.0" r="1.45"/>
<circle cx="400.0" cy="416.3" r="1.45"/>
<circle cx="387.0" cy="413.0" r="1.45"/>
<circle cx="309.0" cy="430.0" r="1.45"/>
<circle cx="311.0" cy="438.0" r="1.45"/>
<circle cx="307.0" cy="444.0" r="1.45"/>
</g>
</g>
<line x1="314.71" y1="253.3" x2="314.71" y2="499.6" stroke="#6a6a6a" stroke-width="1.15" stroke-dasharray="2.7 2.5"/>
<line x1="346.69" y1="253.3" x2="346.69" y2="499.6" stroke="#6a6a6a" stroke-width="1.15" stroke-dasharray="2.7 2.5"/>
<line x1="256.8" y1="451.64" x2="426.9" y2="451.64" stroke="#6a6a6a" stroke-width="1.15" stroke-dasharray="2.7 2.5"/>
<text x="268" y="325.8" font-size="8.2" fill="#111" stroke="#111" stroke-width="0.22" font-family='"Liberation Sans", Arial, sans-serif'>CALB2</text>
<text x="278.5" y="334.7" font-size="8.2" fill="#111" stroke="#111" stroke-width="0.22" font-family='"Liberation Sans", Arial, sans-serif'>ALB</text>
<text x="272.7" y="344.3" font-size="8.2" fill="#111" stroke="#111" stroke-width="0.22" font-family='"Liberation Sans", Arial, sans-serif'>ADRA2A</text>
<text x="358" y="344.3" font-size="8.2" fill="#111" stroke="#111" stroke-width="0.22" font-family='"Liberation Sans", Arial, sans-serif'>CNTN2</text>
<text x="377.6" y="366.2" font-size="8.2" fill="#111" stroke="#111" stroke-width="0.22" font-family='"Liberation Sans", Arial, sans-serif'>GUSBP18</text>
<text x="337.3" y="368.9" font-size="8.2" fill="#111" stroke="#111" stroke-width="0.22" font-family='"Liberation Sans", Arial, sans-serif'>IGF1R</text>
<text x="373.8" y="375.9" font-size="8.2" fill="#111" stroke="#111" stroke-width="0.22" font-family='"Liberation Sans", Arial, sans-serif'>LOC105371789</text>
<text x="288" y="377.6" font-size="8.2" fill="#111" stroke="#111" stroke-width="0.22" font-family='"Liberation Sans", Arial, sans-serif'>FLRT3</text>
<text x="287" y="384.3" font-size="8.2" fill="#111" stroke="#111" stroke-width="0.22" font-family='"Liberation Sans", Arial, sans-serif'>APOH</text>
<text x="347.5" y="388.1" font-size="8.2" fill="#111" stroke="#111" stroke-width="0.22" font-family='"Liberation Sans", Arial, sans-serif'>CRYBA2</text>
<text x="287" y="391.9" font-size="8.2" fill="#111" stroke="#111" stroke-width="0.22" font-family='"Liberation Sans", Arial, sans-serif'>PROCR</text>
<text x="365" y="393.9" font-size="8.2" fill="#111" stroke="#111" stroke-width="0.22" font-family='"Liberation Sans", Arial, sans-serif'>ADGRG3</text>
<text x="281.6" y="399.9" font-size="8.2" fill="#111" stroke="#111" stroke-width="0.22" font-family='"Liberation Sans", Arial, sans-serif'>ANKRD30A</text>
<text x="352.8" y="404.0" font-size="8.2" fill="#111" stroke="#111" stroke-width="0.22" font-family='"Liberation Sans", Arial, sans-serif'>LOC100505918</text>
<text x="283.5" y="410.5" font-size="8.2" fill="#111" stroke="#111" stroke-width="0.22" font-family='"Liberation Sans", Arial, sans-serif'>CFAP95</text>
<text x="352.9" y="416.2" font-size="8.2" fill="#111" stroke="#111" stroke-width="0.22" font-family='"Liberation Sans", Arial, sans-serif'>ATP11A</text>
<text x="294.2" y="422.3" font-size="8.2" fill="#111" stroke="#111" stroke-width="0.22" font-family='"Liberation Sans", Arial, sans-serif'>RAC2</text>
<text x="325.8" y="424.5" font-size="8.2" fill="#111" stroke="#111" stroke-width="0.22" font-family='"Liberation Sans", Arial, sans-serif'>ARHGAP24</text>
<text x="300.5" y="428.4" font-size="8.2" fill="#111" stroke="#111" stroke-width="0.22" font-family='"Liberation Sans", Arial, sans-serif'>A2M</text>
<text x="331.8" y="431.9" font-size="8.2" fill="#111" stroke="#111" stroke-width="0.22" font-family='"Liberation Sans", Arial, sans-serif'>ADAMTS1</text>
<text x="370.5" y="434.1" font-size="8.2" fill="#111" stroke="#111" stroke-width="0.22" font-family='"Liberation Sans", Arial, sans-serif'>ADAMTS14</text>
<text x="299.6" y="438.4" font-size="8.2" fill="#111" stroke="#111" stroke-width="0.22" font-family='"Liberation Sans", Arial, sans-serif'>GSTM3</text>
<text x="339.4" y="438.4" font-size="8.2" fill="#111" stroke="#111" stroke-width="0.22" font-family='"Liberation Sans", Arial, sans-serif'>MSMB</text>
<text x="300.5" y="445.3" font-size="8.2" fill="#111" stroke="#111" stroke-width="0.22" font-family='"Liberation Sans", Arial, sans-serif'>ASB9</text>
<text x="337.8" y="444.7" font-size="8.2" fill="#111" stroke="#111" stroke-width="0.22" font-family='"Liberation Sans", Arial, sans-serif'>ASGR1</text>
<text x="366.7" y="447.4" font-size="8.2" fill="#111" stroke="#111" stroke-width="0.22" font-family='"Liberation Sans", Arial, sans-serif'>DPT</text>
<text x="272.4" y="451.9" font-size="8.2" fill="#111" stroke="#111" stroke-width="0.22" font-family='"Liberation Sans", Arial, sans-serif'>SOX2</text>
<text x="300.5" y="451.5" font-size="8.2" fill="#111" stroke="#111" stroke-width="0.22" font-family='"Liberation Sans", Arial, sans-serif'>ACADL</text>
<text x="333.2" y="452.9" font-size="8.2" fill="#111" stroke="#111" stroke-width="0.22" font-family='"Liberation Sans", Arial, sans-serif'>LINC00957</text>
<path d="M 256.8 253.3 L 256.8 499.6 L 426.9 499.6" fill="none" stroke="#1a1a1a" stroke-width="1.1"/>
<line x1="288.06" y1="499.6" x2="288.06" y2="503.0" stroke="#1a1a1a" stroke-width="1"/>
<text x="288.06" y="514.1" font-size="10.5" text-anchor="middle" fill="#4d4d4d" font-family='"Liberation Sans", Arial, sans-serif'>−4</text>
<line x1="330.70" y1="499.6" x2="330.70" y2="503.0" stroke="#1a1a1a" stroke-width="1"/>
<text x="330.70" y="514.1" font-size="10.5" text-anchor="middle" fill="#4d4d4d" font-family='"Liberation Sans", Arial, sans-serif'>0</text>
<line x1="373.34" y1="499.6" x2="373.34" y2="503.0" stroke="#1a1a1a" stroke-width="1"/>
<text x="373.34" y="514.1" font-size="10.5" text-anchor="middle" fill="#4d4d4d" font-family='"Liberation Sans", Arial, sans-serif'>4</text>
<line x1="415.98" y1="499.6" x2="415.98" y2="503.0" stroke="#1a1a1a" stroke-width="1"/>
<text x="415.98" y="514.1" font-size="10.5" text-anchor="middle" fill="#4d4d4d" font-family='"Liberation Sans", Arial, sans-serif'>8</text>
<line x1="253.3" y1="488.20" x2="256.8" y2="488.20" stroke="#1a1a1a" stroke-width="1"/>
<text x="250.2" y="492.50" font-size="10.5" text-anchor="end" fill="#4d4d4d" font-family='"Liberation Sans", Arial, sans-serif'>0</text>
<line x1="253.3" y1="432.00" x2="256.8" y2="432.00" stroke="#1a1a1a" stroke-width="1"/>
<text x="250.2" y="436.30" font-size="10.5" text-anchor="end" fill="#4d4d4d" font-family='"Liberation Sans", Arial, sans-serif'>2</text>
<line x1="253.3" y1="375.80" x2="256.8" y2="375.80" stroke="#1a1a1a" stroke-width="1"/>
<text x="250.2" y="380.10" font-size="10.5" text-anchor="end" fill="#4d4d4d" font-family='"Liberation Sans", Arial, sans-serif'>4</text>
<line x1="253.3" y1="319.60" x2="256.8" y2="319.60" stroke="#1a1a1a" stroke-width="1"/>
<text x="250.2" y="323.90" font-size="10.5" text-anchor="end" fill="#4d4d4d" font-family='"Liberation Sans", Arial, sans-serif'>6</text>
<line x1="253.3" y1="263.40" x2="256.8" y2="263.40" stroke="#1a1a1a" stroke-width="1"/>
<text x="250.2" y="267.70" font-size="10.5" text-anchor="end" fill="#4d4d4d" font-family='"Liberation Sans", Arial, sans-serif'>8</text>
<text transform="translate(14.1,206.6) scale(0.88,1)" font-size="14.6" font-weight="bold" fill="#000" stroke="#000" stroke-width="0.35" font-family='"Liberation Sans", Arial, sans-serif'>B</text>
<text transform="translate(232.9,206.5) scale(0.92,1)" font-size="14.8" font-weight="bold" fill="#000" stroke="#000" stroke-width="0.35" font-family='"Liberation Sans", Arial, sans-serif'>C</text>
<text x="120" y="190.7" font-size="10.65" text-anchor="middle" font-weight="normal" fill="#222" font-family='"Liberation Sans", Arial, sans-serif' >Up-regulated genes 294</text>
<text x="119.4" y="203.5" font-size="10.65" text-anchor="middle" font-weight="normal" fill="#222" font-family='"Liberation Sans", Arial, sans-serif' >Down-regulated genes 160</text>
<text x="335.1" y="193.3" font-size="10.65" text-anchor="middle" font-weight="normal" fill="#222" font-family='"Liberation Sans", Arial, sans-serif' >Up-regulated genes 290</text>
<text x="334.5" y="206.6" font-size="10.65" text-anchor="middle" font-weight="normal" fill="#222" font-family='"Liberation Sans", Arial, sans-serif' >Down-regulated genes 83</text>
<text x="121" y="228.6" font-size="11.9" text-anchor="middle" font-weight="bold" fill="#111" font-family='"Liberation Sans", Arial, sans-serif' stroke="#111" stroke-width="0.2">22Rv1 &amp; 22Rv1-CI</text>
<text x="337.6" y="228.1" font-size="11.9" text-anchor="middle" font-weight="bold" fill="#111" font-family='"Liberation Sans", Arial, sans-serif' stroke="#111" stroke-width="0.2">22Rv1 &amp; 22Rv1-PCI</text>
<text x="53.5" y="244.8" font-size="8.25" text-anchor="start" font-weight="normal" fill="#222" font-family='"Liberation Sans", Arial, sans-serif' >Fold Change &gt; 1.5, pvalue &lt; 0.05</text>
<text x="257.5" y="244.1" font-size="8.25" text-anchor="start" font-weight="normal" fill="#222" font-family='"Liberation Sans", Arial, sans-serif' >Fold Change &gt; 1.5, pvalue &lt; 0.05</text>
<text x="137" y="529.5" font-size="10.5" text-anchor="middle" font-weight="normal" fill="#111" font-family='"Liberation Sans", Arial, sans-serif' >Log<tspan font-size="7.6" dy="2.2">2</tspan><tspan dy="-2.2"> fold change</tspan></text>
<text x="342.8" y="528" font-size="10.5" text-anchor="middle" font-weight="normal" fill="#111" font-family='"Liberation Sans", Arial, sans-serif' >Log<tspan font-size="7.6" dy="2.2">2</tspan><tspan dy="-2.2"> fold change</tspan></text>
<text x="218.5" y="547.3" font-size="8.3" text-anchor="end" font-weight="normal" fill="#111" font-family='"Liberation Sans", Arial, sans-serif' >total = 54557 variables</text>
<text x="427" y="545.3" font-size="8.3" text-anchor="end" font-weight="normal" fill="#111" font-family='"Liberation Sans", Arial, sans-serif' >total = 54557 variables</text>
<text transform="translate(27.3,376.3) rotate(-90)" font-size="11" text-anchor="middle" fill="#111" font-family='"Liberation Sans", Arial, sans-serif'>−Log<tspan font-size="7.8" dy="2.2">10</tspan><tspan dy="-2.2"> </tspan><tspan font-style="italic">P</tspan></text>
<text transform="translate(236.6,375) rotate(-90)" font-size="11" text-anchor="middle" fill="#111" font-family='"Liberation Sans", Arial, sans-serif'>−Log<tspan font-size="7.8" dy="2.2">10</tspan><tspan dy="-2.2"> </tspan><tspan font-style="italic">P</tspan></text>
</svg>
</body></html>
